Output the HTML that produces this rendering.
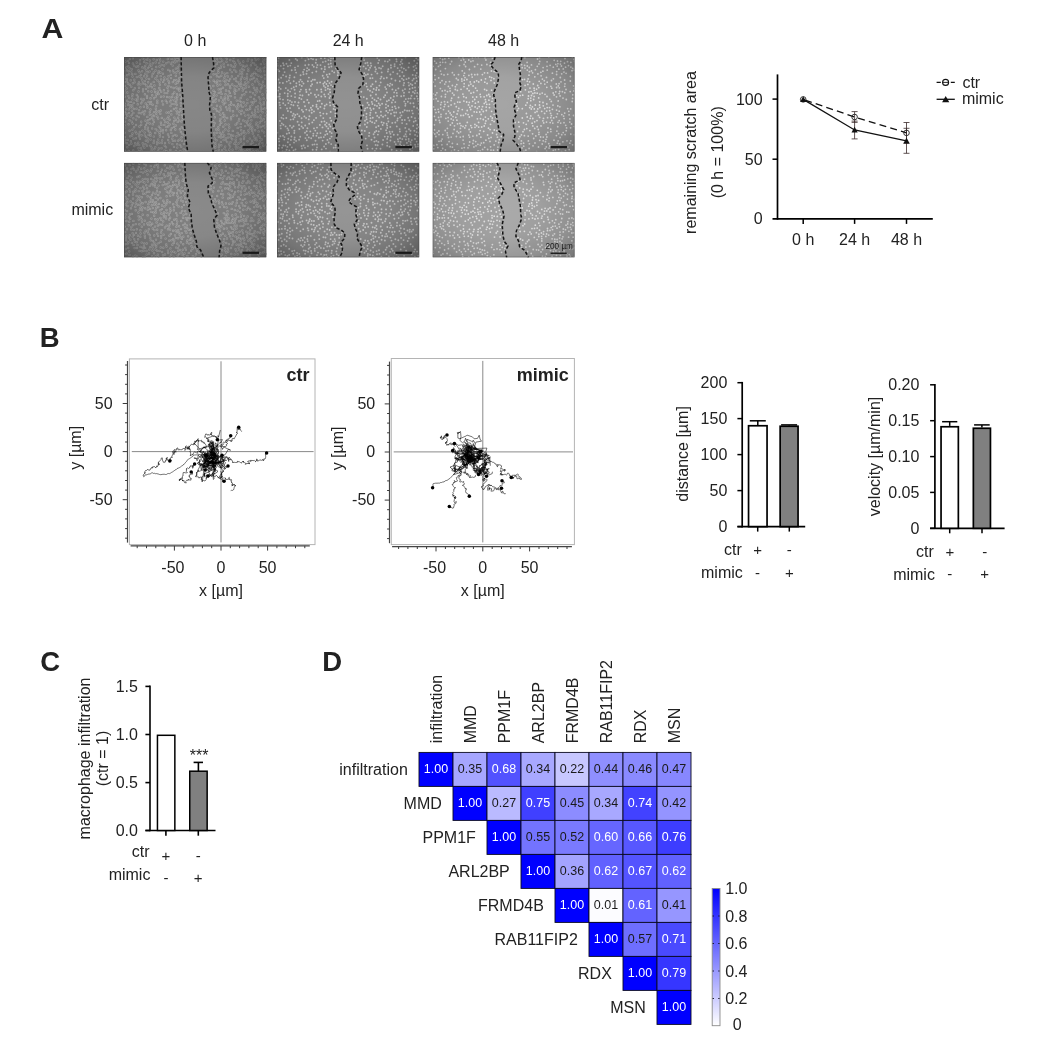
<!DOCTYPE html>
<html lang="en"><head><meta charset="utf-8"><title>Figure</title>
<style>html,body{margin:0;padding:0;background:#fff}svg{display:block;filter:blur(0.4px)}text{font-family:"Liberation Sans",Arial,sans-serif}</style>
</head><body>
<svg width="1046" height="1042" viewBox="0 0 1046 1042">
<defs>
<radialGradient id="g00" cx="48%" cy="50%" r="72%"><stop offset="0" stop-color="#000" stop-opacity="0"/><stop offset="0.4" stop-color="#000" stop-opacity="0.022"/><stop offset="0.72" stop-color="#000" stop-opacity="0.144"/><stop offset="1" stop-color="#000" stop-opacity="0.360"/></radialGradient>
<clipPath id="c00"><rect x="124.0" y="57.0" width="142.5" height="94.8"/></clipPath>
<radialGradient id="g01" cx="48%" cy="50%" r="72%"><stop offset="0" stop-color="#000" stop-opacity="0"/><stop offset="0.4" stop-color="#000" stop-opacity="0.022"/><stop offset="0.72" stop-color="#000" stop-opacity="0.144"/><stop offset="1" stop-color="#000" stop-opacity="0.360"/></radialGradient>
<clipPath id="c01"><rect x="277.0" y="57.0" width="142.4" height="94.8"/></clipPath>
<radialGradient id="g02" cx="48%" cy="50%" r="72%"><stop offset="0" stop-color="#000" stop-opacity="0"/><stop offset="0.4" stop-color="#000" stop-opacity="0.018"/><stop offset="0.72" stop-color="#000" stop-opacity="0.120"/><stop offset="1" stop-color="#000" stop-opacity="0.300"/></radialGradient>
<clipPath id="c02"><rect x="432.5" y="57.0" width="142.2" height="94.8"/></clipPath>
<radialGradient id="g10" cx="48%" cy="50%" r="72%"><stop offset="0" stop-color="#000" stop-opacity="0"/><stop offset="0.4" stop-color="#000" stop-opacity="0.022"/><stop offset="0.72" stop-color="#000" stop-opacity="0.144"/><stop offset="1" stop-color="#000" stop-opacity="0.360"/></radialGradient>
<clipPath id="c10"><rect x="124.0" y="162.8" width="142.5" height="94.7"/></clipPath>
<radialGradient id="g11" cx="48%" cy="50%" r="72%"><stop offset="0" stop-color="#000" stop-opacity="0"/><stop offset="0.4" stop-color="#000" stop-opacity="0.022"/><stop offset="0.72" stop-color="#000" stop-opacity="0.144"/><stop offset="1" stop-color="#000" stop-opacity="0.360"/></radialGradient>
<clipPath id="c11"><rect x="277.0" y="162.8" width="142.4" height="94.7"/></clipPath>
<radialGradient id="g12" cx="48%" cy="50%" r="72%"><stop offset="0" stop-color="#000" stop-opacity="0"/><stop offset="0.4" stop-color="#000" stop-opacity="0.017"/><stop offset="0.72" stop-color="#000" stop-opacity="0.112"/><stop offset="1" stop-color="#000" stop-opacity="0.280"/></radialGradient>
<clipPath id="c12"><rect x="432.5" y="162.8" width="142.2" height="94.7"/></clipPath>
<filter id="bl" x="-5%" y="-5%" width="110%" height="110%"><feGaussianBlur stdDeviation="0.45"/></filter>
<linearGradient id="cb" x1="0" y1="0" x2="0" y2="1"><stop offset="0" stop-color="#0000ff"/><stop offset="1" stop-color="#ffffff"/></linearGradient>
</defs>
<rect width="1046" height="1042" fill="#fff"/>
<g clip-path="url(#c00)">
<rect x="124.0" y="57.0" width="142.5" height="94.8" fill="#7d7d7d"/>
<g filter="url(#bl)"><path d="M170.1 71.3h0M216.8 63.9h0M132.3 105.1h0M129.3 98.1h0M134.0 65.6h0M184.5 135.4h0M141.6 78.2h0M213.4 146.8h0M263.1 61.4h0M246.3 84.5h0M144.6 68.2h0M168.0 134.4h0M149.8 112.1h0M215.0 92.3h0M132.5 76.5h0M221.0 97.5h0M168.8 112.5h0M237.2 123.3h0M158.8 111.5h0M227.9 84.3h0M263.7 68.2h0M183.6 128.8h0M145.7 103.4h0M129.6 120.3h0M233.0 111.3h0M248.8 86.7h0M223.1 113.3h0M243.7 146.6h0M132.6 123.5h0M216.2 151.1h0M241.1 84.0h0M179.0 120.4h0M127.2 100.8h0M147.9 68.1h0M132.4 129.8h0M142.4 80.5h0M179.7 139.6h0M135.5 99.6h0M240.7 138.9h0M163.7 96.4h0M175.1 140.8h0M260.5 71.3h0M149.1 79.0h0M157.3 103.0h0M124.6 96.7h0M176.6 110.7h0M259.8 122.5h0M220.4 62.1h0M252.2 130.9h0M248.6 132.6h0M179.9 94.8h0M138.8 117.1h0M132.9 63.4h0M153.7 72.4h0M172.5 62.0h0M124.0 71.3h0M138.5 91.5h0M127.6 139.9h0M211.5 71.1h0M159.9 89.9h0M175.9 68.6h0M245.0 151.1h0M136.2 66.7h0M172.8 82.1h0M242.1 72.3h0M127.3 147.2h0M247.0 123.0h0M161.2 91.8h0M147.8 130.2h0M171.0 78.1h0M239.6 150.4h0M245.5 133.4h0M240.6 127.1h0M156.3 106.1h0M174.7 59.7h0M128.0 83.5h0M160.9 122.7h0M260.3 99.4h0M257.5 150.7h0M260.1 91.6h0M155.4 78.5h0M152.0 76.4h0M212.9 142.3h0M243.8 102.5h0M217.0 132.8h0M136.1 119.6h0M230.9 102.3h0M149.4 131.8h0M171.4 132.9h0M262.5 94.5h0M181.2 146.8h0M227.3 73.1h0M142.1 71.3h0M252.9 133.5h0M144.8 135.4h0M263.7 119.3h0M173.9 109.0h0M142.7 58.4h0M241.7 77.0h0M159.9 84.8h0M161.0 96.7h0M142.7 143.3h0M174.4 100.4h0M183.9 144.0h0M124.6 132.8h0M148.6 101.9h0M227.3 109.8h0M170.5 106.1h0M139.1 110.1h0M234.0 105.1h0M254.0 99.0h0M211.3 104.9h0M223.6 140.1h0M258.3 81.6h0M243.7 70.0h0M141.3 98.9h0M134.3 79.8h0M235.7 142.0h0M146.0 124.9h0M218.1 70.6h0M249.8 148.7h0M155.3 147.3h0M180.8 103.2h0M265.1 135.9h0M147.0 97.9h0M151.9 87.2h0M226.9 58.8h0M126.6 88.4h0M133.2 150.4h0M236.3 149.1h0M138.9 82.2h0M129.6 130.8h0M162.5 69.3h0M240.7 81.5h0M145.3 144.1h0M136.7 62.5h0M134.3 146.0h0M214.4 133.0h0M135.9 138.2h0M133.5 138.8h0M139.6 72.3h0M168.5 85.9h0M232.2 84.5h0M159.7 58.5h0M151.0 102.0h0M257.2 67.1h0M240.7 98.0h0M222.0 150.1h0M172.8 135.9h0M224.7 117.3h0M181.7 89.9h0M131.8 69.3h0M134.1 127.2h0M160.4 72.5h0M248.1 120.6h0M164.2 80.0h0M165.8 100.6h0M161.5 148.2h0M262.6 108.9h0M158.8 148.5h0M168.1 90.8h0M124.2 93.2h0M152.6 104.8h0M124.7 82.0h0M136.8 94.9h0M129.9 59.1h0M167.4 79.1h0M231.0 119.3h0M226.0 140.3h0M179.5 87.9h0M264.3 71.2h0M227.2 118.0h0M130.2 136.2h0M251.1 116.5h0M228.6 134.0h0M143.9 106.7h0M238.7 135.3h0M221.3 122.7h0M156.8 60.0h0M143.0 91.2h0M139.0 136.2h0M213.2 121.5h0M237.7 127.9h0M229.0 80.9h0M134.6 82.2h0M227.9 76.5h0M229.4 149.5h0M233.3 115.5h0M145.0 81.1h0M229.9 85.9h0M220.3 84.6h0M251.3 75.9h0M263.4 145.8h0M154.0 112.1h0M240.9 105.2h0M250.4 123.7h0M157.0 142.1h0M124.5 103.6h0M169.0 136.7h0M124.2 128.2h0M256.0 124.6h0M252.5 84.5h0M177.0 94.2h0M266.3 112.9h0M175.4 97.6h0M163.2 61.6h0M164.7 145.7h0M159.5 82.2h0M177.2 147.6h0M258.0 109.1h0M226.5 61.7h0M228.4 99.7h0M256.1 69.1h0M166.4 127.1h0M263.1 81.7h0M217.5 85.5h0M147.8 72.3h0M153.6 142.9h0M253.1 151.5h0M151.4 65.6h0M172.7 65.6h0M230.8 96.1h0M177.7 89.1h0M132.8 83.3h0M247.0 77.5h0M181.0 99.3h0M259.9 137.5h0M248.4 59.1h0M128.6 124.3h0M251.6 101.9h0M179.8 144.9h0M258.2 125.4h0M216.2 129.5h0M157.1 144.2h0M214.7 123.2h0M140.0 63.7h0M179.3 78.2h0M260.6 118.1h0M157.5 80.4h0M167.8 59.1h0M219.1 144.7h0M172.2 96.9h0M221.3 75.8h0M262.2 86.6h0M240.9 78.9h0M155.6 129.1h0M166.0 147.2h0M155.8 96.5h0M218.8 146.9h0M144.9 94.3h0M154.3 149.3h0M144.2 61.9h0M132.6 94.3h0M252.0 140.8h0M228.4 151.6h0M256.8 88.2h0M150.4 145.7h0M230.3 60.0h0M218.7 92.9h0M148.1 57.3h0M163.9 90.3h0M260.2 68.7h0M261.4 76.7h0M174.8 134.9h0M131.0 101.9h0M177.1 144.2h0M151.5 91.5h0M251.8 59.9h0M182.5 134.0h0M233.3 60.9h0M129.0 62.9h0M255.1 81.4h0M230.5 142.2h0M260.5 115.5h0M161.4 124.9h0M169.1 83.1h0M254.6 117.1h0M258.4 59.3h0M260.3 147.4h0M179.1 80.8h0M256.3 74.3h0M241.2 130.3h0M210.5 88.1h0M235.5 64.5h0M152.1 128.4h0M159.2 63.1h0M128.8 109.4h0M170.4 149.9h0M161.7 65.0h0M137.7 104.3h0M225.1 99.4h0M230.6 137.3h0M218.7 68.5h0M243.8 84.9h0M145.8 140.8h0M180.4 151.1h0M239.2 118.9h0M265.2 66.7h0M243.8 143.7h0M129.8 84.8h0M141.0 75.0h0M262.6 112.3h0M256.5 92.3h0M247.4 99.6h0M161.0 130.7h0M155.0 92.0h0M144.1 76.3h0M160.3 113.8h0M216.9 76.3h0M168.5 76.3h0M237.3 109.0h0M180.3 109.2h0M215.1 65.6h0M147.3 122.9h0M247.2 151.5h0M175.8 75.7h0M124.8 142.5h0M181.9 140.7h0M126.1 109.3h0M215.3 143.2h0M136.7 116.0h0M176.8 104.8h0M144.8 83.9h0M152.1 69.0h0M236.0 78.1h0M181.6 137.2h0M242.2 74.3h0M227.3 142.1h0M213.4 86.0h0M127.3 115.7h0M232.8 130.9h0M228.5 130.7h0M151.6 150.1h0M254.5 72.7h0M236.3 145.2h0M133.3 90.3h0M231.8 72.1h0M240.2 70.6h0M153.7 81.9h0M129.2 74.3h0M147.0 145.8h0M220.9 141.9h0M140.4 107.3h0M248.4 109.6h0M138.9 151.1h0M213.7 94.4h0M237.7 82.1h0M175.3 129.5h0M168.6 57.2h0M128.8 71.2h0M211.8 98.0h0M217.1 59.1h0M124.4 90.7h0M212.9 102.0h0M143.2 145.8h0M158.7 71.2h0M125.6 118.1h0M216.0 99.1h0M159.4 142.7h0M130.3 107.4h0M258.1 70.5h0M152.4 114.6h0M239.9 73.6h0M130.9 141.3h0M235.6 124.8h0M124.9 137.1h0M156.2 67.0h0M171.8 128.1h0M223.1 137.1h0M225.4 82.2h0M236.4 106.6h0M161.8 117.9h0M161.1 79.4h0M230.0 146.6h0M230.3 88.0h0M218.8 149.8h0M154.2 116.0h0M135.1 143.3h0M144.6 59.6h0M139.2 145.1h0M173.1 70.4h0M128.1 60.9h0M222.7 117.1h0M223.3 126.8h0M133.4 113.0h0M240.8 141.5h0M254.3 146.5h0M139.3 76.5h0M140.0 60.3h0M214.4 135.2h0M138.2 66.3h0M231.9 76.4h0M169.5 97.2h0M127.0 81.3h0M164.3 124.9h0M176.4 87.4h0M261.4 104.8h0M245.3 115.6h0M128.4 96.1h0M173.4 123.8h0M246.9 65.6h0M124.2 76.2h0M232.6 149.7h0M150.3 103.9h0M164.4 77.4h0M223.7 104.2h0M135.5 131.7h0M223.3 131.6h0M213.5 90.7h0M250.9 65.2h0M252.4 104.5h0M178.1 140.8h0M157.3 100.7h0M173.7 88.0h0M146.1 136.9h0M218.3 127.3h0M250.1 79.6h0M159.3 88.0h0M170.8 74.9h0M263.0 126.1h0M138.5 148.2h0M264.2 132.4h0M152.0 117.5h0M179.3 60.2h0M180.9 132.0h0M144.2 114.2h0M181.7 127.2h0M245.5 121.4h0M168.6 116.6h0M137.9 96.8h0M213.7 80.7h0M150.1 119.0h0M234.9 93.8h0M258.0 106.2h0M153.9 121.9h0M179.9 129.3h0M141.4 150.3h0M174.7 62.4h0M155.2 133.0h0M142.4 130.6h0M174.3 117.6h0M240.7 134.4h0M242.8 90.6h0M245.2 82.4h0M124.4 125.4h0M167.0 102.5h0M256.3 138.0h0M132.1 135.5h0M214.2 58.4h0M217.5 80.7h0M138.5 70.5h0M157.3 130.6h0M147.9 141.5h0M236.3 136.5h0M218.8 136.7h0M177.4 96.7h0M260.9 64.1h0M214.8 117.3h0M221.3 145.3h0M172.3 138.7h0M176.2 102.0h0M154.0 98.3h0M242.0 95.3h0M171.2 87.1h0M166.6 112.6h0M250.2 108.7h0M255.3 114.7h0M219.0 100.4h0M232.7 66.6h0M149.8 60.5h0M234.4 143.7h0M167.0 97.0h0M215.5 145.5h0M131.8 110.8h0M129.6 68.3h0M239.5 111.5h0M263.8 102.1h0M124.7 121.8h0M226.5 80.0h0M225.7 138.1h0M228.0 65.0h0M240.5 64.6h0M168.3 126.2h0M147.7 138.6h0M144.6 132.6h0M213.7 96.6h0M258.7 131.4h0M224.2 135.4h0M171.3 114.4h0M209.7 86.3h0M185.1 141.2h0M177.7 121.9h0M239.1 83.9h0M256.8 79.2h0M160.3 128.2h0M236.8 100.6h0M136.5 133.5h0M234.0 79.1h0M250.1 106.5h0M149.7 123.5h0M181.4 106.0h0M266.1 92.5h0M236.2 71.8h0M128.8 150.9h0M247.4 103.1h0M235.0 97.4h0M240.7 148.3h0M160.2 60.6h0M152.6 74.1h0M253.7 63.1h0M141.1 147.9h0M160.7 110.5h0M215.3 147.7h0M261.6 151.0h0M252.6 142.8h0M243.3 61.5h0M139.0 87.7h0M220.6 58.2h0M129.1 144.9h0M247.5 141.2h0M143.9 99.4h0M241.3 102.3h0M213.5 70.5h0M155.6 62.4h0M243.6 88.7h0M169.3 142.6h0M219.2 77.0h0M160.7 76.1h0M175.9 150.9h0M266.2 144.7h0M137.9 84.4h0M251.7 62.4h0M263.5 58.5h0M239.0 89.3h0M242.6 106.9h0M150.5 98.3h0M254.0 77.7h0M225.4 75.6h0M152.8 63.2h0M228.4 95.7h0M244.0 139.0h0M253.7 102.2h0M248.3 82.2h0M150.5 135.8h0M176.3 72.5h0M176.9 113.4h0M124.7 106.3h0M141.2 124.7h0M169.7 124.4h0M159.7 134.5h0M128.3 66.1h0M126.5 113.8h0M224.1 66.8h0M247.9 125.0h0M145.0 111.3h0M241.7 145.9h0M234.7 89.1h0M186.1 150.0h0M238.6 143.5h0M127.0 70.2h0M262.2 130.6h0M257.5 117.0h0M215.4 82.2h0M259.5 84.3h0M167.5 118.4h0M141.2 113.3h0M162.2 101.2h0M136.5 108.8h0M152.7 124.3h0M246.8 79.6h0M164.6 150.6h0M166.1 130.2h0M146.6 63.3h0M260.7 127.0h0M146.0 88.9h0M174.2 121.0h0M229.3 127.5h0M235.7 139.7h0M210.5 93.0h0M150.3 85.8h0M244.2 136.5h0M125.5 61.5h0M255.1 130.3h0M221.6 93.9h0M174.0 146.9h0M220.4 106.8h0M265.9 89.5h0M148.3 87.2h0M250.6 96.9h0M213.8 114.2h0M214.7 61.0h0M167.7 122.5h0M124.6 85.9h0M244.0 112.6h0M132.9 58.2h0M226.0 90.5h0M148.1 82.3h0M138.2 142.7h0M240.3 85.8h0M158.6 94.0h0M168.1 140.0h0M262.4 84.6h0M141.6 135.3h0M174.1 80.2h0M151.2 83.9h0M218.7 89.4h0M252.2 112.7h0M176.4 80.3h0M210.7 77.1h0M248.3 68.6h0M179.6 65.2h0M169.7 119.8h0M166.3 63.2h0M249.8 138.6h0M142.8 83.2h0M182.8 119.5h0M223.6 80.6h0M213.6 74.2h0M228.6 124.6h0M147.1 75.8h0M167.2 93.1h0M173.7 57.1h0M130.7 80.2h0M139.8 132.0h0M230.8 65.2h0M164.1 65.5h0M258.9 97.2h0M256.6 122.6h0M213.5 99.9h0M168.3 69.9h0M224.7 120.5h0M257.4 90.3h0M148.1 120.2h0M233.2 135.8h0M140.3 84.4h0M170.2 101.4h0M265.4 128.1h0M136.0 125.0h0M241.6 87.4h0M176.6 135.8h0M240.8 123.9h0M146.4 85.4h0M222.0 72.5h0M164.4 119.7h0M262.4 143.1h0M247.3 149.4h0M239.6 62.7h0M220.4 114.7h0M259.8 102.6h0M172.9 140.9h0M140.0 138.7h0M156.3 111.3h0M265.2 125.4h0M179.9 73.2h0M260.8 110.4h0M234.4 70.0h0M234.6 62.5h0M154.4 85.4h0M224.8 97.4h0M254.7 139.5h0M147.9 127.7h0M221.0 135.3h0M220.2 81.1h0M150.4 109.5h0M165.3 122.1h0M178.3 70.7h0M222.3 133.6h0M238.1 60.4h0M244.4 94.3h0M248.4 114.9h0M134.8 88.2h0M148.2 91.2h0M179.3 90.5h0M124.9 111.9h0M171.6 58.9h0M163.0 104.4h0M265.4 60.2h0M248.3 130.4h0M175.7 83.7h0M229.4 105.2h0M125.0 139.6h0M255.3 112.3h0M135.4 73.9h0M133.7 102.9h0M224.4 77.7h0M180.9 76.0h0M248.8 117.7h0M216.5 95.4h0M220.8 89.0h0M132.2 96.3h0M130.5 116.4h0M171.7 103.9h0M209.2 81.4h0M146.3 70.5h0M225.4 129.4h0M234.6 86.3h0M234.3 91.4h0M265.0 78.6h0M145.3 73.8h0M229.1 144.4h0M147.1 59.8h0M264.0 104.3h0M139.4 126.5h0M133.3 118.2h0M157.0 76.3h0M166.5 151.3h0M231.1 135.0h0M153.9 140.8h0M247.0 74.3h0M221.3 65.6h0M172.4 144.1h0M222.2 60.6h0M141.2 103.2h0M145.1 127.0h0M174.4 104.0h0M254.9 90.1h0M249.8 126.3h0M162.9 73.8h0M130.2 105.2h0M175.7 58.0h0M183.7 149.2h0M266.3 57.5h0M244.1 131.3h0M222.9 87.8h0M216.1 109.0h0M245.6 105.4h0M157.4 116.7h0M229.9 92.9h0M225.5 94.3h0M213.6 108.5h0M161.8 143.1h0M155.5 70.5h0M256.1 107.1h0M148.6 134.9h0M247.7 61.1h0M238.5 106.4h0M223.0 99.6h0M220.9 91.8h0M132.2 73.9h0M242.9 65.7h0M214.7 138.4h0M236.9 115.6h0M177.0 61.2h0M225.5 85.0h0M178.9 111.9h0M170.9 63.7h0M252.4 128.8h0M220.9 109.5h0M131.8 121.6h0M225.3 102.8h0M248.3 70.8h0M124.9 150.7h0M163.1 81.9h0M168.6 81.2h0M246.4 109.7h0M238.2 76.0h0M255.0 109.7h0M131.3 86.8h0M163.0 132.5h0M238.1 104.2h0M220.0 121.0h0M235.8 147.1h0M253.9 87.8h0M178.1 117.7h0M155.8 108.7h0M137.3 101.0h0M227.8 97.8h0M220.7 67.8h0M242.1 68.6h0M255.6 151.4h0M244.5 78.5h0M255.8 60.1h0M217.6 61.7h0M171.5 99.6h0M142.8 111.8h0M174.3 92.5h0M218.5 72.5h0M145.2 65.9h0M147.4 107.8h0M152.2 95.3h0M158.2 139.6h0M239.5 100.8h0M255.2 58.0h0M158.9 126.6h0M231.1 117.3h0M173.8 72.4h0M261.6 120.8h0M230.2 69.8h0M242.6 133.0h0M260.9 107.4h0M159.9 136.5h0M258.2 135.3h0M126.3 67.5h0M141.2 121.7h0M264.9 75.0h0M251.4 120.2h0M259.8 141.5h0M238.7 121.1h0M168.5 62.1h0M258.5 75.7h0M241.8 110.7h0M134.0 109.0h0M172.7 94.2h0M150.5 139.6h0M143.0 89.1h0M219.2 111.8h0M181.5 111.4h0M163.0 137.1h0M145.5 120.7h0M231.5 104.5h0M216.5 140.3h0M224.3 115.1h0M223.7 63.8h0M132.4 99.3h0M171.2 110.9h0M153.8 136.6h0M128.0 104.8h0M213.8 125.7h0M261.0 88.2h0M264.5 63.8h0M259.1 144.2h0M147.3 116.9h0M265.3 86.0h0M142.3 67.3h0M127.0 143.2h0M225.2 146.6h0M263.7 98.4h0M178.0 57.9h0M253.1 93.3h0M138.8 113.0h0M219.9 124.7h0M158.2 118.6h0M222.6 101.7h0M158.0 150.6h0M156.6 94.2h0M150.6 133.5h0M147.2 105.5h0M250.8 143.9h0M180.6 57.7h0M228.0 137.6h0M244.9 66.6h0M233.6 57.7h0M182.1 114.9h0M254.1 136.4h0M221.0 137.6h0M137.5 99.0h0M127.0 78.9h0M170.8 130.0h0M176.3 107.9h0M136.8 77.1h0M165.0 142.9h0M226.0 150.8h0M163.0 129.9h0M149.3 66.5h0M216.9 111.0h0M175.8 125.5h0M159.4 132.5h0M164.7 93.1h0M215.4 101.7h0M230.1 110.4h0M158.2 73.2h0M255.7 100.7h0M153.3 119.8h0M217.0 105.8h0M229.5 107.9h0M246.2 91.9h0M252.6 74.2h0M156.3 113.7h0M181.3 121.4h0M266.4 100.3h0M127.3 92.5h0M124.0 114.6h0M131.4 143.7h0M165.3 84.4h0M261.8 139.5h0M157.7 91.7h0M219.8 132.8h0M216.3 74.1h0M252.3 79.0h0M228.8 91.1h0M218.5 129.7h0M181.9 96.9h0M258.3 111.7h0M224.4 148.6h0M241.1 114.0h0M124.6 78.8h0M131.3 71.6h0M237.6 133.0h0M146.4 78.5h0M237.2 86.4h0M131.9 114.8h0M256.8 140.2h0M226.1 107.2h0M177.0 99.4h0M256.2 145.5h0M142.4 101.2h0M151.6 147.8h0M139.2 134.1h0M245.8 87.5h0M177.9 67.5h0M182.5 117.3h0M250.4 128.6h0M257.7 127.6h0M220.5 118.9h0M154.5 89.3h0M159.5 66.5h0M238.3 147.4h0M252.2 126.6h0M129.0 113.0h0M236.4 90.8h0M249.8 151.1h0M144.4 147.7h0M266.5 110.2h0M232.2 139.3h0M153.6 59.2h0M252.3 147.5h0M225.5 124.4h0M147.0 95.9h0M245.1 126.1h0M255.1 95.1h0M179.2 114.7h0M127.1 75.3h0M132.5 133.4h0M136.8 144.7h0M149.8 114.8h0M224.6 73.6h0M149.6 71.4h0M174.0 126.9h0M132.4 107.3h0M177.7 82.5h0M265.2 122.2h0M255.5 64.9h0M145.2 129.1h0M234.7 66.8h0M217.2 83.3h0M264.8 108.3h0M128.7 102.3h0M236.0 80.7h0M253.2 115.1h0M230.1 79.0h0M250.3 91.9h0M243.2 120.4h0M225.6 57.2h0M162.1 140.5h0M242.3 150.0h0M175.9 119.7h0M265.6 116.1h0M182.8 108.5h0M149.8 63.6h0M167.5 87.7h0" stroke="#aaaaaa" stroke-width="2.4" stroke-linecap="round" fill="none" opacity="0.8"/>
<path d="M170.1 71.3h0M216.8 63.9h0M132.3 105.1h0M129.3 98.1h0M134.0 65.6h0M184.5 135.4h0M141.6 78.2h0M213.4 146.8h0M263.1 61.4h0M246.3 84.5h0M144.6 68.2h0M168.0 134.4h0M149.8 112.1h0M215.0 92.3h0M132.5 76.5h0M221.0 97.5h0M168.8 112.5h0M237.2 123.3h0M158.8 111.5h0M227.9 84.3h0M263.7 68.2h0M183.6 128.8h0M145.7 103.4h0M129.6 120.3h0M233.0 111.3h0M248.8 86.7h0M223.1 113.3h0M243.7 146.6h0M132.6 123.5h0M216.2 151.1h0M241.1 84.0h0M179.0 120.4h0M127.2 100.8h0M147.9 68.1h0M132.4 129.8h0M142.4 80.5h0M179.7 139.6h0M135.5 99.6h0M240.7 138.9h0M163.7 96.4h0M175.1 140.8h0M260.5 71.3h0M149.1 79.0h0M157.3 103.0h0M124.6 96.7h0M176.6 110.7h0M259.8 122.5h0M220.4 62.1h0M252.2 130.9h0M248.6 132.6h0M179.9 94.8h0M138.8 117.1h0M132.9 63.4h0M153.7 72.4h0M172.5 62.0h0M124.0 71.3h0M138.5 91.5h0M127.6 139.9h0M211.5 71.1h0M159.9 89.9h0M175.9 68.6h0M245.0 151.1h0M136.2 66.7h0M172.8 82.1h0M242.1 72.3h0M127.3 147.2h0M247.0 123.0h0M161.2 91.8h0M147.8 130.2h0M171.0 78.1h0M239.6 150.4h0M245.5 133.4h0M240.6 127.1h0M156.3 106.1h0M174.7 59.7h0M128.0 83.5h0M160.9 122.7h0M260.3 99.4h0M257.5 150.7h0M260.1 91.6h0M155.4 78.5h0M152.0 76.4h0M212.9 142.3h0M243.8 102.5h0M217.0 132.8h0M136.1 119.6h0M230.9 102.3h0M149.4 131.8h0M171.4 132.9h0M262.5 94.5h0M181.2 146.8h0M227.3 73.1h0M142.1 71.3h0M252.9 133.5h0M144.8 135.4h0M263.7 119.3h0M173.9 109.0h0M142.7 58.4h0M241.7 77.0h0M159.9 84.8h0M161.0 96.7h0M142.7 143.3h0M174.4 100.4h0M183.9 144.0h0M124.6 132.8h0M148.6 101.9h0M227.3 109.8h0M170.5 106.1h0M139.1 110.1h0M234.0 105.1h0M254.0 99.0h0M211.3 104.9h0M223.6 140.1h0M258.3 81.6h0M243.7 70.0h0M141.3 98.9h0M134.3 79.8h0M235.7 142.0h0M146.0 124.9h0M218.1 70.6h0M249.8 148.7h0M155.3 147.3h0M180.8 103.2h0M265.1 135.9h0M147.0 97.9h0M151.9 87.2h0M226.9 58.8h0M126.6 88.4h0M133.2 150.4h0M236.3 149.1h0M138.9 82.2h0M129.6 130.8h0M162.5 69.3h0M240.7 81.5h0M145.3 144.1h0M136.7 62.5h0M134.3 146.0h0M214.4 133.0h0M135.9 138.2h0M133.5 138.8h0M139.6 72.3h0M168.5 85.9h0M232.2 84.5h0M159.7 58.5h0M151.0 102.0h0M257.2 67.1h0M240.7 98.0h0M222.0 150.1h0M172.8 135.9h0M224.7 117.3h0M181.7 89.9h0M131.8 69.3h0M134.1 127.2h0M160.4 72.5h0M248.1 120.6h0M164.2 80.0h0M165.8 100.6h0M161.5 148.2h0M262.6 108.9h0M158.8 148.5h0M168.1 90.8h0M124.2 93.2h0M152.6 104.8h0M124.7 82.0h0M136.8 94.9h0M129.9 59.1h0M167.4 79.1h0M231.0 119.3h0M226.0 140.3h0M179.5 87.9h0M264.3 71.2h0M227.2 118.0h0M130.2 136.2h0M251.1 116.5h0M228.6 134.0h0M143.9 106.7h0M238.7 135.3h0M221.3 122.7h0M156.8 60.0h0M143.0 91.2h0M139.0 136.2h0M213.2 121.5h0M237.7 127.9h0M229.0 80.9h0M134.6 82.2h0M227.9 76.5h0M229.4 149.5h0M233.3 115.5h0M145.0 81.1h0M229.9 85.9h0M220.3 84.6h0M251.3 75.9h0M263.4 145.8h0M154.0 112.1h0M240.9 105.2h0M250.4 123.7h0M157.0 142.1h0M124.5 103.6h0M169.0 136.7h0M124.2 128.2h0M256.0 124.6h0M252.5 84.5h0M177.0 94.2h0M266.3 112.9h0M175.4 97.6h0M163.2 61.6h0M164.7 145.7h0M159.5 82.2h0M177.2 147.6h0M258.0 109.1h0M226.5 61.7h0M228.4 99.7h0M256.1 69.1h0M166.4 127.1h0M263.1 81.7h0M217.5 85.5h0M147.8 72.3h0M153.6 142.9h0M253.1 151.5h0M151.4 65.6h0M172.7 65.6h0M230.8 96.1h0M177.7 89.1h0M132.8 83.3h0M247.0 77.5h0M181.0 99.3h0M259.9 137.5h0M248.4 59.1h0M128.6 124.3h0M251.6 101.9h0M179.8 144.9h0M258.2 125.4h0M216.2 129.5h0M157.1 144.2h0M214.7 123.2h0M140.0 63.7h0M179.3 78.2h0M260.6 118.1h0M157.5 80.4h0M167.8 59.1h0M219.1 144.7h0M172.2 96.9h0M221.3 75.8h0M262.2 86.6h0M240.9 78.9h0M155.6 129.1h0M166.0 147.2h0M155.8 96.5h0M218.8 146.9h0M144.9 94.3h0M154.3 149.3h0M144.2 61.9h0M132.6 94.3h0M252.0 140.8h0M228.4 151.6h0M256.8 88.2h0M150.4 145.7h0M230.3 60.0h0M218.7 92.9h0M148.1 57.3h0M163.9 90.3h0M260.2 68.7h0M261.4 76.7h0M174.8 134.9h0M131.0 101.9h0M177.1 144.2h0M151.5 91.5h0M251.8 59.9h0M182.5 134.0h0M233.3 60.9h0M129.0 62.9h0M255.1 81.4h0M230.5 142.2h0M260.5 115.5h0M161.4 124.9h0M169.1 83.1h0M254.6 117.1h0M258.4 59.3h0M260.3 147.4h0M179.1 80.8h0M256.3 74.3h0M241.2 130.3h0M210.5 88.1h0M235.5 64.5h0M152.1 128.4h0M159.2 63.1h0M128.8 109.4h0M170.4 149.9h0M161.7 65.0h0M137.7 104.3h0M225.1 99.4h0M230.6 137.3h0M218.7 68.5h0M243.8 84.9h0M145.8 140.8h0M180.4 151.1h0M239.2 118.9h0M265.2 66.7h0M243.8 143.7h0M129.8 84.8h0M141.0 75.0h0M262.6 112.3h0M256.5 92.3h0M247.4 99.6h0M161.0 130.7h0M155.0 92.0h0M144.1 76.3h0M160.3 113.8h0M216.9 76.3h0M168.5 76.3h0M237.3 109.0h0M180.3 109.2h0M215.1 65.6h0M147.3 122.9h0M247.2 151.5h0M175.8 75.7h0M124.8 142.5h0M181.9 140.7h0M126.1 109.3h0M215.3 143.2h0M136.7 116.0h0M176.8 104.8h0M144.8 83.9h0M152.1 69.0h0M236.0 78.1h0M181.6 137.2h0M242.2 74.3h0M227.3 142.1h0M213.4 86.0h0M127.3 115.7h0M232.8 130.9h0M228.5 130.7h0M151.6 150.1h0M254.5 72.7h0M236.3 145.2h0M133.3 90.3h0M231.8 72.1h0M240.2 70.6h0M153.7 81.9h0M129.2 74.3h0M147.0 145.8h0M220.9 141.9h0M140.4 107.3h0M248.4 109.6h0M138.9 151.1h0M213.7 94.4h0M237.7 82.1h0M175.3 129.5h0M168.6 57.2h0M128.8 71.2h0M211.8 98.0h0M217.1 59.1h0M124.4 90.7h0M212.9 102.0h0M143.2 145.8h0M158.7 71.2h0M125.6 118.1h0M216.0 99.1h0M159.4 142.7h0M130.3 107.4h0M258.1 70.5h0M152.4 114.6h0M239.9 73.6h0M130.9 141.3h0M235.6 124.8h0M124.9 137.1h0M156.2 67.0h0M171.8 128.1h0M223.1 137.1h0M225.4 82.2h0M236.4 106.6h0M161.8 117.9h0M161.1 79.4h0M230.0 146.6h0M230.3 88.0h0M218.8 149.8h0M154.2 116.0h0M135.1 143.3h0M144.6 59.6h0M139.2 145.1h0M173.1 70.4h0M128.1 60.9h0M222.7 117.1h0M223.3 126.8h0M133.4 113.0h0M240.8 141.5h0M254.3 146.5h0M139.3 76.5h0M140.0 60.3h0M214.4 135.2h0M138.2 66.3h0M231.9 76.4h0M169.5 97.2h0M127.0 81.3h0M164.3 124.9h0M176.4 87.4h0M261.4 104.8h0M245.3 115.6h0M128.4 96.1h0M173.4 123.8h0M246.9 65.6h0M124.2 76.2h0M232.6 149.7h0M150.3 103.9h0M164.4 77.4h0M223.7 104.2h0M135.5 131.7h0M223.3 131.6h0M213.5 90.7h0M250.9 65.2h0M252.4 104.5h0M178.1 140.8h0M157.3 100.7h0M173.7 88.0h0M146.1 136.9h0M218.3 127.3h0M250.1 79.6h0M159.3 88.0h0M170.8 74.9h0M263.0 126.1h0M138.5 148.2h0M264.2 132.4h0M152.0 117.5h0M179.3 60.2h0M180.9 132.0h0M144.2 114.2h0M181.7 127.2h0M245.5 121.4h0M168.6 116.6h0M137.9 96.8h0M213.7 80.7h0M150.1 119.0h0M234.9 93.8h0M258.0 106.2h0M153.9 121.9h0M179.9 129.3h0M141.4 150.3h0M174.7 62.4h0M155.2 133.0h0M142.4 130.6h0M174.3 117.6h0M240.7 134.4h0M242.8 90.6h0M245.2 82.4h0M124.4 125.4h0M167.0 102.5h0M256.3 138.0h0M132.1 135.5h0M214.2 58.4h0M217.5 80.7h0M138.5 70.5h0M157.3 130.6h0M147.9 141.5h0M236.3 136.5h0M218.8 136.7h0M177.4 96.7h0M260.9 64.1h0M214.8 117.3h0M221.3 145.3h0M172.3 138.7h0M176.2 102.0h0M154.0 98.3h0M242.0 95.3h0M171.2 87.1h0M166.6 112.6h0M250.2 108.7h0M255.3 114.7h0M219.0 100.4h0M232.7 66.6h0M149.8 60.5h0M234.4 143.7h0M167.0 97.0h0M215.5 145.5h0M131.8 110.8h0M129.6 68.3h0M239.5 111.5h0M263.8 102.1h0M124.7 121.8h0M226.5 80.0h0M225.7 138.1h0M228.0 65.0h0M240.5 64.6h0M168.3 126.2h0M147.7 138.6h0M144.6 132.6h0M213.7 96.6h0M258.7 131.4h0M224.2 135.4h0M171.3 114.4h0M209.7 86.3h0M185.1 141.2h0M177.7 121.9h0M239.1 83.9h0M256.8 79.2h0M160.3 128.2h0M236.8 100.6h0M136.5 133.5h0M234.0 79.1h0M250.1 106.5h0M149.7 123.5h0M181.4 106.0h0M266.1 92.5h0M236.2 71.8h0M128.8 150.9h0M247.4 103.1h0M235.0 97.4h0M240.7 148.3h0M160.2 60.6h0M152.6 74.1h0M253.7 63.1h0M141.1 147.9h0M160.7 110.5h0M215.3 147.7h0M261.6 151.0h0M252.6 142.8h0M243.3 61.5h0M139.0 87.7h0M220.6 58.2h0M129.1 144.9h0M247.5 141.2h0M143.9 99.4h0M241.3 102.3h0M213.5 70.5h0M155.6 62.4h0M243.6 88.7h0M169.3 142.6h0M219.2 77.0h0M160.7 76.1h0M175.9 150.9h0M266.2 144.7h0M137.9 84.4h0M251.7 62.4h0M263.5 58.5h0M239.0 89.3h0M242.6 106.9h0M150.5 98.3h0M254.0 77.7h0M225.4 75.6h0M152.8 63.2h0M228.4 95.7h0M244.0 139.0h0M253.7 102.2h0M248.3 82.2h0M150.5 135.8h0M176.3 72.5h0M176.9 113.4h0M124.7 106.3h0M141.2 124.7h0M169.7 124.4h0M159.7 134.5h0M128.3 66.1h0M126.5 113.8h0M224.1 66.8h0M247.9 125.0h0M145.0 111.3h0M241.7 145.9h0M234.7 89.1h0M186.1 150.0h0M238.6 143.5h0M127.0 70.2h0M262.2 130.6h0M257.5 117.0h0M215.4 82.2h0M259.5 84.3h0M167.5 118.4h0M141.2 113.3h0M162.2 101.2h0M136.5 108.8h0M152.7 124.3h0M246.8 79.6h0M164.6 150.6h0M166.1 130.2h0M146.6 63.3h0M260.7 127.0h0M146.0 88.9h0M174.2 121.0h0M229.3 127.5h0M235.7 139.7h0M210.5 93.0h0M150.3 85.8h0M244.2 136.5h0M125.5 61.5h0M255.1 130.3h0M221.6 93.9h0M174.0 146.9h0M220.4 106.8h0M265.9 89.5h0M148.3 87.2h0M250.6 96.9h0M213.8 114.2h0M214.7 61.0h0M167.7 122.5h0M124.6 85.9h0M244.0 112.6h0M132.9 58.2h0M226.0 90.5h0M148.1 82.3h0M138.2 142.7h0M240.3 85.8h0M158.6 94.0h0M168.1 140.0h0M262.4 84.6h0M141.6 135.3h0M174.1 80.2h0M151.2 83.9h0M218.7 89.4h0M252.2 112.7h0M176.4 80.3h0M210.7 77.1h0M248.3 68.6h0M179.6 65.2h0M169.7 119.8h0M166.3 63.2h0M249.8 138.6h0M142.8 83.2h0M182.8 119.5h0M223.6 80.6h0M213.6 74.2h0M228.6 124.6h0M147.1 75.8h0M167.2 93.1h0M173.7 57.1h0M130.7 80.2h0M139.8 132.0h0M230.8 65.2h0M164.1 65.5h0M258.9 97.2h0M256.6 122.6h0M213.5 99.9h0M168.3 69.9h0M224.7 120.5h0M257.4 90.3h0M148.1 120.2h0M233.2 135.8h0M140.3 84.4h0M170.2 101.4h0M265.4 128.1h0M136.0 125.0h0M241.6 87.4h0M176.6 135.8h0M240.8 123.9h0M146.4 85.4h0M222.0 72.5h0M164.4 119.7h0M262.4 143.1h0M247.3 149.4h0M239.6 62.7h0M220.4 114.7h0M259.8 102.6h0M172.9 140.9h0M140.0 138.7h0M156.3 111.3h0M265.2 125.4h0M179.9 73.2h0M260.8 110.4h0M234.4 70.0h0M234.6 62.5h0M154.4 85.4h0M224.8 97.4h0M254.7 139.5h0M147.9 127.7h0M221.0 135.3h0M220.2 81.1h0M150.4 109.5h0M165.3 122.1h0M178.3 70.7h0M222.3 133.6h0M238.1 60.4h0M244.4 94.3h0M248.4 114.9h0M134.8 88.2h0M148.2 91.2h0M179.3 90.5h0M124.9 111.9h0M171.6 58.9h0M163.0 104.4h0M265.4 60.2h0M248.3 130.4h0M175.7 83.7h0M229.4 105.2h0M125.0 139.6h0M255.3 112.3h0M135.4 73.9h0M133.7 102.9h0M224.4 77.7h0M180.9 76.0h0M248.8 117.7h0M216.5 95.4h0M220.8 89.0h0M132.2 96.3h0M130.5 116.4h0M171.7 103.9h0M209.2 81.4h0M146.3 70.5h0M225.4 129.4h0M234.6 86.3h0M234.3 91.4h0M265.0 78.6h0M145.3 73.8h0M229.1 144.4h0M147.1 59.8h0M264.0 104.3h0M139.4 126.5h0M133.3 118.2h0M157.0 76.3h0M166.5 151.3h0M231.1 135.0h0M153.9 140.8h0M247.0 74.3h0M221.3 65.6h0M172.4 144.1h0M222.2 60.6h0M141.2 103.2h0M145.1 127.0h0M174.4 104.0h0M254.9 90.1h0M249.8 126.3h0M162.9 73.8h0M130.2 105.2h0M175.7 58.0h0M183.7 149.2h0M266.3 57.5h0M244.1 131.3h0M222.9 87.8h0M216.1 109.0h0M245.6 105.4h0M157.4 116.7h0M229.9 92.9h0M225.5 94.3h0M213.6 108.5h0M161.8 143.1h0M155.5 70.5h0M256.1 107.1h0M148.6 134.9h0M247.7 61.1h0M238.5 106.4h0M223.0 99.6h0M220.9 91.8h0M132.2 73.9h0M242.9 65.7h0M214.7 138.4h0M236.9 115.6h0M177.0 61.2h0M225.5 85.0h0M178.9 111.9h0M170.9 63.7h0M252.4 128.8h0M220.9 109.5h0M131.8 121.6h0M225.3 102.8h0M248.3 70.8h0M124.9 150.7h0M163.1 81.9h0M168.6 81.2h0M246.4 109.7h0M238.2 76.0h0M255.0 109.7h0M131.3 86.8h0M163.0 132.5h0M238.1 104.2h0M220.0 121.0h0M235.8 147.1h0M253.9 87.8h0M178.1 117.7h0M155.8 108.7h0M137.3 101.0h0M227.8 97.8h0M220.7 67.8h0M242.1 68.6h0M255.6 151.4h0M244.5 78.5h0M255.8 60.1h0M217.6 61.7h0M171.5 99.6h0M142.8 111.8h0M174.3 92.5h0M218.5 72.5h0M145.2 65.9h0M147.4 107.8h0M152.2 95.3h0M158.2 139.6h0M239.5 100.8h0M255.2 58.0h0M158.9 126.6h0M231.1 117.3h0M173.8 72.4h0M261.6 120.8h0M230.2 69.8h0M242.6 133.0h0M260.9 107.4h0M159.9 136.5h0M258.2 135.3h0M126.3 67.5h0M141.2 121.7h0M264.9 75.0h0M251.4 120.2h0M259.8 141.5h0M238.7 121.1h0M168.5 62.1h0M258.5 75.7h0M241.8 110.7h0M134.0 109.0h0M172.7 94.2h0M150.5 139.6h0M143.0 89.1h0M219.2 111.8h0M181.5 111.4h0M163.0 137.1h0M145.5 120.7h0M231.5 104.5h0M216.5 140.3h0M224.3 115.1h0M223.7 63.8h0M132.4 99.3h0M171.2 110.9h0M153.8 136.6h0M128.0 104.8h0M213.8 125.7h0M261.0 88.2h0M264.5 63.8h0M259.1 144.2h0M147.3 116.9h0M265.3 86.0h0M142.3 67.3h0M127.0 143.2h0M225.2 146.6h0M263.7 98.4h0M178.0 57.9h0M253.1 93.3h0M138.8 113.0h0M219.9 124.7h0M158.2 118.6h0M222.6 101.7h0M158.0 150.6h0M156.6 94.2h0M150.6 133.5h0M147.2 105.5h0M250.8 143.9h0M180.6 57.7h0M228.0 137.6h0M244.9 66.6h0M233.6 57.7h0M182.1 114.9h0M254.1 136.4h0M221.0 137.6h0M137.5 99.0h0M127.0 78.9h0M170.8 130.0h0M176.3 107.9h0M136.8 77.1h0M165.0 142.9h0M226.0 150.8h0M163.0 129.9h0M149.3 66.5h0M216.9 111.0h0M175.8 125.5h0M159.4 132.5h0M164.7 93.1h0M215.4 101.7h0M230.1 110.4h0M158.2 73.2h0M255.7 100.7h0M153.3 119.8h0M217.0 105.8h0M229.5 107.9h0M246.2 91.9h0M252.6 74.2h0M156.3 113.7h0M181.3 121.4h0M266.4 100.3h0M127.3 92.5h0M124.0 114.6h0M131.4 143.7h0M165.3 84.4h0M261.8 139.5h0M157.7 91.7h0M219.8 132.8h0M216.3 74.1h0M252.3 79.0h0M228.8 91.1h0M218.5 129.7h0M181.9 96.9h0M258.3 111.7h0M224.4 148.6h0M241.1 114.0h0M124.6 78.8h0M131.3 71.6h0M237.6 133.0h0M146.4 78.5h0M237.2 86.4h0M131.9 114.8h0M256.8 140.2h0M226.1 107.2h0M177.0 99.4h0M256.2 145.5h0M142.4 101.2h0M151.6 147.8h0M139.2 134.1h0M245.8 87.5h0M177.9 67.5h0M182.5 117.3h0M250.4 128.6h0M257.7 127.6h0M220.5 118.9h0M154.5 89.3h0M159.5 66.5h0M238.3 147.4h0M252.2 126.6h0M129.0 113.0h0M236.4 90.8h0M249.8 151.1h0M144.4 147.7h0M266.5 110.2h0M232.2 139.3h0M153.6 59.2h0M252.3 147.5h0M225.5 124.4h0M147.0 95.9h0M245.1 126.1h0M255.1 95.1h0M179.2 114.7h0M127.1 75.3h0M132.5 133.4h0M136.8 144.7h0M149.8 114.8h0M224.6 73.6h0M149.6 71.4h0M174.0 126.9h0M132.4 107.3h0M177.7 82.5h0M265.2 122.2h0M255.5 64.9h0M145.2 129.1h0M234.7 66.8h0M217.2 83.3h0M264.8 108.3h0M128.7 102.3h0M236.0 80.7h0M253.2 115.1h0M230.1 79.0h0M250.3 91.9h0M243.2 120.4h0M225.6 57.2h0M162.1 140.5h0M242.3 150.0h0M175.9 119.7h0M265.6 116.1h0M182.8 108.5h0M149.8 63.6h0M167.5 87.7h0" stroke="#6f6f6f" stroke-width="0.9" stroke-linecap="round" fill="none" opacity="0.8"/>
</g>
<polygon points="181.1,57.0 181.6,81.7 182.7,95.4 183.7,113.3 184.5,126.0 185.9,139.7 187.7,151.8 213.3,151.8 211.9,145.0 211.2,130.2 211.5,114.4 209.8,110.2 209.6,104.9 210.4,97.0 209.1,92.2 208.0,77.4 209.1,72.7 213.8,67.9 213.6,63.7 212.5,57.0" fill="#8a8a8a" opacity="0.8"/>
<rect x="124.0" y="57.0" width="142.5" height="94.8" fill="url(#g00)"/>
<rect x="124.4" y="57.4" width="141.7" height="94.0" fill="none" stroke="#444" stroke-width="0.8" opacity="0.7"/>
<path d="M181.1 57.0L181.6 81.7L182.7 95.4L183.7 113.3L184.5 126.0L185.9 139.7L187.7 151.8" fill="none" stroke="#161616" stroke-width="1.55" stroke-dasharray="3.2 2.1" stroke-linejoin="round"/>
<path d="M212.5 57.0L213.6 63.7L213.8 67.9L209.1 72.7L208.0 77.4L209.1 92.2L210.4 97.0L209.6 104.9L209.8 110.2L211.5 114.4L211.2 130.2L211.9 145.0L213.3 151.8" fill="none" stroke="#161616" stroke-width="1.55" stroke-dasharray="3.2 2.1" stroke-linejoin="round"/>
<rect x="242.5" y="146.0" width="16.5" height="2.2" fill="#1a1a1a"/>
</g>
<g clip-path="url(#c01)">
<rect x="277.0" y="57.0" width="142.4" height="94.8" fill="#848484"/>
<g filter="url(#bl)"><path d="M406.6 123.9h0M338.1 72.7h0M283.5 68.6h0M397.7 118.4h0M299.3 116.3h0M285.3 105.1h0M324.8 66.7h0M382.7 125.0h0M372.4 98.1h0M371.2 65.7h0M405.5 57.3h0M308.7 94.8h0M305.2 65.3h0M374.9 151.2h0M324.7 82.2h0M372.5 78.1h0M334.1 122.3h0M287.0 108.5h0M418.1 144.2h0M291.2 104.6h0M372.4 104.0h0M392.2 84.7h0M410.0 134.2h0M374.6 123.1h0M283.4 124.8h0M391.0 67.7h0M322.9 62.1h0M360.0 125.5h0M326.6 122.9h0M329.2 124.5h0M316.4 149.7h0M290.0 125.8h0M400.1 117.4h0M299.1 139.7h0M379.1 67.9h0M331.2 120.7h0M277.5 61.0h0M327.4 139.9h0M418.9 87.2h0M406.4 131.5h0M400.2 112.8h0M415.0 118.1h0M412.0 110.6h0M305.0 106.2h0M330.2 105.4h0M316.5 104.7h0M371.6 74.6h0M386.7 123.7h0M388.2 106.0h0M312.5 144.7h0M318.4 95.1h0M377.9 134.6h0M307.3 99.9h0M328.0 86.0h0M328.2 128.5h0M381.4 76.7h0M310.3 131.4h0M370.2 121.1h0M367.5 122.7h0M315.8 62.8h0M328.4 60.1h0M414.0 106.7h0M372.4 148.6h0M391.5 78.7h0M390.3 126.9h0M378.4 141.9h0M397.9 139.3h0M321.7 149.4h0M303.1 72.0h0M317.0 144.4h0M398.4 88.4h0M398.3 141.4h0M337.8 75.2h0M387.0 92.5h0M294.0 142.6h0M279.9 94.0h0M331.0 58.1h0M324.4 121.4h0M365.9 74.9h0M279.9 120.9h0M364.0 84.9h0M305.5 138.1h0M406.5 79.1h0M323.3 118.1h0M362.7 105.4h0M294.4 77.2h0M321.3 96.5h0M328.7 142.5h0M293.5 150.5h0M311.2 138.2h0M311.7 112.7h0M330.7 60.6h0M390.4 133.8h0M315.3 130.6h0M284.7 93.1h0M309.4 116.2h0M387.8 136.8h0M314.0 128.4h0M290.0 100.8h0M307.3 57.2h0M290.3 65.6h0M329.5 98.0h0M377.0 105.9h0M416.8 73.0h0M329.9 138.6h0M306.8 140.2h0M327.9 88.8h0M364.6 110.4h0M317.4 65.0h0M413.0 92.0h0M293.3 119.2h0M323.8 137.1h0M325.2 96.6h0M334.2 72.4h0M330.4 126.5h0M281.1 77.8h0M413.8 121.7h0M301.6 118.2h0M375.8 81.5h0M368.8 69.9h0M364.3 73.3h0M296.2 86.3h0M373.6 108.8h0M364.8 130.9h0M415.1 134.9h0M364.1 60.1h0M410.0 149.2h0M380.7 82.4h0M397.4 73.8h0M394.9 106.4h0M279.2 141.4h0M399.8 76.2h0M405.0 89.1h0M280.7 88.9h0M286.4 63.8h0M365.9 68.5h0M299.7 84.7h0M405.9 139.5h0M417.9 98.7h0M390.3 83.6h0M290.0 144.7h0M399.7 70.6h0M376.6 101.0h0M388.9 100.2h0M305.0 147.7h0M317.0 127.6h0M395.4 80.5h0M376.0 94.5h0M308.9 77.6h0M280.8 128.4h0M383.1 140.0h0M327.8 76.9h0M326.5 126.4h0M370.7 95.5h0M407.8 101.7h0M305.2 125.5h0M327.3 134.0h0M290.4 83.2h0M367.5 102.7h0M330.7 111.9h0M277.3 132.7h0M313.2 135.8h0M387.7 84.7h0M399.9 131.5h0M373.6 134.3h0M412.7 74.9h0M291.3 96.1h0M332.2 71.1h0M303.1 111.7h0M304.0 102.0h0M279.4 145.2h0M305.4 60.6h0M386.3 111.0h0M380.5 78.6h0M329.9 102.5h0M286.3 118.0h0M375.4 71.5h0M291.4 136.5h0M400.9 61.8h0M312.4 65.0h0M319.7 100.8h0M329.9 131.7h0M376.3 131.0h0M418.8 76.8h0M335.6 145.3h0M332.9 86.6h0M287.4 146.9h0M395.3 102.1h0M302.4 95.5h0M403.9 95.7h0M371.1 110.1h0M311.9 109.8h0M400.1 64.6h0M416.3 58.3h0M366.3 116.9h0M378.5 126.0h0M306.1 117.9h0M280.1 98.9h0M323.3 113.6h0M324.9 69.2h0M372.5 84.2h0M389.6 86.0h0M293.5 126.3h0M280.6 125.6h0M329.5 74.0h0M333.2 104.5h0M336.1 68.6h0M414.7 93.3h0M415.0 87.5h0M369.0 135.9h0M333.0 128.6h0M316.7 67.4h0M283.0 99.6h0M316.3 71.5h0M410.6 142.1h0M320.1 112.6h0M378.2 63.0h0M408.6 67.4h0M319.9 124.9h0M295.0 101.9h0M279.3 71.3h0M308.7 64.7h0M289.9 75.4h0M393.9 96.5h0M312.9 79.8h0M396.6 61.4h0M382.7 66.3h0M411.5 95.7h0M291.3 63.1h0M375.8 112.7h0M316.1 117.9h0M289.2 133.0h0M293.4 105.2h0M330.2 96.1h0M404.1 83.0h0M416.7 141.6h0M418.0 146.4h0M364.1 76.3h0M419.0 118.4h0M392.3 109.9h0M288.3 138.8h0M302.0 81.6h0M290.7 119.6h0M291.9 102.1h0M283.1 75.1h0M376.1 127.2h0M414.4 130.7h0M418.3 101.1h0M321.5 91.9h0M390.8 136.9h0M397.3 120.5h0M299.0 125.0h0M308.8 137.4h0M320.1 82.4h0M333.2 58.1h0M278.8 138.7h0M413.8 78.7h0M313.0 59.3h0M312.1 84.2h0M294.7 137.4h0M392.3 122.9h0M299.0 108.2h0M314.9 94.8h0M366.5 113.8h0M409.1 92.2h0M291.5 88.6h0M377.6 145.3h0M410.5 130.7h0M385.2 87.1h0M292.6 115.7h0M374.4 141.6h0M295.2 69.9h0M412.2 151.5h0M287.8 99.9h0M279.5 102.6h0M335.7 147.5h0M388.0 112.6h0M310.9 85.9h0M368.9 104.9h0M324.8 58.1h0M376.4 148.6h0M396.2 112.5h0M331.6 81.8h0M365.4 63.2h0M391.0 113.7h0M293.5 113.8h0M401.0 150.5h0M385.0 61.3h0M402.1 120.0h0M394.6 141.9h0M331.0 85.1h0M385.4 115.4h0M324.3 108.5h0M409.2 110.7h0M407.1 110.7h0M418.3 59.8h0M380.5 148.8h0M367.3 107.6h0M279.0 87.4h0M389.5 59.9h0M369.3 132.9h0M310.9 93.1h0M309.2 123.8h0M412.5 80.4h0M301.9 109.9h0M387.2 145.7h0M279.7 82.7h0M300.2 136.7h0M333.6 108.9h0M409.1 63.1h0M323.9 71.8h0M294.3 133.0h0M393.8 134.8h0M307.9 146.1h0M394.6 66.3h0M386.1 130.3h0M395.8 144.3h0M321.6 121.8h0M374.5 137.5h0M403.6 80.0h0M376.3 120.8h0M294.4 130.8h0M386.9 101.2h0M393.1 72.1h0M402.3 72.3h0M287.5 128.4h0M288.9 80.4h0M371.5 139.8h0M378.7 131.4h0M295.1 93.5h0M323.3 83.8h0M408.2 146.1h0M399.8 81.3h0M313.8 66.8h0M299.3 98.0h0M331.5 136.6h0M404.0 92.7h0M294.6 117.3h0M382.4 144.5h0M371.0 86.2h0M406.9 142.9h0M414.3 70.2h0M408.2 117.7h0M401.2 96.2h0M397.7 134.7h0M307.4 128.3h0M305.0 132.8h0M416.3 78.0h0M411.6 117.0h0M329.1 67.2h0M416.9 96.2h0M301.5 146.0h0M321.9 103.8h0M284.6 72.1h0M326.2 131.2h0M283.1 63.3h0M372.1 122.3h0M331.2 144.1h0M370.2 78.3h0M283.2 103.2h0M366.1 83.5h0M303.5 74.2h0M393.1 100.0h0M378.9 89.9h0M415.7 120.7h0M379.4 85.6h0M417.4 92.9h0M401.9 59.8h0M306.7 131.3h0M386.8 77.7h0M313.9 120.1h0M321.2 89.5h0M380.9 111.8h0M301.6 126.4h0M298.0 66.1h0M312.8 105.8h0M315.5 140.8h0M410.6 83.9h0M383.8 122.9h0M412.2 147.7h0M322.7 75.8h0M280.4 136.2h0M321.0 58.3h0M307.2 68.1h0M320.4 106.9h0M387.2 125.6h0M325.9 144.0h0M389.7 110.3h0M296.1 140.9h0M363.6 66.4h0M408.8 141.1h0M281.8 123.4h0M310.9 107.8h0M395.8 90.2h0M304.4 116.4h0M337.6 150.1h0M282.9 83.0h0M365.7 138.6h0M409.7 89.0h0M333.7 147.8h0M326.0 148.6h0M403.9 76.0h0M387.2 128.0h0M413.5 66.7h0M283.2 145.5h0M331.7 133.1h0M415.7 146.8h0M408.6 98.6h0M361.7 134.2h0M316.2 59.8h0M408.5 82.6h0M418.7 127.1h0M306.9 70.9h0M404.8 120.0h0M360.0 69.4h0M277.5 96.7h0M285.1 151.6h0M291.9 147.4h0M396.8 126.4h0M297.7 105.6h0M314.9 79.7h0M321.6 68.8h0M402.1 123.1h0M380.9 128.9h0M306.3 109.6h0M361.8 130.5h0M300.9 89.6h0M416.3 68.2h0M370.4 112.8h0M328.5 94.1h0M415.4 65.6h0M361.3 91.8h0M311.1 58.5h0M401.4 146.0h0M317.7 101.1h0M404.1 136.3h0M311.3 81.2h0M400.0 138.3h0M417.3 124.8h0M285.6 126.4h0M286.8 133.7h0M371.8 101.9h0M404.0 145.4h0M360.8 96.9h0M381.0 68.5h0M309.6 89.5h0M324.1 146.5h0M412.5 88.0h0M335.4 116.1h0M367.9 89.5h0M320.6 115.6h0M405.3 105.8h0M299.2 81.8h0M300.6 75.2h0M324.3 94.5h0M385.2 95.3h0M387.2 142.6h0M312.7 149.7h0M306.5 73.8h0M378.2 98.1h0M286.8 81.6h0M307.1 135.0h0M316.9 89.8h0M389.6 131.8h0M376.4 140.9h0M370.1 67.8h0M394.1 112.5h0M416.8 128.4h0M325.6 61.4h0M416.8 81.3h0M397.7 68.1h0M370.0 90.8h0M403.6 85.2h0M391.7 149.8h0M317.2 82.8h0M289.4 150.4h0M283.2 115.1h0M326.8 74.7h0M312.3 72.6h0M366.6 119.3h0M401.5 67.5h0M404.3 101.4h0M283.0 135.8h0M297.4 114.1h0M388.3 69.2h0M318.9 137.7h0M375.1 67.3h0M374.7 132.3h0M296.1 72.6h0M390.9 65.3h0M400.1 144.3h0M386.0 107.8h0M293.7 81.2h0M290.9 140.0h0M390.4 140.5h0M329.9 89.5h0M325.4 87.4h0M402.7 90.5h0M399.7 129.1h0M414.3 60.7h0M392.3 107.1h0M335.4 109.8h0M291.7 70.2h0M372.8 117.7h0M278.5 79.5h0M387.9 71.5h0M405.3 127.9h0M388.4 121.5h0M374.5 99.7h0M378.7 103.4h0M325.1 124.7h0M394.2 92.4h0M287.9 111.0h0M406.4 136.5h0M413.2 125.9h0M394.6 64.1h0M294.6 89.8h0M295.0 97.1h0M417.4 136.1h0M308.6 59.2h0M381.6 122.3h0M277.9 90.5h0M326.7 113.7h0M323.9 85.9h0M302.0 148.5h0M330.1 151.7h0M411.8 140.1h0M279.6 96.5h0M376.2 90.0h0M419.1 132.8h0M415.1 144.8h0M397.0 95.8h0M280.5 107.9h0M277.4 65.8h0M313.4 133.6h0M301.8 57.5h0M300.1 95.1h0M376.7 87.7h0M390.4 74.5h0M292.0 127.7h0M372.4 92.1h0M295.3 115.0h0M363.8 97.1h0M418.7 109.8h0M323.8 78.1h0M366.8 127.0h0M312.3 122.4h0M419.3 94.1h0M410.7 98.4h0M306.0 89.8h0M417.1 63.2h0M383.1 116.8h0M409.4 120.5h0M277.2 63.8h0M365.3 108.4h0M322.7 140.6h0M297.2 60.3h0M366.8 86.6h0M325.5 90.1h0M286.6 149.7h0M405.6 134.2h0M392.3 131.8h0M386.8 133.0h0M383.9 78.4h0M419.0 104.0h0M386.2 88.9h0M321.0 137.4h0M287.9 66.2h0M381.1 115.4h0M394.6 115.7h0M309.4 110.5h0M367.0 145.4h0M329.2 57.1h0M416.6 132.1h0M295.0 67.6h0M308.7 119.4h0M295.7 58.9h0M382.1 103.7h0M403.9 68.6h0M293.7 87.3h0M365.0 120.8h0M330.8 63.5h0M314.0 111.4h0M331.4 66.5h0M296.4 83.3h0M288.0 90.2h0M289.5 77.8h0M280.8 65.9h0M288.4 130.3h0M396.6 150.6h0M379.1 117.5h0M417.9 151.7h0M301.4 99.1h0M326.6 104.4h0M322.5 127.4h0M277.7 69.6h0M306.4 92.0h0M414.5 98.6h0M282.1 147.8h0M330.2 118.0h0M329.5 83.1h0M287.7 96.3h0M298.5 102.5h0M314.5 144.4h0M380.0 105.2h0M412.8 113.4h0M284.2 139.6h0M300.5 79.8h0M379.3 108.0h0M410.7 144.4h0M405.9 70.1h0M303.5 83.5h0M383.9 97.2h0M408.8 78.2h0M402.0 78.6h0M283.8 65.2h0M287.8 93.8h0M415.4 90.6h0M379.1 60.2h0M291.0 112.0h0M395.3 122.5h0M367.6 148.8h0M415.0 139.0h0M418.8 113.8h0M278.5 57.9h0M404.7 110.3h0M363.6 57.6h0M363.4 115.2h0M367.9 74.2h0M279.9 105.1h0M385.9 104.4h0M327.6 81.0h0M373.7 88.9h0M299.8 91.6h0M360.4 66.8h0M307.9 81.3h0M281.5 117.7h0M410.4 103.2h0M409.0 129.3h0M289.4 59.9h0M408.7 139.0h0M392.4 89.4h0M377.3 57.7h0M370.5 118.3h0M377.3 73.4h0M417.1 108.1h0M405.5 103.7h0M316.2 96.9h0M370.7 63.3h0M320.5 65.1h0M387.7 61.6h0M377.2 115.9h0M376.0 69.2h0M282.6 151.4h0M317.3 133.3h0M395.8 108.4h0M384.8 136.6h0M328.5 64.3h0M402.3 63.6h0M415.2 83.2h0M284.5 137.1h0M400.6 141.9h0M387.9 118.4h0M287.8 142.2h0M415.6 75.5h0M367.4 62.8h0M299.4 129.0h0M389.6 146.8h0M285.8 88.1h0M398.7 107.5h0M366.8 98.7h0M316.5 106.8h0M390.7 98.0h0M285.4 145.6h0M283.4 118.6h0M334.3 106.4h0M317.0 147.4h0M304.1 69.6h0M409.0 85.5h0M297.6 121.7h0M290.1 91.6h0M368.0 65.4h0M387.2 138.9h0M330.1 92.3h0M374.8 105.3h0M396.4 59.3h0M295.5 149.5h0M401.4 115.4h0M337.5 70.8h0M294.4 139.5h0M316.4 135.8h0M288.4 103.1h0M320.5 133.1h0M402.7 111.9h0M326.4 84.0h0M303.6 145.5h0M396.8 92.9h0M381.7 72.4h0M370.1 115.1h0M413.4 103.3h0M301.7 122.4h0M364.9 124.5h0M412.3 85.0h0M325.2 134.9h0M370.2 108.2h0M309.0 69.7h0M335.4 113.5h0M375.6 145.0h0M290.1 108.1h0M402.3 139.1h0M303.1 128.0h0M391.9 102.5h0M324.8 105.7h0M380.5 99.5h0M308.8 102.8h0M278.7 148.2h0M318.0 108.7h0M286.1 76.5h0M301.8 86.0h0M405.8 99.1h0" stroke="#d6d6d6" stroke-width="1.9" stroke-linecap="round" fill="none" opacity="0.8"/>
</g>
<polygon points="334.8,57.0 335.1,64.8 337.7,69.0 341.1,72.7 339.0,78.5 334.8,83.8 334.3,92.2 332.4,98.5 333.7,102.8 337.7,107.0 336.4,113.3 337.2,118.6 333.7,123.9 334.5,129.2 337.2,133.4 335.9,139.7 338.3,145.0 338.3,151.8 362.6,151.8 360.7,146.0 362.2,141.8 361.7,136.5 358.0,130.2 357.3,126.0 360.4,121.8 361.5,115.4 361.5,108.0 359.8,102.8 359.6,97.5 358.0,93.3 358.5,88.5 362.8,84.8 363.6,79.0 362.2,74.3 359.1,69.5 360.7,63.7 361.7,57.0" fill="#969696" opacity="0.8"/>
<rect x="277.0" y="57.0" width="142.4" height="94.8" fill="url(#g01)"/>
<rect x="277.4" y="57.4" width="141.6" height="94.0" fill="none" stroke="#444" stroke-width="0.8" opacity="0.7"/>
<path d="M334.8 57.0L335.1 64.8L337.7 69.0L341.1 72.7L339.0 78.5L334.8 83.8L334.3 92.2L332.4 98.5L333.7 102.8L337.7 107.0L336.4 113.3L337.2 118.6L333.7 123.9L334.5 129.2L337.2 133.4L335.9 139.7L338.3 145.0L338.3 151.8" fill="none" stroke="#161616" stroke-width="1.55" stroke-dasharray="3.2 2.1" stroke-linejoin="round"/>
<path d="M361.7 57.0L360.7 63.7L359.1 69.5L362.2 74.3L363.6 79.0L362.8 84.8L358.5 88.5L358.0 93.3L359.6 97.5L359.8 102.8L361.5 108.0L361.5 115.4L360.4 121.8L357.3 126.0L358.0 130.2L361.7 136.5L362.2 141.8L360.7 146.0L362.6 151.8" fill="none" stroke="#161616" stroke-width="1.55" stroke-dasharray="3.2 2.1" stroke-linejoin="round"/>
<rect x="395.4" y="146.0" width="16.5" height="2.2" fill="#1a1a1a"/>
</g>
<g clip-path="url(#c02)">
<rect x="432.5" y="57.0" width="142.2" height="94.8" fill="#9c9c9c"/>
<g filter="url(#bl)"><path d="M465.7 113.7h0M448.5 106.3h0M524.6 65.4h0M538.4 115.4h0M561.8 114.6h0M458.5 74.6h0M532.6 133.8h0M441.4 96.5h0M472.7 101.3h0M556.6 110.1h0M538.3 129.5h0M472.0 115.7h0M485.8 102.0h0M456.4 136.5h0M455.4 86.7h0M553.3 150.4h0M484.7 147.3h0M437.8 147.6h0M461.1 60.3h0M540.9 72.3h0M539.5 57.7h0M450.1 90.9h0M444.5 101.7h0M481.7 127.0h0M552.4 73.2h0M562.9 141.8h0M463.8 75.6h0M541.7 111.3h0M550.1 65.3h0M553.0 105.1h0M522.4 79.6h0M531.5 95.5h0M535.1 112.4h0M452.4 85.5h0M522.3 108.7h0M534.1 88.2h0M539.0 63.9h0M461.8 79.0h0M559.7 91.5h0M557.7 126.7h0M470.7 109.5h0M433.7 145.4h0M522.2 67.7h0M527.9 84.4h0M442.8 134.6h0M558.3 85.9h0M533.7 138.5h0M557.9 63.7h0M551.5 80.5h0M546.5 122.1h0M498.7 142.5h0M546.7 151.3h0M568.8 111.3h0M537.0 120.6h0M489.4 104.3h0M469.6 137.1h0M552.8 123.1h0M530.4 105.4h0M514.0 120.2h0M433.5 99.1h0M570.4 76.5h0M468.8 135.1h0M437.2 132.7h0M546.0 139.3h0M469.1 145.3h0M485.4 99.7h0M567.7 108.6h0M529.3 67.5h0M433.2 82.1h0M447.5 135.1h0M468.0 147.8h0M529.0 75.2h0M550.9 131.6h0M515.1 122.5h0M480.8 69.1h0M478.7 127.1h0M466.7 102.0h0M434.6 61.2h0M558.9 69.2h0M539.0 132.3h0M477.4 108.4h0M573.6 115.5h0M487.6 149.5h0M476.6 97.0h0M477.4 118.8h0M558.0 122.3h0M458.4 150.9h0M535.3 105.0h0M553.3 67.2h0M517.5 131.5h0M542.9 120.8h0M441.4 102.4h0M488.9 100.2h0M559.1 83.7h0M471.6 74.5h0M448.5 137.5h0M563.3 68.9h0M483.7 142.7h0M555.4 149.8h0M573.6 85.8h0M442.0 80.7h0M529.4 71.7h0M450.0 88.3h0M445.4 68.6h0M447.2 132.8h0M557.5 61.0h0M546.9 137.0h0M525.1 85.4h0M464.0 143.8h0M539.7 61.4h0M445.9 118.3h0M453.3 120.1h0M528.1 78.9h0M556.4 116.8h0M530.8 115.9h0M441.2 141.0h0M543.3 105.8h0M516.5 103.7h0M539.9 107.5h0M472.0 105.9h0M462.9 57.5h0M534.8 76.8h0M557.8 105.9h0M449.5 81.6h0M477.1 90.6h0M574.4 126.6h0M485.3 123.4h0M564.0 72.1h0M522.0 147.9h0M485.9 140.2h0M546.8 87.3h0M453.0 133.4h0M491.6 90.2h0M559.7 143.9h0M485.0 57.7h0M461.0 89.3h0M457.7 102.1h0M451.2 118.9h0M491.0 80.4h0M530.0 88.1h0M435.9 136.5h0M539.7 140.3h0M474.3 82.0h0M531.5 70.9h0M569.9 118.9h0M472.8 97.1h0M572.0 70.7h0M570.6 127.8h0M548.0 128.0h0M458.1 79.9h0M438.1 109.3h0M444.0 74.9h0M457.3 144.2h0M544.8 84.1h0M452.5 93.1h0M547.0 66.3h0M544.7 108.6h0M438.5 66.4h0M541.1 75.8h0M472.2 77.1h0M454.5 125.8h0M438.0 101.2h0M469.1 129.5h0M534.7 121.8h0M523.5 122.8h0M564.1 118.6h0M480.2 94.4h0M464.0 86.6h0M497.4 137.2h0M487.6 72.9h0M569.1 114.8h0M525.4 89.8h0M448.6 111.1h0M490.0 141.4h0M526.8 128.6h0M451.5 151.4h0M459.5 65.6h0M532.8 125.9h0M527.3 81.2h0M523.6 143.2h0M445.2 130.5h0M434.4 116.3h0M492.1 120.3h0M555.8 64.3h0M449.1 141.6h0M566.0 89.5h0M462.2 70.8h0M463.7 96.7h0M533.0 145.8h0M432.5 96.7h0M435.7 69.5h0M475.1 106.9h0M448.2 121.1h0M490.1 65.7h0M574.6 61.5h0M543.1 67.6h0M571.5 124.0h0M494.6 106.9h0M486.3 110.5h0M445.3 96.9h0M572.8 94.8h0M460.9 115.5h0M434.8 75.3h0M457.4 90.4h0M537.5 59.0h0M567.6 147.0h0M519.9 136.7h0M566.3 99.5h0M554.2 60.3h0M543.5 118.4h0M542.9 71.2h0M444.3 106.6h0M518.7 122.2h0M458.0 110.8h0M570.3 81.0h0M549.1 148.1h0M528.2 98.7h0M492.0 101.3h0M450.2 64.1h0M533.6 99.5h0M467.2 110.5h0M476.8 135.5h0M438.6 117.4h0M480.7 96.8h0M573.8 90.9h0M460.6 131.8h0M563.6 116.1h0M531.3 109.0h0M451.1 100.5h0M441.4 74.1h0M451.7 98.2h0M441.0 114.5h0M465.0 77.6h0M434.4 124.8h0M492.4 58.1h0M482.5 106.6h0M480.2 151.2h0M480.9 137.2h0M547.8 132.3h0M447.4 128.4h0M459.9 102.2h0M574.3 70.1h0M470.4 132.0h0M480.3 145.1h0M435.2 79.6h0M558.6 149.4h0M547.1 61.8h0M537.0 111.5h0M441.9 144.8h0M539.7 101.8h0M569.2 149.7h0M461.9 81.1h0M517.1 106.1h0M567.5 61.7h0M538.7 97.9h0M551.8 120.5h0M447.2 144.4h0M464.1 64.5h0M470.2 81.9h0M538.9 134.4h0M494.6 99.8h0M543.2 140.8h0M474.9 124.4h0M529.9 130.6h0M540.6 137.0h0M452.4 143.4h0M494.3 83.0h0M486.2 107.1h0M441.0 116.8h0M488.9 138.3h0M435.1 109.6h0M525.8 105.2h0M523.7 146.2h0M529.4 143.8h0M477.9 144.3h0M545.1 148.6h0M539.9 94.1h0M440.7 108.1h0M481.1 114.5h0M537.2 93.2h0M501.3 136.5h0M470.9 84.1h0M488.3 118.8h0M454.5 149.8h0M445.4 149.9h0M480.5 118.6h0M553.4 78.8h0M524.9 57.5h0M549.8 99.3h0M485.5 78.8h0M440.2 82.6h0M565.0 83.8h0M474.2 111.8h0M464.5 73.2h0M528.4 140.9h0M442.7 59.5h0M448.4 86.4h0M484.2 126.0h0M492.3 118.0h0M451.3 114.9h0M558.1 140.9h0M452.4 72.7h0M560.7 123.1h0M478.3 57.3h0M536.7 151.6h0M520.7 91.7h0M479.3 134.0h0M570.2 91.6h0M463.9 151.5h0M476.7 125.7h0M572.2 101.5h0M554.1 95.0h0M492.5 133.0h0M563.2 147.4h0M433.5 106.9h0M565.0 58.5h0M483.7 131.3h0M528.2 120.8h0M550.7 129.2h0M546.8 103.9h0M537.2 126.7h0M480.1 130.6h0M485.9 120.9h0M566.2 130.7h0M486.7 90.3h0M494.1 114.3h0M564.5 63.1h0M559.2 111.2h0M534.7 128.4h0M492.4 68.2h0M554.0 140.2h0M484.3 103.4h0M497.6 150.0h0M561.7 73.8h0M542.2 93.1h0M517.4 110.4h0M537.7 85.5h0M528.9 92.0h0M524.0 151.5h0M472.4 57.5h0M559.9 106.8h0M524.4 135.7h0M559.1 93.6h0M535.8 135.9h0M484.1 96.8h0M484.6 89.4h0M491.1 137.4h0M441.1 150.8h0M486.8 104.3h0M553.7 117.9h0M496.1 117.7h0M458.8 57.4h0M483.3 111.5h0M458.8 108.4h0M478.7 81.9h0M485.9 60.0h0M552.4 109.3h0M433.7 148.8h0M520.1 95.6h0M451.2 137.1h0M476.7 80.8h0M566.1 73.3h0M473.6 92.4h0M438.7 112.0h0M535.4 69.7h0M439.3 120.4h0M490.7 62.3h0M445.0 90.4h0M557.3 143.2h0M539.6 117.4h0M529.1 148.4h0M489.7 76.9h0M475.6 88.1h0M545.0 94.3h0M497.5 76.1h0M497.9 147.1h0M445.5 94.4h0M460.3 137.1h0M475.4 103.2h0M439.9 122.5h0M565.7 125.3h0M443.5 109.6h0M499.3 132.0h0M491.0 150.1h0M556.6 87.5h0M496.6 134.5h0M468.5 104.9h0M434.8 134.0h0M496.2 72.1h0M521.1 143.7h0M440.4 88.6h0M455.8 117.3h0M463.7 59.7h0M445.5 62.4h0M454.0 95.0h0M442.7 148.5h0M535.0 143.0h0M560.1 137.5h0M553.2 93.0h0M468.8 60.0h0M564.7 86.3h0M482.6 149.4h0M530.8 98.1h0M447.5 91.6h0M473.9 146.9h0M470.9 61.5h0M560.4 64.1h0M544.6 113.4h0M472.9 136.1h0M493.5 150.2h0M564.8 92.7h0M458.5 97.4h0M518.8 138.7h0M559.3 87.8h0M435.8 120.0h0M530.2 118.4h0M521.4 134.9h0M450.3 146.7h0M527.3 66.0h0M476.0 145.8h0M475.7 141.6h0M567.0 140.8h0M438.7 77.9h0M525.0 68.1h0M487.6 135.0h0M572.6 144.8h0M560.7 61.3h0M460.4 128.4h0M561.7 151.6h0M525.9 150.1h0M549.7 146.0h0M531.5 64.9h0M484.5 72.8h0M565.6 67.2h0M522.3 118.0h0M551.4 115.6h0M467.2 88.7h0M477.6 64.3h0M539.5 105.0h0M440.2 62.3h0M543.7 122.9h0M574.0 59.4h0M530.8 100.7h0M446.1 113.7h0M534.1 96.4h0M454.1 129.5h0M538.5 147.0h0M467.3 122.4h0M547.2 82.2h0M570.8 140.8h0M547.0 96.5h0M560.3 77.5h0M456.8 84.6h0M556.4 135.6h0M540.9 83.4h0M479.2 106.6h0M559.2 120.6h0M516.8 95.6h0M486.8 95.5h0M444.9 58.8h0M440.2 58.1h0M473.4 140.5h0M539.2 81.3h0M489.9 96.5h0M533.3 84.0h0M466.2 97.7h0M561.4 66.0h0M490.7 116.3h0M557.4 113.8h0M478.6 122.4h0M455.3 89.5h0M448.1 117.6h0M474.8 74.7h0M470.8 125.6h0M464.8 127.9h0M547.2 107.6h0M572.3 57.2h0M489.5 107.6h0M453.8 112.0h0M471.0 93.2h0M456.9 120.2h0M521.6 64.7h0M570.9 67.1h0M464.2 83.7h0M469.1 90.7h0M495.8 141.1h0M543.0 102.5h0M442.3 90.9h0M469.8 107.3h0M481.7 109.4h0M564.0 122.7h0M574.5 88.7h0M555.8 91.8h0M562.4 91.7h0M549.7 110.7h0M520.4 70.3h0M550.8 117.7h0M478.1 151.0h0M494.3 104.5h0M439.0 141.3h0M550.6 113.4h0M435.5 94.9h0M468.1 114.6h0M560.1 95.9h0M448.8 58.2h0M551.3 101.4h0M478.3 101.9h0M474.6 66.7h0M471.7 127.6h0M436.0 112.6h0M518.4 97.3h0M549.5 107.6h0M528.2 136.1h0M490.1 129.6h0M451.1 104.9h0M529.7 107.6h0M532.6 72.8h0M556.6 74.5h0M534.9 92.9h0M532.1 123.2h0M490.6 146.8h0M450.1 113.0h0M461.0 125.7h0M451.6 61.5h0M534.3 108.9h0M565.1 134.6h0M527.2 117.0h0M452.4 147.2h0M572.6 98.4h0M454.6 103.7h0M544.3 80.7h0M465.8 125.7h0M436.2 98.7h0M537.8 108.9h0M529.6 81.8h0M488.5 128.2h0M477.5 74.5h0M493.9 78.7h0M474.7 99.5h0M434.5 129.9h0M450.4 125.0h0M565.5 150.6h0M564.6 80.0h0M537.9 73.9h0M522.7 95.2h0M541.0 125.9h0M524.5 79.4h0M527.3 70.1h0M570.7 108.9h0M463.0 126.4h0M569.8 143.2h0M494.2 144.9h0M490.5 124.3h0M469.3 102.4h0M548.8 143.7h0M465.3 62.0h0M458.7 132.9h0M452.3 123.0h0M484.8 82.2h0M494.1 71.5h0M556.7 71.6h0M436.9 144.7h0M492.5 98.4h0M445.9 81.9h0M556.3 84.0h0M469.3 117.0h0M457.1 131.5h0M556.5 96.8h0M463.9 101.1h0M518.5 108.4h0M491.4 71.0h0M521.4 140.9h0M564.7 113.1h0M545.5 141.7h0M542.4 79.1h0M464.3 147.6h0M440.5 71.1h0M518.1 144.5h0M488.8 94.5h0M472.9 143.5h0M468.8 85.5h0M459.9 123.4h0M531.1 91.6h0M439.0 134.6h0M550.9 86.3h0M568.5 65.6h0M542.2 144.0h0M462.9 94.1h0M563.0 98.1h0M469.7 142.0h0M546.7 111.1h0M475.4 57.1h0M561.7 134.7h0M447.7 74.3h0M463.1 140.1h0M463.2 136.5h0M570.8 134.1h0M456.4 78.5h0M433.1 93.8h0M557.2 66.1h0M534.3 90.3h0M465.6 66.5h0M482.4 74.6h0M473.0 60.8h0M491.6 111.3h0M572.7 68.3h0M494.1 121.5h0M442.7 62.3h0M463.4 115.4h0M440.7 104.7h0M548.8 57.2h0M519.2 126.7h0M527.2 102.7h0M526.2 124.3h0M528.5 96.0h0M469.4 69.5h0M524.4 129.5h0M444.8 84.1h0M527.1 62.4h0M476.7 112.2h0M491.7 77.6h0M442.1 139.1h0M499.3 139.7h0M453.0 116.6h0M546.3 146.9h0M563.2 132.6h0M468.9 75.4h0M574.4 134.8h0M483.3 119.5h0M466.9 79.5h0M556.9 131.1h0M481.7 65.1h0M494.3 130.0h0M550.2 122.6h0M496.8 130.7h0M537.3 66.3h0M536.6 89.1h0M547.6 117.7h0M475.0 127.3h0M473.1 86.0h0M546.1 134.5h0M569.8 122.1h0M532.8 118.5h0M566.6 127.9h0M487.1 83.4h0M438.9 131.0h0M493.3 94.4h0M526.4 113.5h0M454.2 74.9h0M558.2 100.9h0M546.5 77.4h0M447.6 102.2h0M457.1 114.0h0M486.9 64.5h0M547.2 70.1h0M456.3 106.7h0M532.4 106.9h0M481.3 80.0h0M561.0 81.8h0M457.5 123.8h0M532.9 93.5h0M551.8 88.2h0M436.9 92.8h0M481.3 143.1h0M432.8 132.7h0M445.0 104.4h0M523.0 131.7h0M464.3 80.2h0M435.1 86.1h0M558.6 133.7h0M436.4 63.2h0M485.4 117.1h0M440.3 65.1h0M479.8 112.0h0M462.3 109.6h0M543.3 137.1h0M570.9 62.3h0M538.8 87.6h0M433.2 66.3h0M461.9 148.2h0" stroke="#ececec" stroke-width="1.8" stroke-linecap="round" fill="none" opacity="0.8"/>
</g>
<polygon points="495.1,57.0 493.7,61.6 490.6,64.8 493.7,69.0 498.3,72.7 498.5,78.5 497.2,84.8 494.3,91.2 493.7,95.4 495.3,99.6 495.5,109.1 496.9,118.6 498.3,126.0 499.0,131.3 503.6,134.4 503.2,139.7 501.1,145.0 500.1,151.8 520.7,151.8 519.6,148.2 516.4,143.9 513.1,140.2 514.9,136.5 514.9,132.3 513.5,126.0 513.5,119.7 516.4,114.4 514.9,111.2 514.1,107.0 516.4,101.7 514.9,96.4 514.9,92.7 519.8,90.6 521.2,86.4 519.4,81.7 520.7,76.4 519.6,70.1 518.8,64.2 521.2,60.6 521.7,57.0" fill="#a8a8a8" opacity="0.8"/>
<rect x="432.5" y="57.0" width="142.2" height="94.8" fill="url(#g02)"/>
<rect x="432.9" y="57.4" width="141.4" height="94.0" fill="none" stroke="#444" stroke-width="0.8" opacity="0.7"/>
<path d="M495.1 57.0L493.7 61.6L490.6 64.8L493.7 69.0L498.3 72.7L498.5 78.5L497.2 84.8L494.3 91.2L493.7 95.4L495.3 99.6L495.5 109.1L496.9 118.6L498.3 126.0L499.0 131.3L503.6 134.4L503.2 139.7L501.1 145.0L500.1 151.8" fill="none" stroke="#161616" stroke-width="1.55" stroke-dasharray="3.2 2.1" stroke-linejoin="round"/>
<path d="M521.7 57.0L521.2 60.6L518.8 64.2L519.6 70.1L520.7 76.4L519.4 81.7L521.2 86.4L519.8 90.6L514.9 92.7L514.9 96.4L516.4 101.7L514.1 107.0L514.9 111.2L516.4 114.4L513.5 119.7L513.5 126.0L514.9 132.3L514.9 136.5L513.1 140.2L516.4 143.9L519.6 148.2L520.7 151.8" fill="none" stroke="#161616" stroke-width="1.55" stroke-dasharray="3.2 2.1" stroke-linejoin="round"/>
<rect x="550.7" y="146.0" width="16.5" height="2.2" fill="#1a1a1a"/>
</g>
<g clip-path="url(#c10)">
<rect x="124.0" y="162.8" width="142.5" height="94.7" fill="#808080"/>
<g filter="url(#bl)"><path d="M185.8 218.3h0M236.5 232.4h0M221.0 174.9h0M182.3 211.0h0M129.8 235.3h0M138.6 216.2h0M162.1 178.2h0M259.7 221.5h0M228.4 220.2h0M133.0 198.6h0M155.2 219.3h0M180.2 250.0h0M157.2 188.3h0M254.7 231.1h0M185.2 198.2h0M228.6 176.9h0M226.9 184.3h0M238.9 169.8h0M254.3 244.4h0M127.5 177.9h0M254.3 240.4h0M165.6 238.6h0M222.0 202.1h0M144.2 243.4h0M184.9 227.5h0M176.9 187.2h0M199.0 252.8h0M137.5 186.6h0M192.8 256.1h0M265.4 163.6h0M215.5 175.9h0M153.5 175.6h0M195.2 256.9h0M261.6 197.6h0M252.0 228.1h0M134.6 248.1h0M163.0 255.5h0M142.8 248.0h0M150.1 209.0h0M232.2 215.5h0M263.7 213.4h0M252.8 175.5h0M249.8 194.6h0M190.0 239.8h0M160.4 198.0h0M244.6 224.2h0M232.8 202.1h0M157.9 199.4h0M237.6 254.3h0M220.1 178.1h0M184.2 257.1h0M124.1 195.2h0M145.3 179.0h0M163.2 221.4h0M133.6 244.9h0M138.4 212.5h0M173.8 210.2h0M139.4 196.4h0M195.5 242.4h0M214.0 170.6h0M144.2 163.7h0M163.7 174.2h0M220.1 239.2h0M188.0 218.0h0M171.5 240.3h0M221.7 170.2h0M224.3 176.1h0M228.5 193.6h0M131.8 205.4h0M254.3 215.1h0M260.0 232.7h0M239.0 176.2h0M161.7 230.1h0M234.3 194.2h0M148.4 225.1h0M139.8 209.7h0M163.3 200.8h0M217.2 222.8h0M212.0 168.5h0M253.3 220.8h0M230.3 222.9h0M129.7 165.1h0M226.2 243.0h0M179.1 182.7h0M186.9 242.5h0M231.7 175.2h0M152.7 182.5h0M230.2 186.6h0M250.6 201.8h0M151.5 202.1h0M143.9 246.1h0M127.3 202.3h0M178.0 166.4h0M155.6 256.5h0M246.4 202.6h0M248.4 248.8h0M246.2 231.6h0M226.1 219.8h0M262.7 179.9h0M252.0 234.3h0M158.6 243.1h0M166.7 225.6h0M250.6 246.5h0M223.5 242.3h0M151.4 211.9h0M263.2 252.4h0M130.0 191.6h0M149.9 235.3h0M152.0 195.0h0M262.6 174.7h0M231.7 169.2h0M220.5 187.2h0M260.4 194.0h0M219.4 165.5h0M257.9 222.8h0M254.3 233.2h0M132.6 233.2h0M250.9 225.7h0M173.8 169.6h0M216.5 168.4h0M158.1 167.4h0M148.5 233.6h0M242.1 250.2h0M262.5 192.8h0M164.0 212.5h0M128.9 237.6h0M235.1 191.9h0M128.2 248.0h0M239.4 235.1h0M154.0 253.2h0M215.3 165.8h0M263.9 228.9h0M150.2 247.1h0M128.0 183.0h0M236.9 164.1h0M151.6 169.4h0M235.8 205.6h0M235.5 249.3h0M175.9 238.0h0M171.4 251.6h0M171.9 222.2h0M164.4 202.8h0M154.2 235.5h0M220.0 230.7h0M239.1 184.9h0M174.2 219.7h0M161.1 238.1h0M154.3 204.7h0M221.5 183.8h0M218.6 200.7h0M130.9 172.8h0M218.9 236.5h0M243.4 219.2h0M157.7 170.9h0M139.8 199.9h0M165.7 216.1h0M242.0 188.3h0M251.4 241.8h0M151.4 218.6h0M155.4 182.1h0M125.1 165.2h0M239.0 244.7h0M247.1 169.8h0M127.4 244.0h0M177.4 195.5h0M223.8 213.1h0M170.9 177.0h0M140.4 230.2h0M253.0 166.4h0M155.8 212.5h0M162.0 209.1h0M140.7 202.5h0M256.3 236.8h0M266.1 191.2h0M243.8 221.5h0M142.7 179.5h0M263.2 215.4h0M181.8 233.1h0M247.8 257.3h0M241.7 203.0h0M152.9 208.1h0M167.6 187.2h0M213.1 191.5h0M140.3 236.8h0M234.4 229.6h0M235.8 218.8h0M213.9 179.0h0M131.9 242.9h0M126.6 186.8h0M181.0 229.1h0M223.3 244.9h0M256.5 188.5h0M159.5 174.4h0M171.0 172.5h0M261.0 217.2h0M254.0 186.0h0M233.7 182.2h0M156.2 175.3h0M147.5 174.4h0M227.6 222.9h0M222.0 223.3h0M177.7 255.7h0M181.9 238.9h0M141.7 219.5h0M162.7 185.0h0M167.3 200.3h0M215.7 201.4h0M246.7 177.5h0M236.9 200.2h0M160.7 247.5h0M166.5 246.5h0M242.8 247.0h0M186.1 202.0h0M259.0 182.0h0M147.7 179.1h0M167.1 202.4h0M178.6 206.4h0M129.0 195.2h0M192.6 248.5h0M246.6 209.6h0M127.0 168.4h0M225.3 248.2h0M134.8 241.5h0M169.8 202.2h0M124.1 175.8h0M260.0 228.3h0M145.0 237.8h0M218.4 191.0h0M147.3 223.4h0M256.5 186.3h0M266.1 213.4h0M153.7 180.1h0M225.4 250.7h0M153.0 185.3h0M144.4 182.5h0M156.1 202.3h0M157.9 225.6h0M183.7 178.8h0M124.7 226.6h0M131.0 208.2h0M250.7 221.0h0M184.9 193.2h0M131.7 177.6h0M154.3 166.8h0M222.7 197.6h0M165.4 170.7h0M191.3 243.0h0M244.3 186.3h0M156.2 246.8h0M157.7 219.5h0M257.5 206.9h0M184.5 253.5h0M247.0 250.6h0M224.7 184.0h0M249.9 253.5h0M157.8 254.7h0M257.9 196.2h0M192.7 240.8h0M238.6 247.8h0M175.6 184.8h0M197.1 251.3h0M237.1 239.3h0M187.1 228.1h0M222.6 204.4h0M249.6 256.2h0M176.4 226.8h0M158.3 207.0h0M225.2 163.4h0M139.5 176.2h0M185.3 188.4h0M173.4 184.8h0M239.8 198.9h0M225.7 214.8h0M254.7 177.4h0M160.9 172.2h0M151.0 199.4h0M177.6 176.4h0M163.8 217.2h0M163.3 247.7h0M169.9 191.1h0M232.5 164.2h0M216.8 226.7h0M165.0 227.4h0M254.2 207.1h0M248.4 227.9h0M260.3 186.5h0M258.8 190.7h0M168.0 250.6h0M263.9 234.5h0M174.2 240.8h0M133.3 163.8h0M133.0 194.5h0M172.4 167.3h0M188.8 252.9h0M137.9 204.7h0M242.8 177.4h0M133.3 182.3h0M136.0 232.9h0M225.5 256.4h0M131.2 229.4h0M237.1 179.7h0M135.3 255.6h0M236.6 169.3h0M150.7 225.2h0M148.4 204.1h0M145.4 171.5h0M244.7 163.2h0M171.2 254.6h0M221.6 254.7h0M136.7 242.2h0M173.0 181.9h0M147.8 181.5h0M149.3 249.6h0M183.2 225.1h0M257.6 203.5h0M227.0 238.5h0M182.6 180.7h0M158.6 257.3h0M185.3 247.9h0M251.0 190.1h0M259.8 175.7h0M167.2 167.9h0M170.2 195.7h0M138.8 219.6h0M156.0 239.8h0M231.7 208.9h0M255.9 167.4h0M253.4 196.6h0M147.8 209.8h0M260.2 183.6h0M184.8 174.2h0M256.8 210.8h0M245.9 188.6h0M168.2 253.0h0M252.1 192.7h0M265.7 225.8h0M179.2 253.9h0M140.5 233.5h0M266.5 172.2h0M141.8 251.3h0M170.4 166.1h0M179.6 234.8h0M168.8 182.4h0M141.8 197.2h0M178.0 238.3h0M158.2 195.0h0M230.2 182.4h0M129.5 254.9h0M254.3 192.7h0M164.4 206.4h0M250.1 230.2h0M180.9 242.3h0M257.4 180.2h0M264.5 238.2h0M189.1 243.6h0M154.2 215.7h0M196.6 248.4h0M148.4 206.9h0M187.8 198.5h0M169.7 212.7h0M140.5 207.7h0M211.8 196.1h0M132.9 167.5h0M173.1 230.8h0M180.6 212.9h0M156.6 222.4h0M231.5 238.9h0M224.1 207.0h0M225.3 235.7h0M250.3 250.6h0M213.9 187.6h0M173.2 224.3h0M234.6 226.2h0M168.3 173.0h0M169.9 256.9h0M212.0 172.4h0M169.0 226.5h0M187.4 240.4h0M242.3 165.6h0M259.6 213.5h0M243.9 256.6h0M137.0 248.0h0M127.0 229.2h0M135.3 191.4h0M249.7 182.8h0M256.7 249.8h0M261.5 189.5h0M129.3 175.9h0M125.5 214.4h0M179.5 170.0h0M255.0 225.1h0M265.9 223.4h0M212.5 174.9h0M125.7 183.5h0M150.5 171.4h0M242.4 182.7h0M245.1 198.9h0M166.6 212.7h0M174.0 207.2h0M261.0 208.1h0M170.2 208.5h0M125.6 204.4h0M140.5 188.1h0M133.4 220.9h0M188.7 229.7h0M177.1 215.4h0M228.6 218.2h0M187.5 204.6h0M178.0 190.3h0M125.5 197.2h0M217.1 196.0h0M237.2 175.1h0M250.1 209.2h0M201.4 257.1h0M141.2 168.8h0M263.1 232.4h0M175.2 173.1h0M263.0 247.1h0M137.5 245.1h0M125.2 217.4h0M138.7 191.1h0M169.2 240.7h0M125.0 210.3h0M229.9 178.8h0M249.2 192.4h0M137.4 177.0h0M177.4 200.1h0M170.6 179.3h0M263.3 200.6h0M153.0 192.6h0M172.3 186.5h0M237.1 171.4h0M179.1 232.4h0M126.1 240.2h0M243.8 242.7h0M164.8 176.5h0M147.5 170.5h0M253.8 248.4h0M227.5 211.3h0M184.0 204.9h0M228.9 244.1h0M155.7 210.1h0M233.0 232.3h0M237.6 216.9h0M264.6 176.9h0M169.8 174.8h0M264.6 181.2h0M162.1 252.0h0M243.7 252.9h0M132.8 203.2h0M133.2 225.0h0M152.8 228.5h0M214.4 182.3h0M144.5 232.8h0M222.5 172.6h0M257.8 245.7h0M145.7 230.6h0M245.3 173.1h0M222.1 190.6h0M217.9 213.4h0M226.7 207.4h0M250.0 233.7h0M226.9 178.7h0M242.3 230.5h0M137.9 169.4h0M138.5 183.5h0M232.9 235.5h0M257.7 177.2h0M156.4 204.6h0M161.1 232.5h0M242.9 233.2h0M170.1 217.7h0M168.9 214.8h0M244.4 239.7h0M234.8 171.5h0M157.3 233.8h0M239.1 221.3h0M156.3 207.7h0M127.1 211.1h0M247.6 224.1h0M265.7 166.5h0M184.6 181.5h0M231.8 190.7h0M218.7 224.9h0M126.4 221.0h0M154.5 230.1h0M258.9 257.0h0M258.4 254.3h0M239.3 250.1h0M219.9 207.1h0M146.5 251.0h0M131.4 226.9h0M181.1 200.4h0M144.0 224.4h0M147.1 188.2h0M175.0 235.4h0M141.9 222.1h0M240.4 240.7h0M166.2 244.4h0M139.9 181.7h0M237.4 237.2h0M248.3 232.6h0M137.9 235.7h0M225.9 166.8h0M185.5 230.9h0M165.0 254.5h0M210.9 186.3h0M144.3 168.3h0M228.1 248.7h0M130.7 201.4h0M240.2 172.7h0M152.1 256.5h0M162.0 205.5h0M219.3 227.5h0M240.8 168.8h0M132.9 256.8h0M233.4 218.8h0M239.0 182.4h0M139.3 163.7h0M190.2 215.2h0M190.6 233.3h0M166.8 191.6h0M235.7 214.5h0M243.0 205.4h0M149.7 222.2h0M182.7 255.0h0M241.1 243.4h0M166.6 196.3h0M238.4 197.1h0M247.6 175.0h0M181.6 166.0h0M246.3 247.0h0M167.6 175.8h0M243.1 226.1h0M139.4 224.2h0M248.2 207.8h0M184.9 223.8h0M151.2 184.1h0M220.9 256.9h0M147.0 191.7h0M177.2 221.6h0M231.5 257.1h0M243.4 180.9h0M178.6 185.3h0M217.0 162.9h0M152.9 200.1h0M264.0 205.8h0M245.1 206.0h0M181.2 221.0h0M147.6 196.3h0M216.1 173.8h0M126.4 181.1h0M252.3 179.2h0M130.7 180.2h0M258.8 247.9h0M235.4 236.4h0M234.9 241.6h0M187.4 256.0h0M224.7 218.2h0M211.9 163.6h0M160.4 217.9h0M223.0 194.4h0M183.0 217.7h0M139.6 250.9h0M125.2 232.1h0M173.4 251.6h0M164.8 165.2h0M240.6 225.9h0M186.9 225.4h0M221.1 193.9h0M180.3 190.8h0M231.0 232.7h0M265.4 220.2h0M264.3 184.8h0M155.5 193.8h0M157.4 177.9h0M160.3 210.2h0M125.0 244.2h0M143.2 186.8h0M227.6 214.2h0M128.9 217.2h0M247.7 216.4h0M226.7 216.6h0M185.2 211.2h0M131.8 186.7h0M228.2 198.4h0M183.6 214.7h0M222.8 182.0h0M241.2 220.5h0M221.4 226.3h0M208.9 189.2h0M252.6 211.7h0M263.5 224.6h0M265.3 208.2h0M176.5 201.9h0M152.2 223.8h0M191.5 246.3h0M180.6 163.3h0M135.6 184.4h0M248.3 181.0h0M125.8 238.0h0M145.4 193.6h0M166.2 204.6h0M178.1 248.1h0M214.4 205.0h0M158.6 185.6h0M152.9 241.0h0M238.3 191.3h0M262.4 218.7h0M264.9 248.3h0M134.2 239.1h0M259.8 198.9h0M240.9 194.7h0M232.3 228.8h0M128.7 225.3h0M163.6 214.7h0M226.3 252.5h0M246.2 218.7h0M266.5 253.9h0M178.9 245.6h0M168.0 229.3h0M194.7 247.1h0M142.5 191.0h0M261.9 238.2h0M155.7 197.7h0M234.3 176.1h0M186.3 214.0h0M159.8 224.4h0M126.8 253.6h0M142.6 207.5h0M168.6 193.0h0M177.2 243.6h0M174.0 192.9h0M241.2 245.7h0M136.1 171.5h0M219.2 203.2h0M136.8 229.2h0M218.7 173.5h0M188.1 236.2h0M234.0 184.5h0M130.4 239.8h0M222.9 233.8h0M258.6 215.5h0M147.6 215.2h0M157.2 229.7h0M181.7 187.6h0M176.8 232.2h0M183.0 201.5h0M175.8 180.7h0M155.0 226.6h0M244.7 190.7h0M236.7 203.0h0M140.6 217.2h0M163.9 181.9h0M265.1 251.5h0M234.7 254.4h0M254.7 212.3h0M260.9 178.2h0M178.6 164.2h0M185.9 250.0h0M157.6 163.2h0M223.9 228.8h0M143.8 250.7h0M241.4 214.6h0M171.8 192.4h0M252.8 163.6h0M167.2 184.2h0M230.4 198.0h0M246.8 193.8h0M255.5 201.9h0M225.8 170.9h0M129.9 184.1h0M248.3 240.7h0M260.8 246.4h0M136.7 200.6h0M144.7 220.8h0M135.3 206.8h0M213.0 201.3h0M248.0 166.7h0M141.7 242.6h0M138.1 239.2h0M124.0 199.7h0M159.8 192.2h0M179.1 226.3h0M260.0 165.8h0M124.9 192.5h0M144.8 235.7h0M165.1 184.2h0M259.4 170.5h0M259.7 206.1h0M234.6 223.4h0M265.5 188.4h0M135.5 189.4h0M136.6 196.0h0M149.7 185.9h0M258.5 168.3h0M266.3 193.2h0M222.1 250.3h0M240.9 217.0h0M146.2 185.2h0M154.4 245.1h0M181.8 207.3h0M239.5 237.9h0M186.5 232.8h0M180.8 193.0h0M175.6 230.4h0M183.6 171.2h0M170.6 210.8h0M253.4 200.8h0M258.3 193.1h0M150.8 166.1h0M124.2 173.7h0M173.2 204.2h0M146.0 165.3h0M151.8 205.2h0M256.4 205.2h0M265.1 231.3h0M145.6 202.0h0M217.3 219.8h0M166.1 218.4h0M137.0 181.8h0M261.4 173.0h0M178.2 230.1h0M134.1 234.9h0M181.3 197.4h0M255.0 170.0h0M169.7 168.4h0M166.5 209.9h0M140.3 205.1h0M131.9 213.9h0M239.9 208.0h0M155.2 177.9h0M221.2 220.9h0M144.2 188.8h0M125.7 249.0h0M244.1 216.0h0M171.2 189.2h0M127.4 199.2h0M257.6 232.2h0M258.0 239.0h0M229.9 168.1h0M143.2 193.7h0M169.1 219.5h0M225.9 203.5h0M239.6 231.8h0M255.6 195.3h0M150.4 197.2h0M212.5 203.2h0M146.7 243.5h0M160.0 178.5h0M173.1 173.5h0M238.4 165.7h0M152.6 247.4h0M181.7 252.4h0M237.6 210.8h0M173.8 242.9h0M255.7 164.3h0M247.2 237.2h0M180.5 237.2h0M158.1 235.9h0M235.1 187.3h0M233.1 243.3h0M147.7 231.7h0M165.4 188.7h0M214.9 199.1h0M152.0 244.7h0M246.6 183.0h0M190.7 230.0h0M187.2 220.0h0M135.8 203.5h0M178.6 180.4h0M266.1 199.1h0M261.6 226.5h0M191.3 238.2h0M248.7 162.9h0M257.1 165.9h0M231.8 203.8h0M232.2 220.5h0M134.0 169.5h0M130.2 218.8h0M169.8 186.2h0M258.8 219.5h0M247.2 234.8h0M126.3 235.7h0M191.1 250.7h0M135.8 224.1h0M156.4 244.6h0M142.1 210.2h0M161.2 236.0h0M232.9 240.9h0M129.2 221.7h0M129.3 189.3h0M176.3 219.3h0M149.4 201.8h0M152.5 250.5h0M230.3 195.2h0M154.3 242.8h0M160.3 181.7h0M241.5 186.1h0M175.1 163.8h0M140.5 246.9h0M236.4 251.2h0M149.2 191.8h0M176.8 204.5h0M133.3 191.8h0M161.9 169.7h0M124.6 254.0h0M228.2 251.5h0M169.4 235.7h0M155.6 164.9h0M181.3 173.9h0M129.9 214.5h0M242.8 199.9h0M156.7 180.5h0M235.1 221.3h0M142.9 257.5h0M243.0 173.3h0M128.1 171.8h0M224.2 224.0h0M173.1 239.0h0M145.2 208.2h0M243.6 237.7h0M240.1 212.0h0M234.8 210.0h0M232.3 179.0h0M142.3 181.6h0M176.1 247.6h0M211.2 189.3h0M224.1 239.2h0M261.6 164.4h0M232.2 245.1h0M138.4 198.4h0M176.2 213.1h0M161.2 219.7h0M241.5 239.0h0M188.7 201.1h0M232.0 183.4h0M170.1 229.5h0M141.8 226.8h0M150.7 240.2h0M264.7 194.7h0M236.5 228.4h0M245.7 243.9h0M228.5 231.6h0M240.9 252.0h0M249.9 239.3h0M129.2 251.5h0M150.3 238.1h0M184.3 195.6h0M148.8 229.2h0M229.0 233.9h0M264.7 218.0h0M232.9 196.7h0M162.2 224.8h0M262.7 195.8h0M251.9 243.8h0M222.6 178.5h0M236.6 244.7h0M190.1 218.2h0M178.1 250.7h0M140.6 171.9h0M212.6 183.8h0M159.5 250.9h0M183.2 244.2h0M253.8 202.9h0M133.7 229.9h0M251.3 237.9h0M225.7 222.0h0M220.7 235.3h0M183.4 167.1h0M149.0 253.5h0M128.4 242.3h0M173.2 195.1h0M190.7 224.6h0M145.1 247.9h0M225.2 188.4h0M263.6 242.6h0M160.7 241.7h0M231.0 248.0h0M215.7 210.0h0M229.4 189.4h0M155.1 186.5h0M221.0 162.9h0M253.6 236.1h0M229.4 203.7h0M176.3 178.3h0M230.0 236.2h0M178.5 197.7h0M151.2 179.0h0M258.6 163.6h0M252.9 246.6h0M144.9 257.0h0M249.1 187.5h0M251.5 218.2h0M231.3 254.0h0M256.4 252.1h0M265.2 174.1h0M135.7 210.2h0M159.0 203.9h0M127.5 206.0h0M157.0 191.3h0M172.4 244.7h0M142.7 203.3h0M227.6 188.2h0M142.7 214.7h0M260.4 253.3h0M232.1 172.7h0M153.6 212.4h0M239.1 205.9h0M226.8 228.4h0M244.6 194.6h0M175.4 252.6h0M182.9 249.7h0M237.0 225.6h0M163.6 234.8h0M137.1 256.7h0M243.3 209.7h0M153.7 202.3h0M229.2 184.5h0M255.3 199.4h0M155.5 249.5h0M185.0 184.7h0M143.0 172.6h0M228.4 172.9h0M183.4 176.0h0M169.8 224.3h0M183.3 236.7h0M157.1 250.7h0M261.3 230.1h0M138.8 167.0h0M176.8 224.2h0M155.0 184.3h0M183.0 191.1h0M146.6 254.6h0M173.7 256.9h0M238.3 187.2h0M170.4 248.4h0M131.3 169.1h0M157.6 165.3h0M232.5 222.6h0M177.0 192.9h0M161.3 213.5h0M170.9 234.0h0M132.7 236.6h0M196.0 254.3h0M126.6 191.4h0M241.1 191.6h0M257.0 182.9h0M230.9 227.1h0M246.2 221.0h0" stroke="#aeaeae" stroke-width="2.4" stroke-linecap="round" fill="none" opacity="0.8"/>
<path d="M185.8 218.3h0M236.5 232.4h0M221.0 174.9h0M182.3 211.0h0M129.8 235.3h0M138.6 216.2h0M162.1 178.2h0M259.7 221.5h0M228.4 220.2h0M133.0 198.6h0M155.2 219.3h0M180.2 250.0h0M157.2 188.3h0M254.7 231.1h0M185.2 198.2h0M228.6 176.9h0M226.9 184.3h0M238.9 169.8h0M254.3 244.4h0M127.5 177.9h0M254.3 240.4h0M165.6 238.6h0M222.0 202.1h0M144.2 243.4h0M184.9 227.5h0M176.9 187.2h0M199.0 252.8h0M137.5 186.6h0M192.8 256.1h0M265.4 163.6h0M215.5 175.9h0M153.5 175.6h0M195.2 256.9h0M261.6 197.6h0M252.0 228.1h0M134.6 248.1h0M163.0 255.5h0M142.8 248.0h0M150.1 209.0h0M232.2 215.5h0M263.7 213.4h0M252.8 175.5h0M249.8 194.6h0M190.0 239.8h0M160.4 198.0h0M244.6 224.2h0M232.8 202.1h0M157.9 199.4h0M237.6 254.3h0M220.1 178.1h0M184.2 257.1h0M124.1 195.2h0M145.3 179.0h0M163.2 221.4h0M133.6 244.9h0M138.4 212.5h0M173.8 210.2h0M139.4 196.4h0M195.5 242.4h0M214.0 170.6h0M144.2 163.7h0M163.7 174.2h0M220.1 239.2h0M188.0 218.0h0M171.5 240.3h0M221.7 170.2h0M224.3 176.1h0M228.5 193.6h0M131.8 205.4h0M254.3 215.1h0M260.0 232.7h0M239.0 176.2h0M161.7 230.1h0M234.3 194.2h0M148.4 225.1h0M139.8 209.7h0M163.3 200.8h0M217.2 222.8h0M212.0 168.5h0M253.3 220.8h0M230.3 222.9h0M129.7 165.1h0M226.2 243.0h0M179.1 182.7h0M186.9 242.5h0M231.7 175.2h0M152.7 182.5h0M230.2 186.6h0M250.6 201.8h0M151.5 202.1h0M143.9 246.1h0M127.3 202.3h0M178.0 166.4h0M155.6 256.5h0M246.4 202.6h0M248.4 248.8h0M246.2 231.6h0M226.1 219.8h0M262.7 179.9h0M252.0 234.3h0M158.6 243.1h0M166.7 225.6h0M250.6 246.5h0M223.5 242.3h0M151.4 211.9h0M263.2 252.4h0M130.0 191.6h0M149.9 235.3h0M152.0 195.0h0M262.6 174.7h0M231.7 169.2h0M220.5 187.2h0M260.4 194.0h0M219.4 165.5h0M257.9 222.8h0M254.3 233.2h0M132.6 233.2h0M250.9 225.7h0M173.8 169.6h0M216.5 168.4h0M158.1 167.4h0M148.5 233.6h0M242.1 250.2h0M262.5 192.8h0M164.0 212.5h0M128.9 237.6h0M235.1 191.9h0M128.2 248.0h0M239.4 235.1h0M154.0 253.2h0M215.3 165.8h0M263.9 228.9h0M150.2 247.1h0M128.0 183.0h0M236.9 164.1h0M151.6 169.4h0M235.8 205.6h0M235.5 249.3h0M175.9 238.0h0M171.4 251.6h0M171.9 222.2h0M164.4 202.8h0M154.2 235.5h0M220.0 230.7h0M239.1 184.9h0M174.2 219.7h0M161.1 238.1h0M154.3 204.7h0M221.5 183.8h0M218.6 200.7h0M130.9 172.8h0M218.9 236.5h0M243.4 219.2h0M157.7 170.9h0M139.8 199.9h0M165.7 216.1h0M242.0 188.3h0M251.4 241.8h0M151.4 218.6h0M155.4 182.1h0M125.1 165.2h0M239.0 244.7h0M247.1 169.8h0M127.4 244.0h0M177.4 195.5h0M223.8 213.1h0M170.9 177.0h0M140.4 230.2h0M253.0 166.4h0M155.8 212.5h0M162.0 209.1h0M140.7 202.5h0M256.3 236.8h0M266.1 191.2h0M243.8 221.5h0M142.7 179.5h0M263.2 215.4h0M181.8 233.1h0M247.8 257.3h0M241.7 203.0h0M152.9 208.1h0M167.6 187.2h0M213.1 191.5h0M140.3 236.8h0M234.4 229.6h0M235.8 218.8h0M213.9 179.0h0M131.9 242.9h0M126.6 186.8h0M181.0 229.1h0M223.3 244.9h0M256.5 188.5h0M159.5 174.4h0M171.0 172.5h0M261.0 217.2h0M254.0 186.0h0M233.7 182.2h0M156.2 175.3h0M147.5 174.4h0M227.6 222.9h0M222.0 223.3h0M177.7 255.7h0M181.9 238.9h0M141.7 219.5h0M162.7 185.0h0M167.3 200.3h0M215.7 201.4h0M246.7 177.5h0M236.9 200.2h0M160.7 247.5h0M166.5 246.5h0M242.8 247.0h0M186.1 202.0h0M259.0 182.0h0M147.7 179.1h0M167.1 202.4h0M178.6 206.4h0M129.0 195.2h0M192.6 248.5h0M246.6 209.6h0M127.0 168.4h0M225.3 248.2h0M134.8 241.5h0M169.8 202.2h0M124.1 175.8h0M260.0 228.3h0M145.0 237.8h0M218.4 191.0h0M147.3 223.4h0M256.5 186.3h0M266.1 213.4h0M153.7 180.1h0M225.4 250.7h0M153.0 185.3h0M144.4 182.5h0M156.1 202.3h0M157.9 225.6h0M183.7 178.8h0M124.7 226.6h0M131.0 208.2h0M250.7 221.0h0M184.9 193.2h0M131.7 177.6h0M154.3 166.8h0M222.7 197.6h0M165.4 170.7h0M191.3 243.0h0M244.3 186.3h0M156.2 246.8h0M157.7 219.5h0M257.5 206.9h0M184.5 253.5h0M247.0 250.6h0M224.7 184.0h0M249.9 253.5h0M157.8 254.7h0M257.9 196.2h0M192.7 240.8h0M238.6 247.8h0M175.6 184.8h0M197.1 251.3h0M237.1 239.3h0M187.1 228.1h0M222.6 204.4h0M249.6 256.2h0M176.4 226.8h0M158.3 207.0h0M225.2 163.4h0M139.5 176.2h0M185.3 188.4h0M173.4 184.8h0M239.8 198.9h0M225.7 214.8h0M254.7 177.4h0M160.9 172.2h0M151.0 199.4h0M177.6 176.4h0M163.8 217.2h0M163.3 247.7h0M169.9 191.1h0M232.5 164.2h0M216.8 226.7h0M165.0 227.4h0M254.2 207.1h0M248.4 227.9h0M260.3 186.5h0M258.8 190.7h0M168.0 250.6h0M263.9 234.5h0M174.2 240.8h0M133.3 163.8h0M133.0 194.5h0M172.4 167.3h0M188.8 252.9h0M137.9 204.7h0M242.8 177.4h0M133.3 182.3h0M136.0 232.9h0M225.5 256.4h0M131.2 229.4h0M237.1 179.7h0M135.3 255.6h0M236.6 169.3h0M150.7 225.2h0M148.4 204.1h0M145.4 171.5h0M244.7 163.2h0M171.2 254.6h0M221.6 254.7h0M136.7 242.2h0M173.0 181.9h0M147.8 181.5h0M149.3 249.6h0M183.2 225.1h0M257.6 203.5h0M227.0 238.5h0M182.6 180.7h0M158.6 257.3h0M185.3 247.9h0M251.0 190.1h0M259.8 175.7h0M167.2 167.9h0M170.2 195.7h0M138.8 219.6h0M156.0 239.8h0M231.7 208.9h0M255.9 167.4h0M253.4 196.6h0M147.8 209.8h0M260.2 183.6h0M184.8 174.2h0M256.8 210.8h0M245.9 188.6h0M168.2 253.0h0M252.1 192.7h0M265.7 225.8h0M179.2 253.9h0M140.5 233.5h0M266.5 172.2h0M141.8 251.3h0M170.4 166.1h0M179.6 234.8h0M168.8 182.4h0M141.8 197.2h0M178.0 238.3h0M158.2 195.0h0M230.2 182.4h0M129.5 254.9h0M254.3 192.7h0M164.4 206.4h0M250.1 230.2h0M180.9 242.3h0M257.4 180.2h0M264.5 238.2h0M189.1 243.6h0M154.2 215.7h0M196.6 248.4h0M148.4 206.9h0M187.8 198.5h0M169.7 212.7h0M140.5 207.7h0M211.8 196.1h0M132.9 167.5h0M173.1 230.8h0M180.6 212.9h0M156.6 222.4h0M231.5 238.9h0M224.1 207.0h0M225.3 235.7h0M250.3 250.6h0M213.9 187.6h0M173.2 224.3h0M234.6 226.2h0M168.3 173.0h0M169.9 256.9h0M212.0 172.4h0M169.0 226.5h0M187.4 240.4h0M242.3 165.6h0M259.6 213.5h0M243.9 256.6h0M137.0 248.0h0M127.0 229.2h0M135.3 191.4h0M249.7 182.8h0M256.7 249.8h0M261.5 189.5h0M129.3 175.9h0M125.5 214.4h0M179.5 170.0h0M255.0 225.1h0M265.9 223.4h0M212.5 174.9h0M125.7 183.5h0M150.5 171.4h0M242.4 182.7h0M245.1 198.9h0M166.6 212.7h0M174.0 207.2h0M261.0 208.1h0M170.2 208.5h0M125.6 204.4h0M140.5 188.1h0M133.4 220.9h0M188.7 229.7h0M177.1 215.4h0M228.6 218.2h0M187.5 204.6h0M178.0 190.3h0M125.5 197.2h0M217.1 196.0h0M237.2 175.1h0M250.1 209.2h0M201.4 257.1h0M141.2 168.8h0M263.1 232.4h0M175.2 173.1h0M263.0 247.1h0M137.5 245.1h0M125.2 217.4h0M138.7 191.1h0M169.2 240.7h0M125.0 210.3h0M229.9 178.8h0M249.2 192.4h0M137.4 177.0h0M177.4 200.1h0M170.6 179.3h0M263.3 200.6h0M153.0 192.6h0M172.3 186.5h0M237.1 171.4h0M179.1 232.4h0M126.1 240.2h0M243.8 242.7h0M164.8 176.5h0M147.5 170.5h0M253.8 248.4h0M227.5 211.3h0M184.0 204.9h0M228.9 244.1h0M155.7 210.1h0M233.0 232.3h0M237.6 216.9h0M264.6 176.9h0M169.8 174.8h0M264.6 181.2h0M162.1 252.0h0M243.7 252.9h0M132.8 203.2h0M133.2 225.0h0M152.8 228.5h0M214.4 182.3h0M144.5 232.8h0M222.5 172.6h0M257.8 245.7h0M145.7 230.6h0M245.3 173.1h0M222.1 190.6h0M217.9 213.4h0M226.7 207.4h0M250.0 233.7h0M226.9 178.7h0M242.3 230.5h0M137.9 169.4h0M138.5 183.5h0M232.9 235.5h0M257.7 177.2h0M156.4 204.6h0M161.1 232.5h0M242.9 233.2h0M170.1 217.7h0M168.9 214.8h0M244.4 239.7h0M234.8 171.5h0M157.3 233.8h0M239.1 221.3h0M156.3 207.7h0M127.1 211.1h0M247.6 224.1h0M265.7 166.5h0M184.6 181.5h0M231.8 190.7h0M218.7 224.9h0M126.4 221.0h0M154.5 230.1h0M258.9 257.0h0M258.4 254.3h0M239.3 250.1h0M219.9 207.1h0M146.5 251.0h0M131.4 226.9h0M181.1 200.4h0M144.0 224.4h0M147.1 188.2h0M175.0 235.4h0M141.9 222.1h0M240.4 240.7h0M166.2 244.4h0M139.9 181.7h0M237.4 237.2h0M248.3 232.6h0M137.9 235.7h0M225.9 166.8h0M185.5 230.9h0M165.0 254.5h0M210.9 186.3h0M144.3 168.3h0M228.1 248.7h0M130.7 201.4h0M240.2 172.7h0M152.1 256.5h0M162.0 205.5h0M219.3 227.5h0M240.8 168.8h0M132.9 256.8h0M233.4 218.8h0M239.0 182.4h0M139.3 163.7h0M190.2 215.2h0M190.6 233.3h0M166.8 191.6h0M235.7 214.5h0M243.0 205.4h0M149.7 222.2h0M182.7 255.0h0M241.1 243.4h0M166.6 196.3h0M238.4 197.1h0M247.6 175.0h0M181.6 166.0h0M246.3 247.0h0M167.6 175.8h0M243.1 226.1h0M139.4 224.2h0M248.2 207.8h0M184.9 223.8h0M151.2 184.1h0M220.9 256.9h0M147.0 191.7h0M177.2 221.6h0M231.5 257.1h0M243.4 180.9h0M178.6 185.3h0M217.0 162.9h0M152.9 200.1h0M264.0 205.8h0M245.1 206.0h0M181.2 221.0h0M147.6 196.3h0M216.1 173.8h0M126.4 181.1h0M252.3 179.2h0M130.7 180.2h0M258.8 247.9h0M235.4 236.4h0M234.9 241.6h0M187.4 256.0h0M224.7 218.2h0M211.9 163.6h0M160.4 217.9h0M223.0 194.4h0M183.0 217.7h0M139.6 250.9h0M125.2 232.1h0M173.4 251.6h0M164.8 165.2h0M240.6 225.9h0M186.9 225.4h0M221.1 193.9h0M180.3 190.8h0M231.0 232.7h0M265.4 220.2h0M264.3 184.8h0M155.5 193.8h0M157.4 177.9h0M160.3 210.2h0M125.0 244.2h0M143.2 186.8h0M227.6 214.2h0M128.9 217.2h0M247.7 216.4h0M226.7 216.6h0M185.2 211.2h0M131.8 186.7h0M228.2 198.4h0M183.6 214.7h0M222.8 182.0h0M241.2 220.5h0M221.4 226.3h0M208.9 189.2h0M252.6 211.7h0M263.5 224.6h0M265.3 208.2h0M176.5 201.9h0M152.2 223.8h0M191.5 246.3h0M180.6 163.3h0M135.6 184.4h0M248.3 181.0h0M125.8 238.0h0M145.4 193.6h0M166.2 204.6h0M178.1 248.1h0M214.4 205.0h0M158.6 185.6h0M152.9 241.0h0M238.3 191.3h0M262.4 218.7h0M264.9 248.3h0M134.2 239.1h0M259.8 198.9h0M240.9 194.7h0M232.3 228.8h0M128.7 225.3h0M163.6 214.7h0M226.3 252.5h0M246.2 218.7h0M266.5 253.9h0M178.9 245.6h0M168.0 229.3h0M194.7 247.1h0M142.5 191.0h0M261.9 238.2h0M155.7 197.7h0M234.3 176.1h0M186.3 214.0h0M159.8 224.4h0M126.8 253.6h0M142.6 207.5h0M168.6 193.0h0M177.2 243.6h0M174.0 192.9h0M241.2 245.7h0M136.1 171.5h0M219.2 203.2h0M136.8 229.2h0M218.7 173.5h0M188.1 236.2h0M234.0 184.5h0M130.4 239.8h0M222.9 233.8h0M258.6 215.5h0M147.6 215.2h0M157.2 229.7h0M181.7 187.6h0M176.8 232.2h0M183.0 201.5h0M175.8 180.7h0M155.0 226.6h0M244.7 190.7h0M236.7 203.0h0M140.6 217.2h0M163.9 181.9h0M265.1 251.5h0M234.7 254.4h0M254.7 212.3h0M260.9 178.2h0M178.6 164.2h0M185.9 250.0h0M157.6 163.2h0M223.9 228.8h0M143.8 250.7h0M241.4 214.6h0M171.8 192.4h0M252.8 163.6h0M167.2 184.2h0M230.4 198.0h0M246.8 193.8h0M255.5 201.9h0M225.8 170.9h0M129.9 184.1h0M248.3 240.7h0M260.8 246.4h0M136.7 200.6h0M144.7 220.8h0M135.3 206.8h0M213.0 201.3h0M248.0 166.7h0M141.7 242.6h0M138.1 239.2h0M124.0 199.7h0M159.8 192.2h0M179.1 226.3h0M260.0 165.8h0M124.9 192.5h0M144.8 235.7h0M165.1 184.2h0M259.4 170.5h0M259.7 206.1h0M234.6 223.4h0M265.5 188.4h0M135.5 189.4h0M136.6 196.0h0M149.7 185.9h0M258.5 168.3h0M266.3 193.2h0M222.1 250.3h0M240.9 217.0h0M146.2 185.2h0M154.4 245.1h0M181.8 207.3h0M239.5 237.9h0M186.5 232.8h0M180.8 193.0h0M175.6 230.4h0M183.6 171.2h0M170.6 210.8h0M253.4 200.8h0M258.3 193.1h0M150.8 166.1h0M124.2 173.7h0M173.2 204.2h0M146.0 165.3h0M151.8 205.2h0M256.4 205.2h0M265.1 231.3h0M145.6 202.0h0M217.3 219.8h0M166.1 218.4h0M137.0 181.8h0M261.4 173.0h0M178.2 230.1h0M134.1 234.9h0M181.3 197.4h0M255.0 170.0h0M169.7 168.4h0M166.5 209.9h0M140.3 205.1h0M131.9 213.9h0M239.9 208.0h0M155.2 177.9h0M221.2 220.9h0M144.2 188.8h0M125.7 249.0h0M244.1 216.0h0M171.2 189.2h0M127.4 199.2h0M257.6 232.2h0M258.0 239.0h0M229.9 168.1h0M143.2 193.7h0M169.1 219.5h0M225.9 203.5h0M239.6 231.8h0M255.6 195.3h0M150.4 197.2h0M212.5 203.2h0M146.7 243.5h0M160.0 178.5h0M173.1 173.5h0M238.4 165.7h0M152.6 247.4h0M181.7 252.4h0M237.6 210.8h0M173.8 242.9h0M255.7 164.3h0M247.2 237.2h0M180.5 237.2h0M158.1 235.9h0M235.1 187.3h0M233.1 243.3h0M147.7 231.7h0M165.4 188.7h0M214.9 199.1h0M152.0 244.7h0M246.6 183.0h0M190.7 230.0h0M187.2 220.0h0M135.8 203.5h0M178.6 180.4h0M266.1 199.1h0M261.6 226.5h0M191.3 238.2h0M248.7 162.9h0M257.1 165.9h0M231.8 203.8h0M232.2 220.5h0M134.0 169.5h0M130.2 218.8h0M169.8 186.2h0M258.8 219.5h0M247.2 234.8h0M126.3 235.7h0M191.1 250.7h0M135.8 224.1h0M156.4 244.6h0M142.1 210.2h0M161.2 236.0h0M232.9 240.9h0M129.2 221.7h0M129.3 189.3h0M176.3 219.3h0M149.4 201.8h0M152.5 250.5h0M230.3 195.2h0M154.3 242.8h0M160.3 181.7h0M241.5 186.1h0M175.1 163.8h0M140.5 246.9h0M236.4 251.2h0M149.2 191.8h0M176.8 204.5h0M133.3 191.8h0M161.9 169.7h0M124.6 254.0h0M228.2 251.5h0M169.4 235.7h0M155.6 164.9h0M181.3 173.9h0M129.9 214.5h0M242.8 199.9h0M156.7 180.5h0M235.1 221.3h0M142.9 257.5h0M243.0 173.3h0M128.1 171.8h0M224.2 224.0h0M173.1 239.0h0M145.2 208.2h0M243.6 237.7h0M240.1 212.0h0M234.8 210.0h0M232.3 179.0h0M142.3 181.6h0M176.1 247.6h0M211.2 189.3h0M224.1 239.2h0M261.6 164.4h0M232.2 245.1h0M138.4 198.4h0M176.2 213.1h0M161.2 219.7h0M241.5 239.0h0M188.7 201.1h0M232.0 183.4h0M170.1 229.5h0M141.8 226.8h0M150.7 240.2h0M264.7 194.7h0M236.5 228.4h0M245.7 243.9h0M228.5 231.6h0M240.9 252.0h0M249.9 239.3h0M129.2 251.5h0M150.3 238.1h0M184.3 195.6h0M148.8 229.2h0M229.0 233.9h0M264.7 218.0h0M232.9 196.7h0M162.2 224.8h0M262.7 195.8h0M251.9 243.8h0M222.6 178.5h0M236.6 244.7h0M190.1 218.2h0M178.1 250.7h0M140.6 171.9h0M212.6 183.8h0M159.5 250.9h0M183.2 244.2h0M253.8 202.9h0M133.7 229.9h0M251.3 237.9h0M225.7 222.0h0M220.7 235.3h0M183.4 167.1h0M149.0 253.5h0M128.4 242.3h0M173.2 195.1h0M190.7 224.6h0M145.1 247.9h0M225.2 188.4h0M263.6 242.6h0M160.7 241.7h0M231.0 248.0h0M215.7 210.0h0M229.4 189.4h0M155.1 186.5h0M221.0 162.9h0M253.6 236.1h0M229.4 203.7h0M176.3 178.3h0M230.0 236.2h0M178.5 197.7h0M151.2 179.0h0M258.6 163.6h0M252.9 246.6h0M144.9 257.0h0M249.1 187.5h0M251.5 218.2h0M231.3 254.0h0M256.4 252.1h0M265.2 174.1h0M135.7 210.2h0M159.0 203.9h0M127.5 206.0h0M157.0 191.3h0M172.4 244.7h0M142.7 203.3h0M227.6 188.2h0M142.7 214.7h0M260.4 253.3h0M232.1 172.7h0M153.6 212.4h0M239.1 205.9h0M226.8 228.4h0M244.6 194.6h0M175.4 252.6h0M182.9 249.7h0M237.0 225.6h0M163.6 234.8h0M137.1 256.7h0M243.3 209.7h0M153.7 202.3h0M229.2 184.5h0M255.3 199.4h0M155.5 249.5h0M185.0 184.7h0M143.0 172.6h0M228.4 172.9h0M183.4 176.0h0M169.8 224.3h0M183.3 236.7h0M157.1 250.7h0M261.3 230.1h0M138.8 167.0h0M176.8 224.2h0M155.0 184.3h0M183.0 191.1h0M146.6 254.6h0M173.7 256.9h0M238.3 187.2h0M170.4 248.4h0M131.3 169.1h0M157.6 165.3h0M232.5 222.6h0M177.0 192.9h0M161.3 213.5h0M170.9 234.0h0M132.7 236.6h0M196.0 254.3h0M126.6 191.4h0M241.1 191.6h0M257.0 182.9h0M230.9 227.1h0M246.2 221.0h0" stroke="#727272" stroke-width="0.9" stroke-linecap="round" fill="none" opacity="0.8"/>
</g>
<polygon points="184.8,162.8 185.3,174.0 186.2,183.5 188.3,189.8 187.4,196.2 190.1,202.5 188.3,207.8 191.1,214.1 191.5,222.5 192.5,228.9 194.3,235.2 196.4,241.5 196.9,246.8 200.6,250.0 203.8,257.5 219.1,257.5 219.6,251.0 221.0,245.8 219.6,240.5 216.5,233.1 214.4,226.8 213.8,219.4 217.0,215.2 214.9,209.9 211.9,203.5 210.7,198.3 208.3,193.0 208.0,186.1 212.2,183.0 212.2,179.3 209.4,172.9 211.2,167.7 207.3,162.8" fill="#8c8c8c" opacity="0.8"/>
<rect x="124.0" y="162.8" width="142.5" height="94.7" fill="url(#g10)"/>
<rect x="124.4" y="163.2" width="141.7" height="93.9" fill="none" stroke="#444" stroke-width="0.8" opacity="0.7"/>
<path d="M184.8 162.8L185.3 174.0L186.2 183.5L188.3 189.8L187.4 196.2L190.1 202.5L188.3 207.8L191.1 214.1L191.5 222.5L192.5 228.9L194.3 235.2L196.4 241.5L196.9 246.8L200.6 250.0L203.8 257.5" fill="none" stroke="#161616" stroke-width="1.55" stroke-dasharray="3.2 2.1" stroke-linejoin="round"/>
<path d="M207.3 162.8L211.2 167.7L209.4 172.9L212.2 179.3L212.2 183.0L208.0 186.1L208.3 193.0L210.7 198.3L211.9 203.5L214.9 209.9L217.0 215.2L213.8 219.4L214.4 226.8L216.5 233.1L219.6 240.5L221.0 245.8L219.6 251.0L219.1 257.5" fill="none" stroke="#161616" stroke-width="1.55" stroke-dasharray="3.2 2.1" stroke-linejoin="round"/>
<rect x="242.5" y="251.7" width="16.5" height="2.2" fill="#1a1a1a"/>
</g>
<g clip-path="url(#c11)">
<rect x="277.0" y="162.8" width="142.4" height="94.7" fill="#888888"/>
<g filter="url(#bl)"><path d="M281.1 198.0h0M299.3 253.9h0M360.2 187.6h0M400.7 249.4h0M307.7 228.3h0M418.5 184.6h0M377.1 241.3h0M400.1 188.1h0M331.7 173.6h0M319.3 246.2h0M314.8 207.3h0M371.3 239.7h0M411.1 196.5h0M332.7 234.7h0M390.4 237.6h0M315.1 244.6h0M385.8 218.9h0M324.6 231.4h0M286.8 232.9h0M336.6 234.9h0M360.7 196.7h0M322.1 210.4h0M296.3 187.3h0M367.8 181.3h0M407.9 212.8h0M322.7 179.5h0M316.4 200.3h0M296.4 192.0h0M414.2 251.6h0M406.9 252.6h0M377.0 254.2h0M368.1 201.6h0M301.0 224.6h0M415.6 204.7h0M374.5 257.5h0M379.8 243.8h0M400.8 215.4h0M401.4 196.3h0M394.6 203.9h0M307.7 241.1h0M389.9 223.0h0M396.9 225.8h0M280.8 238.1h0M398.6 176.0h0M283.7 244.7h0M314.3 213.4h0M409.4 181.1h0M401.3 244.3h0M339.2 237.9h0M298.5 239.2h0M392.1 231.9h0M281.8 191.0h0M317.5 181.8h0M322.8 190.8h0M325.0 211.9h0M299.4 205.5h0M326.9 199.4h0M329.1 167.1h0M403.0 191.5h0M383.5 252.3h0M331.2 195.8h0M373.3 252.1h0M292.4 192.4h0M331.3 232.7h0M396.3 186.3h0M352.0 172.4h0M322.6 217.5h0M395.0 181.1h0M391.0 225.4h0M394.2 169.0h0M350.6 176.5h0M387.3 227.0h0M309.8 256.5h0M404.6 199.8h0M307.8 236.1h0M325.3 244.4h0M327.3 218.6h0M321.8 221.5h0M285.4 197.2h0M391.2 209.5h0M412.6 177.5h0M381.4 200.4h0M307.2 194.5h0M330.3 209.0h0M389.9 200.7h0M281.9 241.2h0M402.9 223.4h0M416.6 217.9h0M284.8 211.7h0M305.9 207.0h0M362.7 183.7h0M286.3 209.7h0M373.9 212.5h0M393.2 257.4h0M415.6 194.6h0M308.1 251.8h0M386.4 254.1h0M332.0 210.3h0M313.7 225.0h0M408.9 168.8h0M301.5 192.2h0M285.2 189.4h0M286.0 246.1h0M368.9 209.8h0M322.9 227.1h0M325.7 242.2h0M282.5 184.0h0M411.1 221.5h0M381.5 209.2h0M377.4 203.4h0M390.1 251.9h0M367.9 240.9h0M300.0 182.1h0M354.6 191.5h0M405.9 172.5h0M394.6 253.3h0M334.7 239.1h0M364.9 184.1h0M321.0 169.8h0M302.7 246.6h0M415.8 166.2h0M305.2 183.6h0M294.2 220.6h0M402.6 214.5h0M312.1 166.9h0M320.3 199.0h0M387.5 201.6h0M401.5 174.0h0M389.2 178.5h0M357.2 210.6h0M381.5 212.6h0M318.0 252.6h0M290.6 166.6h0M328.3 223.7h0M313.9 231.6h0M390.2 213.4h0M407.9 201.5h0M330.7 235.2h0M386.9 203.5h0M363.9 198.6h0M336.3 251.4h0M418.4 255.7h0M314.7 248.7h0M364.8 215.5h0M289.4 238.1h0M416.0 184.5h0M318.4 163.9h0M301.1 245.3h0M373.1 204.8h0M311.5 253.3h0M368.2 199.5h0M415.6 202.2h0M313.8 184.3h0M282.0 205.5h0M409.5 231.9h0M326.4 191.5h0M391.5 240.6h0M321.5 186.5h0M314.4 239.7h0M373.4 238.5h0M354.1 165.2h0M371.3 185.7h0M398.7 218.1h0M374.9 227.8h0M398.3 240.2h0M407.7 241.0h0M327.1 234.1h0M290.3 180.1h0M295.2 172.1h0M326.8 205.9h0M358.7 228.7h0M289.2 254.9h0M281.3 173.6h0M379.9 194.0h0M368.0 215.7h0M393.0 201.2h0M281.1 214.2h0M287.4 256.0h0M360.3 231.4h0M285.6 184.0h0M333.0 241.4h0M393.6 215.0h0M315.7 171.4h0M286.9 236.5h0M407.2 184.7h0M412.8 246.5h0M305.7 250.8h0M281.8 228.9h0M337.0 248.2h0M404.4 180.1h0M306.9 163.8h0M327.2 169.9h0M320.1 174.3h0M408.9 238.3h0M327.6 213.6h0M289.1 168.6h0M393.7 171.1h0M329.4 185.2h0M311.2 224.4h0M311.1 251.0h0M404.3 211.1h0M411.6 231.5h0M396.6 253.8h0M406.1 192.6h0M385.1 236.5h0M284.4 194.3h0M321.7 175.8h0M316.8 225.9h0M317.0 247.4h0M401.1 206.3h0M319.2 224.7h0M403.6 240.1h0M283.9 252.1h0M386.1 190.4h0M379.8 164.4h0M393.8 189.9h0M392.9 234.4h0M390.1 227.6h0M336.8 175.3h0M301.0 195.8h0M400.7 228.3h0M364.2 167.7h0M283.2 214.3h0M338.3 244.8h0M310.1 195.7h0M391.3 172.3h0M331.9 227.2h0M382.2 235.7h0M300.4 231.1h0M341.2 246.8h0M304.9 242.2h0M407.4 220.4h0M329.5 246.3h0M301.5 202.0h0M329.6 213.1h0M310.2 170.6h0M388.9 231.5h0M300.1 256.8h0M279.3 181.2h0M366.8 223.9h0M321.7 203.4h0M292.4 230.4h0M301.0 217.7h0M391.7 164.0h0M309.2 188.8h0M307.3 210.0h0M317.9 231.4h0M278.5 248.6h0M319.7 179.7h0M394.6 231.8h0M389.2 246.0h0M311.7 220.9h0M339.3 235.0h0M401.1 237.9h0M286.8 215.1h0M377.6 183.0h0M315.3 227.8h0M371.5 222.8h0M288.0 183.3h0M319.9 209.7h0M410.6 244.2h0M359.0 180.5h0M389.0 215.9h0M326.3 254.8h0M288.2 179.5h0M394.2 184.7h0M391.0 170.0h0M361.6 251.8h0M363.0 185.9h0M307.3 239.1h0M314.8 250.9h0M380.8 232.7h0M372.4 163.8h0M366.1 205.6h0M316.5 196.6h0M374.4 184.9h0M412.7 170.2h0M370.1 191.7h0M330.6 239.1h0M406.3 177.1h0M367.4 245.8h0M354.1 196.9h0M351.6 186.8h0M306.6 220.4h0M293.0 184.6h0M289.9 228.1h0M299.5 188.7h0M399.0 212.2h0M328.3 175.9h0M303.2 229.2h0M308.4 230.4h0M332.5 189.5h0M308.5 205.3h0M417.3 200.6h0M298.0 180.2h0M369.0 243.3h0M383.5 168.3h0M401.0 233.5h0M300.1 222.2h0M396.2 189.8h0M315.8 210.3h0M304.4 244.9h0M360.8 200.1h0M404.1 255.9h0M341.5 249.9h0M388.3 191.7h0M387.2 173.8h0M333.0 217.1h0M320.7 163.8h0M358.8 221.0h0M371.3 178.6h0M287.0 167.1h0M296.1 211.7h0M414.3 186.6h0M405.3 195.8h0M319.3 239.1h0M378.2 212.2h0M382.1 163.8h0M287.9 189.5h0M415.8 180.9h0M317.7 186.1h0M363.2 230.0h0M329.0 206.0h0M281.7 166.5h0M414.8 190.1h0M400.9 200.6h0M295.0 183.5h0M386.2 213.9h0M371.4 231.9h0M304.5 180.2h0M339.3 242.5h0M292.4 175.0h0M392.1 183.6h0M280.3 218.1h0M378.7 219.3h0M328.3 250.6h0M292.9 217.3h0M367.4 166.8h0M385.1 221.3h0M399.8 225.4h0M410.9 218.3h0M355.1 199.2h0M397.1 222.7h0M388.9 256.5h0M305.1 253.8h0M317.4 204.0h0M381.6 239.8h0M278.7 251.1h0M366.2 173.2h0M302.4 198.2h0M305.0 172.7h0M386.0 209.4h0M298.7 211.6h0M373.9 242.0h0M282.4 218.7h0M328.2 186.9h0M386.4 192.7h0M326.0 250.9h0M416.5 176.5h0M309.1 221.2h0M308.1 223.0h0M370.2 167.4h0M320.9 248.0h0M413.1 229.7h0M409.7 229.8h0M407.7 194.5h0M288.7 208.2h0M419.3 219.1h0M311.4 199.8h0M323.1 223.8h0M405.4 170.0h0M283.5 165.0h0M334.6 232.8h0M386.1 176.0h0M388.2 182.9h0M378.4 167.5h0M390.9 195.9h0M375.0 169.4h0M297.8 202.8h0M323.1 257.1h0M297.0 253.0h0M382.9 179.4h0M403.5 166.6h0M379.5 253.9h0M385.7 249.8h0M376.2 231.9h0M406.1 250.7h0M329.4 179.3h0M405.8 203.5h0M416.1 173.1h0M329.7 230.0h0M314.6 165.6h0M323.4 237.2h0M360.4 206.5h0M366.2 251.1h0M353.7 175.5h0M277.2 254.9h0M414.9 256.6h0M411.9 224.1h0M370.6 250.5h0M309.9 209.6h0M357.9 193.5h0M361.0 218.0h0M408.5 206.6h0M277.4 165.6h0M281.1 246.0h0M314.0 221.0h0M298.4 213.8h0M294.3 250.6h0M360.9 257.4h0M290.2 231.6h0M310.6 193.7h0M404.1 229.0h0M334.1 177.8h0M411.8 254.2h0M353.3 183.3h0M353.2 170.4h0M381.4 256.8h0M302.4 208.7h0M308.6 191.4h0M281.7 200.0h0M356.3 225.1h0M394.4 174.3h0M386.2 197.3h0M290.2 190.0h0M410.9 200.2h0M367.7 256.0h0M396.1 196.9h0M313.4 210.9h0M363.9 242.6h0M302.4 221.2h0M388.1 169.8h0M403.8 188.6h0M376.2 225.7h0M373.0 235.8h0M374.4 193.8h0M285.0 228.8h0M359.6 173.1h0M277.8 221.9h0M277.3 211.0h0M332.5 244.8h0M309.8 219.2h0M329.2 221.5h0M328.3 194.6h0M328.1 243.2h0M416.0 234.9h0M380.8 226.5h0M377.7 192.9h0M381.0 176.4h0M285.2 255.1h0M347.9 180.0h0M277.2 235.2h0M407.5 230.5h0M356.5 212.8h0M360.7 239.0h0M327.2 229.3h0M301.7 205.0h0M362.8 246.4h0M304.4 237.8h0M320.1 228.5h0M379.0 250.3h0M378.0 221.3h0M317.7 211.7h0M415.9 221.7h0M373.3 216.1h0M404.6 232.9h0M393.4 193.6h0M284.6 239.5h0M373.7 172.3h0M410.9 206.6h0M377.7 216.8h0M289.5 187.9h0M388.4 175.7h0M300.5 210.1h0M386.2 171.5h0M328.7 171.7h0M374.9 203.6h0M418.9 207.3h0M364.4 194.9h0M317.5 167.9h0M384.0 200.7h0M414.1 200.7h0M394.7 163.2h0M405.3 209.1h0M395.4 191.7h0M310.2 206.4h0M302.2 165.6h0M279.8 176.6h0M287.4 192.6h0M368.5 213.3h0M360.6 167.9h0M357.2 196.7h0M366.0 232.9h0M381.1 219.5h0M364.0 188.3h0M324.5 183.8h0M286.7 241.2h0M375.3 219.2h0M333.4 205.9h0M394.6 165.6h0M292.5 238.5h0M327.2 246.5h0M310.8 235.9h0M399.2 193.7h0M404.3 247.1h0M364.0 172.5h0M354.0 179.9h0M317.6 217.0h0M398.2 180.3h0M352.4 189.2h0M296.6 175.6h0M365.1 227.2h0M410.5 187.4h0M301.1 238.0h0M289.0 223.5h0M321.0 254.2h0M296.1 209.3h0M379.0 237.4h0M298.4 190.8h0M312.4 186.9h0M362.0 163.9h0M386.3 233.9h0M364.0 210.2h0M312.6 192.6h0M373.0 170.0h0M303.3 211.9h0M364.1 248.0h0M400.7 179.6h0M381.0 189.5h0M278.6 239.9h0M299.6 171.3h0M316.4 242.9h0M362.1 180.5h0M338.6 255.6h0M331.3 207.0h0M313.5 201.3h0M410.2 176.5h0M386.8 247.5h0M411.6 179.6h0M280.9 223.1h0M398.4 257.1h0M295.9 203.5h0M293.4 173.3h0M306.2 178.1h0M376.8 229.1h0M304.4 170.6h0M355.7 169.5h0M334.4 243.4h0M382.2 230.0h0M304.3 167.6h0M320.1 217.0h0M367.9 254.0h0M318.4 219.0h0M331.5 253.1h0M325.1 175.2h0M374.8 207.6h0M363.9 174.9h0M358.5 207.7h0M293.3 167.8h0M326.8 174.1h0M281.8 233.7h0M331.1 256.7h0M288.2 199.6h0M376.5 194.5h0M296.4 164.4h0M319.0 235.3h0M399.5 231.1h0M382.6 222.7h0M355.3 174.3h0M327.4 257.3h0M319.4 213.2h0M386.9 167.6h0M410.1 210.2h0M355.9 184.8h0M349.9 200.3h0M402.1 212.3h0M386.2 187.2h0M301.7 215.4h0M392.7 250.7h0M279.3 229.2h0M375.4 236.7h0M296.7 228.1h0M366.7 219.0h0M370.5 234.0h0M327.2 177.6h0M416.8 224.3h0M294.4 222.8h0M307.8 198.2h0M373.1 247.4h0M365.2 240.5h0M287.6 230.3h0M398.4 195.7h0M395.8 194.1h0M326.7 203.7h0M377.9 173.8h0M286.4 172.3h0M302.2 169.9h0M286.1 203.2h0M333.5 255.6h0M296.9 241.5h0M390.1 206.3h0M375.5 215.0h0M418.1 167.8h0M384.9 240.5h0M370.1 254.8h0M284.6 220.8h0M372.6 198.9h0M309.6 186.4h0M331.2 171.2h0M278.8 200.0h0M308.9 244.7h0M383.2 196.8h0M292.1 251.1h0M405.8 235.1h0M315.5 215.6h0M277.3 193.3h0M380.2 204.7h0M368.2 226.7h0M281.5 195.2h0M376.6 251.1h0M314.5 229.7h0M380.7 171.5h0M417.4 210.5h0M295.3 189.5h0M401.1 176.3h0M392.9 227.6h0M395.4 239.3h0M363.2 225.6h0M289.2 248.9h0M313.4 172.0h0M364.0 223.8h0M294.9 256.5h0M400.8 209.5h0M323.1 163.3h0M369.4 170.9h0M280.9 210.3h0M397.1 213.5h0M359.4 214.1h0M372.8 255.5h0M289.8 234.8h0M281.3 163.8h0M416.7 188.1h0M295.9 181.4h0M391.6 186.3h0M279.5 234.8h0M414.6 218.8h0M405.3 220.9h0M318.3 192.3h0M319.6 193.9h0M279.5 255.0h0M335.2 241.1h0M418.3 175.1h0M379.7 215.3h0M374.8 245.3h0M359.4 198.6h0M393.4 244.0h0M376.4 166.6h0M373.9 166.4h0M306.4 204.7h0M386.0 181.0h0M370.1 165.1h0M281.0 251.2h0M398.0 201.4h0M391.6 249.0h0M366.7 186.7h0M387.2 236.2h0M396.1 172.2h0M342.1 232.5h0M357.1 189.7h0M352.8 163.1h0M299.7 173.8h0M328.9 198.9h0M281.4 253.9h0M366.7 208.1h0M305.2 196.8h0M384.1 195.0h0M311.9 229.2h0M336.8 254.2h0M398.5 183.9h0M404.0 204.9h0M411.7 189.5h0M373.7 231.8h0M396.6 174.5h0M394.4 218.8h0M313.8 181.6h0M403.0 220.6h0M325.4 196.5h0M292.7 215.2h0M293.2 253.7h0M417.1 178.8h0M290.5 173.3h0M325.5 237.5h0M359.9 178.3h0M414.0 175.7h0M285.1 226.2h0M372.7 227.2h0M288.9 194.9h0M316.2 177.6h0M323.8 248.2h0M363.8 212.9h0M330.4 192.8h0M307.9 214.3h0M311.7 173.4h0M308.7 248.8h0M389.0 187.1h0M360.4 203.5h0M323.5 198.3h0M277.1 184.9h0M364.8 177.1h0M331.8 250.8h0M415.1 249.4h0M302.7 240.3h0M279.1 208.3h0M297.2 255.6h0M317.0 255.1h0M358.2 223.7h0M286.4 175.5h0M364.5 252.8h0M310.1 247.4h0M399.2 173.3h0M279.3 202.4h0M312.4 163.5h0M300.2 240.6h0M417.1 251.6h0M340.6 254.3h0M372.9 202.5h0M282.4 202.4h0M357.4 215.4h0M358.3 165.0h0M321.8 207.0h0M287.4 212.1h0M319.0 200.7h0M324.2 255.0h0M287.0 220.8h0M310.9 212.9h0M303.7 250.4h0M297.7 223.6h0M413.0 237.4h0M373.1 174.6h0M411.1 203.6h0M384.2 182.3h0M300.6 163.0h0M334.6 174.4h0M366.0 169.1h0M289.5 218.9h0M322.7 167.6h0M384.1 175.6h0M395.6 246.5h0M356.5 166.4h0M389.2 180.7h0M350.8 202.7h0M408.8 214.7h0M348.1 186.0h0M341.4 234.6h0M376.3 177.2h0M282.9 216.5h0M335.2 227.1h0M367.7 248.9h0M401.3 165.2h0M416.3 197.9h0" stroke="#d6d6d6" stroke-width="1.9" stroke-linecap="round" fill="none" opacity="0.8"/>
</g>
<polygon points="330.9,162.8 331.1,169.8 334.8,173.5 339.3,176.6 336.9,182.4 332.7,187.7 333.7,193.0 331.6,199.3 330.6,202.5 334.8,206.7 335.3,212.0 334.1,218.3 334.1,223.6 336.2,227.8 341.1,229.9 344.8,233.1 344.6,238.4 340.6,242.6 342.7,246.8 341.7,253.2 339.6,257.5 359.1,257.5 360.1,251.6 362.2,246.8 359.6,242.6 357.0,238.4 357.7,233.1 355.2,228.4 354.3,224.1 357.5,219.4 355.6,214.1 356.4,206.7 352.2,204.6 348.5,201.4 350.6,198.3 354.3,195.6 354.3,192.5 349.6,190.4 346.4,185.6 346.4,179.8 348.5,175.6 351.0,170.8 351.2,162.8" fill="#989898" opacity="0.8"/>
<rect x="277.0" y="162.8" width="142.4" height="94.7" fill="url(#g11)"/>
<rect x="277.4" y="163.2" width="141.6" height="93.9" fill="none" stroke="#444" stroke-width="0.8" opacity="0.7"/>
<path d="M330.9 162.8L331.1 169.8L334.8 173.5L339.3 176.6L336.9 182.4L332.7 187.7L333.7 193.0L331.6 199.3L330.6 202.5L334.8 206.7L335.3 212.0L334.1 218.3L334.1 223.6L336.2 227.8L341.1 229.9L344.8 233.1L344.6 238.4L340.6 242.6L342.7 246.8L341.7 253.2L339.6 257.5" fill="none" stroke="#161616" stroke-width="1.55" stroke-dasharray="3.2 2.1" stroke-linejoin="round"/>
<path d="M351.2 162.8L351.0 170.8L348.5 175.6L346.4 179.8L346.4 185.6L349.6 190.4L354.3 192.5L354.3 195.6L350.6 198.3L348.5 201.4L352.2 204.6L356.4 206.7L355.6 214.1L357.5 219.4L354.3 224.1L355.2 228.4L357.7 233.1L357.0 238.4L359.6 242.6L362.2 246.8L360.1 251.6L359.1 257.5" fill="none" stroke="#161616" stroke-width="1.55" stroke-dasharray="3.2 2.1" stroke-linejoin="round"/>
<rect x="395.4" y="251.7" width="16.5" height="2.2" fill="#1a1a1a"/>
</g>
<g clip-path="url(#c12)">
<rect x="432.5" y="162.8" width="142.2" height="94.7" fill="#a2a2a2"/>
<g filter="url(#bl)"><path d="M451.2 213.0h0M441.1 255.1h0M522.2 208.0h0M443.0 198.1h0M432.5 175.6h0M501.2 191.0h0M500.2 227.2h0M438.8 251.9h0M521.6 214.9h0M486.4 185.8h0M532.1 208.3h0M461.7 172.4h0M557.1 239.5h0M570.3 227.3h0M494.0 249.6h0M442.5 205.8h0M555.6 213.8h0M545.9 236.4h0M474.3 253.5h0M437.0 235.3h0M434.1 173.8h0M437.7 180.6h0M479.9 169.0h0M560.5 255.6h0M569.8 248.8h0M564.2 253.1h0M483.5 179.6h0M440.0 201.0h0M465.4 195.6h0M481.5 238.7h0M490.9 178.7h0M474.0 187.0h0M502.2 247.3h0M492.4 244.6h0M477.4 248.1h0M555.9 250.9h0M563.9 186.1h0M436.7 227.6h0M467.4 231.7h0M542.7 176.7h0M479.1 193.5h0M472.4 235.0h0M435.1 194.6h0M545.3 169.5h0M493.9 254.8h0M571.2 229.4h0M543.8 221.7h0M490.8 165.7h0M445.5 211.6h0M560.0 200.4h0M572.4 168.0h0M466.5 207.0h0M500.0 249.6h0M535.0 219.0h0M457.4 226.6h0M432.5 199.1h0M478.8 201.3h0M501.3 216.9h0M439.4 218.0h0M528.2 234.6h0M444.7 192.8h0M471.1 222.7h0M558.9 197.4h0M543.8 164.3h0M468.3 214.0h0M560.0 232.1h0M470.7 251.6h0M455.4 217.4h0M478.2 229.3h0M530.9 177.9h0M482.3 254.3h0M574.7 173.8h0M439.7 240.9h0M548.3 192.5h0M547.5 228.5h0M480.1 228.1h0M544.5 211.1h0M443.1 168.8h0M545.4 256.6h0M547.8 244.8h0M562.6 214.1h0M465.5 251.3h0M481.5 216.8h0M567.8 178.8h0M463.4 229.0h0M539.7 213.1h0M461.8 192.0h0M477.0 197.5h0M454.3 248.5h0M481.2 181.1h0M449.4 207.9h0M452.6 207.9h0M451.2 185.8h0M568.7 167.2h0M476.1 216.3h0M536.5 249.8h0M437.4 216.9h0M556.9 186.9h0M531.2 233.9h0M432.9 181.1h0M447.6 224.5h0M453.6 221.2h0M574.0 166.0h0M467.7 172.3h0M500.1 236.9h0M540.4 192.7h0M478.6 214.2h0M562.1 238.8h0M537.5 170.9h0M564.6 180.0h0M536.1 215.8h0M462.2 212.6h0M442.3 237.6h0M461.2 216.4h0M532.3 170.5h0M518.9 181.3h0M480.8 252.1h0M524.5 179.2h0M519.7 188.0h0M437.2 163.7h0M546.4 254.0h0M439.3 185.5h0M536.0 199.7h0M451.1 165.7h0M559.4 251.9h0M496.2 233.0h0M474.6 208.2h0M562.9 236.8h0M571.9 233.0h0M569.8 189.6h0M498.7 206.1h0M502.0 232.4h0M504.8 248.5h0M550.8 191.5h0M574.5 243.9h0M494.9 176.0h0M446.7 196.7h0M521.7 245.5h0M486.4 229.3h0M563.1 163.8h0M537.3 190.3h0M566.5 169.1h0M485.6 166.3h0M520.0 167.3h0M444.4 217.8h0M454.3 163.6h0M557.4 242.1h0M503.5 243.3h0M447.4 166.4h0M529.3 191.0h0M567.4 199.1h0M496.3 211.9h0M437.6 214.2h0M532.2 205.4h0M444.6 250.0h0M526.6 195.8h0M557.2 175.7h0M474.3 171.7h0M472.3 225.1h0M570.6 182.2h0M458.4 190.5h0M562.8 209.7h0M567.9 164.5h0M459.4 250.1h0M448.3 218.0h0M457.5 175.5h0M500.2 245.3h0M462.7 256.7h0M552.9 197.4h0M553.7 253.4h0M438.0 243.7h0M521.4 205.8h0M495.5 191.8h0M484.8 206.9h0M554.8 239.2h0M555.3 207.2h0M552.8 226.3h0M479.2 220.4h0M440.4 224.2h0M474.9 212.6h0M546.9 199.5h0M556.5 255.4h0M453.2 180.2h0M571.1 172.0h0M468.8 257.2h0M548.6 181.6h0M490.4 257.0h0M468.3 236.2h0M468.5 203.0h0M566.0 225.2h0M477.6 180.0h0M472.6 177.2h0M435.5 240.0h0M546.8 210.9h0M437.6 173.9h0M453.0 235.4h0M522.0 174.4h0M550.0 230.4h0M487.3 255.6h0M494.2 216.2h0M530.7 213.4h0M572.7 248.7h0M477.8 235.0h0M462.3 195.6h0M464.1 241.5h0M531.1 180.0h0M537.1 239.6h0M494.5 237.1h0M478.2 171.8h0M484.5 250.4h0M554.5 233.8h0M488.8 176.8h0M541.8 238.7h0M531.4 166.3h0M539.9 225.6h0M464.6 170.3h0M451.5 177.4h0M548.3 219.5h0M469.6 190.0h0M491.2 203.0h0M541.6 218.2h0M439.9 247.7h0M525.0 219.8h0M483.9 171.1h0M448.4 248.7h0M560.2 208.8h0M533.5 166.7h0M539.5 230.2h0M563.6 196.1h0M450.1 255.3h0M473.5 242.8h0M563.3 231.9h0M473.0 211.2h0M496.1 187.0h0M553.2 171.4h0M499.7 221.1h0M572.9 179.1h0M567.7 223.9h0M439.3 193.2h0M452.3 246.0h0M525.9 247.1h0M439.1 204.3h0M554.5 176.0h0M555.8 183.5h0M464.3 166.7h0M523.6 198.5h0M537.5 211.5h0M440.0 198.5h0M536.8 202.3h0M435.8 182.0h0M491.1 186.6h0M550.2 183.4h0M567.7 227.5h0M465.3 202.6h0M561.1 176.2h0M529.4 210.9h0M452.3 216.1h0M468.6 186.3h0M432.7 188.4h0M487.5 209.1h0M466.4 176.9h0M549.6 173.1h0M482.5 225.4h0M442.9 253.9h0M566.6 253.7h0M528.7 206.2h0M520.5 239.0h0M474.0 229.5h0M444.6 220.9h0M439.5 236.7h0M464.1 205.3h0M449.1 226.2h0M465.3 221.2h0M499.4 210.3h0M523.0 202.4h0M468.7 182.6h0M525.1 214.9h0M455.4 203.6h0M563.4 202.3h0M474.6 221.7h0M440.8 196.5h0M563.1 166.2h0M451.8 195.9h0M435.8 231.1h0M574.6 247.6h0M483.9 234.8h0M491.1 221.2h0M529.4 203.9h0M463.5 233.7h0M481.0 214.4h0M519.2 241.3h0M532.4 215.1h0M552.9 235.4h0M542.5 172.0h0M564.4 205.5h0M470.6 233.6h0M457.1 221.5h0M440.3 226.7h0M543.6 231.6h0M462.2 207.7h0M564.1 250.9h0M478.0 231.8h0M550.3 186.8h0M566.8 172.6h0M496.8 170.1h0M532.4 183.5h0M467.1 190.3h0M460.9 182.5h0M501.5 252.3h0M445.6 234.9h0M532.9 186.8h0M569.3 254.6h0M483.4 176.6h0M498.8 190.3h0M548.4 175.1h0M549.0 200.8h0M449.4 164.4h0M493.3 198.6h0M490.3 232.1h0M491.9 227.8h0M478.6 252.4h0M443.1 173.4h0M449.0 179.0h0M571.6 192.9h0M558.3 248.0h0M538.8 223.1h0M443.3 222.8h0M541.8 209.4h0M517.1 191.0h0M464.2 231.6h0M572.2 196.4h0M561.8 242.9h0M552.4 220.8h0M521.9 163.4h0M561.2 189.6h0M523.4 168.3h0M441.2 191.2h0M528.9 218.8h0M473.8 201.9h0M447.1 253.5h0M459.8 224.8h0M524.4 170.3h0M568.9 231.3h0M435.1 225.9h0M447.5 181.9h0M489.5 228.6h0M481.8 187.4h0M538.1 195.5h0M434.6 212.1h0M452.1 210.5h0M451.7 183.5h0M491.2 163.1h0M560.1 171.9h0M504.6 250.9h0M569.1 218.4h0M489.9 171.9h0M453.9 194.5h0M527.0 210.5h0M538.9 234.2h0M456.3 191.8h0M531.7 203.0h0M521.8 247.8h0M437.9 233.3h0M471.5 166.1h0M549.1 247.2h0M544.4 214.2h0M527.0 189.7h0M549.1 170.5h0M460.1 187.9h0M453.8 213.5h0M435.3 203.9h0M561.2 198.1h0M470.7 241.2h0M552.1 238.8h0M498.7 183.3h0M449.1 222.6h0M454.0 225.2h0M452.3 205.0h0M524.6 224.0h0M476.8 218.5h0M560.0 235.0h0M496.6 166.6h0M444.3 181.7h0M570.0 206.3h0M560.4 181.0h0M527.5 251.5h0M531.0 189.2h0M565.5 193.3h0M472.6 246.2h0M560.6 168.7h0M538.1 244.5h0M432.8 214.2h0M561.1 222.2h0M565.5 229.7h0M467.6 243.5h0M488.5 164.6h0M558.4 164.8h0M557.7 178.3h0M443.1 226.0h0M527.6 164.9h0M472.2 254.8h0M459.7 241.9h0M495.7 180.8h0M497.0 248.9h0M488.3 182.2h0M536.0 196.0h0M441.8 243.3h0M543.5 234.2h0M571.9 198.5h0M532.5 218.1h0M440.1 165.3h0M533.7 176.5h0M497.4 172.6h0M450.5 220.5h0M482.3 249.9h0M519.4 227.9h0M553.1 209.9h0M490.0 224.0h0M520.9 180.1h0M574.0 232.8h0M527.4 241.5h0M525.6 168.0h0M487.8 202.3h0M473.2 169.0h0M437.0 196.2h0M492.0 215.6h0M551.6 179.2h0M447.3 184.7h0M465.3 214.2h0M483.2 165.2h0M445.6 190.3h0M545.1 208.3h0M552.1 256.5h0M496.2 178.0h0M528.9 239.9h0M571.9 240.8h0M567.0 244.7h0M528.9 168.4h0M499.5 242.7h0M495.0 207.5h0M573.1 225.5h0M496.0 163.8h0M492.3 184.3h0M490.7 198.2h0M537.9 218.4h0M518.1 237.6h0M474.1 248.4h0M489.5 200.9h0M471.3 237.5h0M435.3 247.6h0M483.1 174.4h0M437.4 208.4h0M538.7 250.1h0M559.6 238.1h0M491.2 211.0h0M459.1 177.8h0M480.1 211.6h0M471.0 212.1h0M487.2 227.2h0M562.5 180.7h0M559.9 194.4h0M482.4 189.9h0M453.5 191.5h0M476.4 243.5h0M472.8 216.9h0M566.4 204.8h0M459.5 201.8h0M498.5 202.1h0M516.9 182.6h0M478.1 176.4h0M441.2 188.3h0M448.7 212.8h0M571.9 218.0h0M568.6 237.2h0M432.8 251.1h0M462.4 254.3h0M432.9 183.6h0M494.9 195.6h0M488.1 211.4h0M540.0 246.7h0M492.1 217.9h0M557.9 180.7h0M443.2 163.4h0M468.3 198.4h0M433.1 229.8h0M461.3 251.8h0M572.0 201.6h0M532.7 256.3h0M548.2 209.1h0M483.6 212.6h0M552.2 189.9h0M444.1 203.8h0M548.3 166.5h0M543.1 196.6h0M457.8 234.9h0M530.0 232.1h0M441.9 170.9h0M524.7 194.5h0M480.0 249.2h0M482.7 203.0h0M561.8 218.5h0M517.3 230.4h0M550.0 211.9h0M474.6 199.2h0M519.4 195.0h0M574.5 181.2h0M441.7 228.5h0M484.3 241.2h0M463.5 225.6h0M434.5 219.8h0M473.4 231.6h0M572.8 206.2h0M567.0 256.1h0M493.6 221.6h0M528.9 172.9h0M556.8 203.7h0M547.7 217.1h0M550.5 250.6h0M505.9 245.6h0M445.9 205.6h0M551.9 182.1h0M543.4 182.4h0M494.3 170.2h0M555.3 226.1h0M541.6 236.3h0M482.1 242.6h0M500.7 186.2h0M488.5 220.7h0M471.2 195.7h0M484.3 221.5h0M567.6 194.5h0M473.6 205.1h0M445.4 231.3h0M533.2 249.5h0M475.0 174.4h0M440.1 182.4h0M433.0 253.4h0M470.6 175.9h0M548.7 235.1h0M469.4 229.3h0M570.7 178.1h0M523.0 192.0h0M450.8 189.1h0M492.9 193.4h0M525.9 243.5h0M549.5 222.7h0M541.4 233.0h0M497.1 225.5h0M444.5 244.8h0M472.1 191.3h0M454.5 238.0h0M558.7 211.8h0M450.0 235.7h0M453.1 176.0h0M500.2 214.1h0M531.2 253.5h0M486.9 172.9h0M455.8 181.6h0M554.9 241.5h0M526.6 183.6h0M442.2 218.0h0M532.7 197.5h0M481.2 231.9h0M574.4 199.5h0M443.7 215.2h0M457.0 211.4h0M532.0 228.6h0M492.5 224.3h0M480.3 207.3h0M434.0 232.4h0M536.4 232.7h0M548.9 189.4h0M541.8 245.1h0M441.8 177.1h0M433.8 202.1h0M550.7 165.3h0M520.1 231.5h0M444.4 165.3h0M534.4 206.5h0M449.6 199.4h0M535.3 225.2h0M464.2 248.8h0M477.2 188.4h0M539.3 175.1h0M460.0 207.1h0M447.9 241.1h0M443.7 229.4h0M452.8 171.0h0M469.9 218.1h0M464.3 236.3h0M560.0 241.5h0M567.5 186.0h0M442.8 211.7h0M454.4 244.1h0M455.7 185.0h0M460.7 230.7h0M456.6 251.9h0M543.9 184.8h0M457.4 187.7h0M566.7 247.0h0M558.9 224.1h0M468.4 245.5h0M488.9 206.2h0M563.3 229.0h0M444.9 200.6h0M564.3 176.2h0M546.6 234.0h0M449.9 232.2h0M469.9 169.5h0M487.9 193.7h0M501.8 188.9h0M550.0 208.0h0M524.8 164.7h0M530.2 195.4h0M445.8 176.0h0M541.0 251.9h0M572.6 185.3h0M574.2 257.0h0M494.0 163.1h0M439.5 210.7h0M562.3 172.0h0M521.6 171.1h0M484.9 245.5h0M573.7 209.6h0M459.5 237.2h0M479.7 198.0h0M534.3 237.4h0M468.3 219.8h0M522.7 240.2h0M529.6 246.3h0M553.4 251.3h0M455.6 200.0h0M573.9 218.9h0M538.8 236.5h0M542.5 256.5h0M483.3 196.1h0M516.9 185.7h0M523.2 181.8h0M523.3 189.1h0M435.6 189.4h0M549.3 198.1h0M434.3 207.6h0M572.8 188.6h0M568.9 212.2h0M465.3 245.1h0M558.3 189.8h0M561.5 187.2h0M485.1 253.6h0M525.7 174.1h0M466.8 210.5h0M567.9 221.7h0M560.1 185.5h0M570.9 224.4h0M491.6 247.3h0M542.6 249.5h0M451.1 174.6h0M532.4 200.0h0M542.1 216.1h0M441.4 209.0h0M554.6 222.8h0M555.8 219.7h0M554.1 248.9h0M458.8 246.4h0M560.4 213.8h0M479.7 164.3h0M557.0 228.2h0M537.2 228.1h0M468.3 249.3h0M541.4 175.0h0M572.8 222.6h0M461.1 184.8h0M480.5 174.0h0M480.1 166.6h0M545.6 247.4h0M454.3 232.5h0M536.9 205.3h0M497.0 220.3h0M473.8 164.5h0M565.4 189.3h0M552.5 229.6h0M461.4 210.1h0M487.5 252.3h0M476.7 165.3h0M448.2 243.2h0M547.4 195.3h0M558.0 192.5h0M477.7 209.3h0M478.0 212.1h0M573.3 163.9h0M494.8 188.8h0M472.1 188.8h0M538.6 200.4h0M558.6 167.1h0M494.4 201.8h0M497.5 231.3h0M525.0 212.8h0M570.3 256.4h0M551.2 227.6h0M523.0 225.7h0M573.2 237.2h0M455.5 197.0h0M485.5 198.9h0M534.5 228.4h0M547.5 230.7h0M497.3 216.4h0M553.5 164.8h0M557.4 200.8h0M541.8 241.0h0M563.4 191.0h0M474.6 181.7h0M437.3 219.5h0M524.4 231.3h0M478.3 242.6h0M559.5 226.8h0M464.5 209.8h0M497.2 200.1h0M434.9 167.6h0M448.5 210.1h0M566.8 212.0h0M445.2 187.4h0" stroke="#eeeeee" stroke-width="1.8" stroke-linecap="round" fill="none" opacity="0.8"/>
</g>
<polygon points="496.9,162.8 500.1,168.7 497.7,178.2 501.1,184.6 503.8,189.8 501.7,194.6 498.3,198.3 499.6,203.5 502.7,209.9 504.0,216.2 502.2,224.7 502.9,235.2 504.3,241.5 508.0,245.8 505.4,251.0 506.7,257.5 528.5,257.5 524.9,250.5 519.6,246.8 518.8,241.5 515.9,236.3 516.4,231.0 519.1,225.7 521.7,218.3 520.7,214.1 520.4,205.7 519.1,199.3 518.0,193.0 514.1,187.7 513.8,183.0 520.1,179.8 519.1,175.1 515.9,168.7 518.3,162.8" fill="#acacac" opacity="0.8"/>
<rect x="432.5" y="162.8" width="142.2" height="94.7" fill="url(#g12)"/>
<rect x="432.9" y="163.2" width="141.4" height="93.9" fill="none" stroke="#444" stroke-width="0.8" opacity="0.7"/>
<path d="M496.9 162.8L500.1 168.7L497.7 178.2L501.1 184.6L503.8 189.8L501.7 194.6L498.3 198.3L499.6 203.5L502.7 209.9L504.0 216.2L502.2 224.7L502.9 235.2L504.3 241.5L508.0 245.8L505.4 251.0L506.7 257.5" fill="none" stroke="#161616" stroke-width="1.55" stroke-dasharray="3.2 2.1" stroke-linejoin="round"/>
<path d="M518.3 162.8L515.9 168.7L519.1 175.1L520.1 179.8L513.8 183.0L514.1 187.7L518.0 193.0L519.1 199.3L520.4 205.7L520.7 214.1L521.7 218.3L519.1 225.7L516.4 231.0L515.9 236.3L518.8 241.5L519.6 246.8L524.9 250.5L528.5 257.5" fill="none" stroke="#161616" stroke-width="1.55" stroke-dasharray="3.2 2.1" stroke-linejoin="round"/>
<rect x="550.6" y="252.6" width="16.2" height="1.3" fill="#151515"/>
<text x="559.2" y="248.9" font-size="8.2" text-anchor="middle" fill="#222">200 µm</text>
</g>
<text x="195.2" y="45.6" font-size="16" text-anchor="middle" fill="#222">0 h</text>
<text x="348.2" y="45.6" font-size="16" text-anchor="middle" fill="#222">24 h</text>
<text x="503.6" y="45.6" font-size="16" text-anchor="middle" fill="#222">48 h</text>
<text x="91.2" y="109.5" font-size="16" fill="#222">ctr</text>
<text x="71.4" y="215.4" font-size="16" fill="#222">mimic</text>
<text transform="translate(41.6 37.9) scale(1.1 1.02)" font-size="27.5" font-weight="bold" fill="#222">A</text>
<line x1="777.5" y1="74.4" x2="777.5" y2="219.7" stroke="#000" stroke-width="1.7"/>
<line x1="772.5" y1="218.8" x2="932.8" y2="218.8" stroke="#000" stroke-width="1.7"/>
<line x1="772.5" y1="159.2" x2="777.5" y2="159.2" stroke="#000" stroke-width="1.5"/>
<line x1="772.5" y1="99.1" x2="777.5" y2="99.1" stroke="#000" stroke-width="1.5"/>
<line x1="803.2" y1="218.8" x2="803.2" y2="223.9" stroke="#000" stroke-width="1.5"/>
<line x1="854.6" y1="218.8" x2="854.6" y2="223.9" stroke="#000" stroke-width="1.5"/>
<line x1="906.5" y1="218.8" x2="906.5" y2="223.9" stroke="#000" stroke-width="1.5"/>
<text x="803.2" y="244.8" font-size="16" text-anchor="middle" fill="#222">0 h</text>
<text x="854.6" y="244.8" font-size="16" text-anchor="middle" fill="#222">24 h</text>
<text x="906.5" y="244.8" font-size="16" text-anchor="middle" fill="#222">48 h</text>
<text x="762.6" y="224.4" font-size="16" text-anchor="end" fill="#222">0</text>
<text x="762.6" y="164.6" font-size="16" text-anchor="end" fill="#222">50</text>
<text x="762.6" y="104.8" font-size="16" text-anchor="end" fill="#222">100</text>
<text transform="translate(696.3 152.5) rotate(-90)" font-size="16" text-anchor="middle" fill="#222">remaining scratch area</text>
<text transform="translate(722.6 152.3) rotate(-90)" font-size="16" text-anchor="middle" fill="#222">(0 h = 100%)</text>
<line x1="854.6" y1="111.6" x2="854.6" y2="122.4" stroke="#3a2a2a" stroke-width="0.8"/>
<line x1="851.6" y1="111.6" x2="857.6" y2="111.6" stroke="#3a2a2a" stroke-width="0.8"/>
<line x1="851.6" y1="122.4" x2="857.6" y2="122.4" stroke="#3a2a2a" stroke-width="0.8"/>
<line x1="906.5" y1="122.5" x2="906.5" y2="143.3" stroke="#3a2a2a" stroke-width="0.8"/>
<line x1="903.5" y1="122.5" x2="909.5" y2="122.5" stroke="#3a2a2a" stroke-width="0.8"/>
<line x1="903.5" y1="143.3" x2="909.5" y2="143.3" stroke="#3a2a2a" stroke-width="0.8"/>
<line x1="854.6" y1="121.1" x2="854.6" y2="138.9" stroke="#3a2a2a" stroke-width="0.8"/>
<line x1="851.6" y1="121.1" x2="857.6" y2="121.1" stroke="#3a2a2a" stroke-width="0.8"/>
<line x1="851.6" y1="138.9" x2="857.6" y2="138.9" stroke="#3a2a2a" stroke-width="0.8"/>
<line x1="906.5" y1="128.3" x2="906.5" y2="153.3" stroke="#3a2a2a" stroke-width="0.8"/>
<line x1="903.5" y1="128.3" x2="909.5" y2="128.3" stroke="#3a2a2a" stroke-width="0.8"/>
<line x1="903.5" y1="153.3" x2="909.5" y2="153.3" stroke="#3a2a2a" stroke-width="0.8"/>
<polyline points="803.2,99.4 854.6,117.0 906.5,132.9" fill="none" stroke="#111" stroke-width="1.3" stroke-dasharray="7 4.2" stroke-dashoffset="-2"/>
<polyline points="803.2,99.4 854.6,130.0 906.5,140.8" fill="none" stroke="#111" stroke-width="1.3"/>
<circle cx="803.2" cy="99.4" r="2.8" fill="none" stroke="#222" stroke-width="0.9"/>
<circle cx="854.6" cy="117.0" r="2.8" fill="none" stroke="#222" stroke-width="0.9"/>
<circle cx="906.5" cy="132.9" r="2.8" fill="none" stroke="#222" stroke-width="0.9"/>
<polygon points="800.1,102.0 806.3000000000001,102.0 803.2,96.2" fill="#111"/>
<polygon points="851.5,132.6 857.7,132.6 854.6,126.8" fill="#111"/>
<polygon points="903.4,143.4 909.6,143.4 906.5,137.60000000000002" fill="#111"/>
<line x1="936.6" y1="82.4" x2="954.8" y2="82.4" stroke="#111" stroke-width="1.3" stroke-dasharray="4.2 10"/>
<line x1="942.5" y1="82.4" x2="948.5" y2="82.4" stroke="#111" stroke-width="0.9"/>
<circle cx="945.6" cy="82.4" r="3.0" fill="none" stroke="#111" stroke-width="1.1"/>
<line x1="936.6" y1="99.3" x2="954.8" y2="99.3" stroke="#111" stroke-width="1.3"/>
<polygon points="942.1,102.3 949.3,102.3 945.7,96.0" fill="#111"/>
<text x="962.4" y="87.5" font-size="16" fill="#222">ctr</text>
<text x="961.9" y="104.2" font-size="16" fill="#222">mimic</text>
<rect x="129.4" y="358.9" width="185.6" height="185.7" fill="none" stroke="#b4b4b4" stroke-width="1"/>
<line x1="221.0" y1="361.3" x2="221.0" y2="542.4" stroke="#7d7d7d" stroke-width="0.9"/>
<line x1="131.8" y1="451.6" x2="313.6" y2="451.6" stroke="#7d7d7d" stroke-width="0.9"/>
<line x1="127.5" y1="361.0" x2="127.5" y2="542.6" stroke="#444" stroke-width="1.2"/>
<line x1="130.6" y1="545.8" x2="309.8" y2="545.8" stroke="#444" stroke-width="1.2"/>
<line x1="125.1" y1="538.2" x2="127.5" y2="538.2" stroke="#3a3a3a" stroke-width="1.0"/>
<line x1="125.1" y1="528.6" x2="127.5" y2="528.6" stroke="#3a3a3a" stroke-width="1.0"/>
<line x1="125.1" y1="518.9" x2="127.5" y2="518.9" stroke="#3a3a3a" stroke-width="1.0"/>
<line x1="125.1" y1="509.3" x2="127.5" y2="509.3" stroke="#3a3a3a" stroke-width="1.0"/>
<line x1="122.7" y1="499.7" x2="127.5" y2="499.7" stroke="#3a3a3a" stroke-width="1.0"/>
<line x1="125.1" y1="490.1" x2="127.5" y2="490.1" stroke="#3a3a3a" stroke-width="1.0"/>
<line x1="125.1" y1="480.5" x2="127.5" y2="480.5" stroke="#3a3a3a" stroke-width="1.0"/>
<line x1="125.1" y1="470.8" x2="127.5" y2="470.8" stroke="#3a3a3a" stroke-width="1.0"/>
<line x1="125.1" y1="461.2" x2="127.5" y2="461.2" stroke="#3a3a3a" stroke-width="1.0"/>
<line x1="122.7" y1="451.6" x2="127.5" y2="451.6" stroke="#3a3a3a" stroke-width="1.0"/>
<line x1="125.1" y1="442.0" x2="127.5" y2="442.0" stroke="#3a3a3a" stroke-width="1.0"/>
<line x1="125.1" y1="432.4" x2="127.5" y2="432.4" stroke="#3a3a3a" stroke-width="1.0"/>
<line x1="125.1" y1="422.7" x2="127.5" y2="422.7" stroke="#3a3a3a" stroke-width="1.0"/>
<line x1="125.1" y1="413.1" x2="127.5" y2="413.1" stroke="#3a3a3a" stroke-width="1.0"/>
<line x1="122.7" y1="403.5" x2="127.5" y2="403.5" stroke="#3a3a3a" stroke-width="1.0"/>
<line x1="125.1" y1="393.9" x2="127.5" y2="393.9" stroke="#3a3a3a" stroke-width="1.0"/>
<line x1="125.1" y1="384.3" x2="127.5" y2="384.3" stroke="#3a3a3a" stroke-width="1.0"/>
<line x1="125.1" y1="374.6" x2="127.5" y2="374.6" stroke="#3a3a3a" stroke-width="1.0"/>
<line x1="125.1" y1="365.0" x2="127.5" y2="365.0" stroke="#3a3a3a" stroke-width="1.0"/>
<line x1="137.2" y1="545.8" x2="137.2" y2="548.2" stroke="#3a3a3a" stroke-width="1.0"/>
<line x1="146.5" y1="545.8" x2="146.5" y2="548.2" stroke="#3a3a3a" stroke-width="1.0"/>
<line x1="155.8" y1="545.8" x2="155.8" y2="548.2" stroke="#3a3a3a" stroke-width="1.0"/>
<line x1="165.1" y1="545.8" x2="165.1" y2="548.2" stroke="#3a3a3a" stroke-width="1.0"/>
<line x1="174.4" y1="545.8" x2="174.4" y2="550.6" stroke="#3a3a3a" stroke-width="1.0"/>
<line x1="183.8" y1="545.8" x2="183.8" y2="548.2" stroke="#3a3a3a" stroke-width="1.0"/>
<line x1="193.1" y1="545.8" x2="193.1" y2="548.2" stroke="#3a3a3a" stroke-width="1.0"/>
<line x1="202.4" y1="545.8" x2="202.4" y2="548.2" stroke="#3a3a3a" stroke-width="1.0"/>
<line x1="211.7" y1="545.8" x2="211.7" y2="548.2" stroke="#3a3a3a" stroke-width="1.0"/>
<line x1="221.0" y1="545.8" x2="221.0" y2="550.6" stroke="#3a3a3a" stroke-width="1.0"/>
<line x1="230.3" y1="545.8" x2="230.3" y2="548.2" stroke="#3a3a3a" stroke-width="1.0"/>
<line x1="239.6" y1="545.8" x2="239.6" y2="548.2" stroke="#3a3a3a" stroke-width="1.0"/>
<line x1="248.9" y1="545.8" x2="248.9" y2="548.2" stroke="#3a3a3a" stroke-width="1.0"/>
<line x1="258.2" y1="545.8" x2="258.2" y2="548.2" stroke="#3a3a3a" stroke-width="1.0"/>
<line x1="267.6" y1="545.8" x2="267.6" y2="550.6" stroke="#3a3a3a" stroke-width="1.0"/>
<line x1="276.9" y1="545.8" x2="276.9" y2="548.2" stroke="#3a3a3a" stroke-width="1.0"/>
<line x1="286.2" y1="545.8" x2="286.2" y2="548.2" stroke="#3a3a3a" stroke-width="1.0"/>
<line x1="295.5" y1="545.8" x2="295.5" y2="548.2" stroke="#3a3a3a" stroke-width="1.0"/>
<line x1="304.8" y1="545.8" x2="304.8" y2="548.2" stroke="#3a3a3a" stroke-width="1.0"/>
<text x="112.6" y="408.5" font-size="16" text-anchor="end" fill="#222">50</text>
<text x="267.6" y="573.2" font-size="16" text-anchor="middle" fill="#222">50</text>
<text x="112.6" y="456.6" font-size="16" text-anchor="end" fill="#222">0</text>
<text x="221.0" y="573.2" font-size="16" text-anchor="middle" fill="#222">0</text>
<text x="112.6" y="504.7" font-size="16" text-anchor="end" fill="#222">-50</text>
<text x="172.9" y="573.2" font-size="16" text-anchor="middle" fill="#222">-50</text>
<text x="221.0" y="596.3" font-size="16" text-anchor="middle" fill="#222">x [µm]</text>
<text transform="translate(81.0 447.8) rotate(-90)" font-size="16" text-anchor="middle" fill="#222">y [µm]</text>
<text x="309.4" y="381.2" font-size="18" text-anchor="end" font-weight="bold" fill="#222">ctr</text>
<path d="M216.6 455.2L215.1 455.2L214.2 455.0L212.7 455.0L211.6 455.2L210.1 454.8L209.1 454.9L208.2 455.1L207.0 454.9L206.5 454.8L205.1 454.5L203.9 454.5L202.6 454.5L201.5 454.7L200.6 454.6L199.2 454.5L197.6 454.8L196.1 454.9L194.5 455.0L193.9 455.2L192.7 455.9L192.6 456.6L191.8 457.0L190.7 457.8L189.7 458.5L188.5 459.2L187.7 459.8L187.0 460.4L186.7 461.2L186.0 462.0L185.3 462.7L184.7 463.5L184.1 464.4L183.1 464.8L182.4 465.7L181.8 465.9L181.2 466.4L180.3 467.1L179.3 467.7L178.3 468.1L177.0 468.6L176.2 469.7L175.2 469.9L174.3 470.7L173.4 471.3L172.4 472.0L171.7 472.3L170.4 473.2L169.3 473.7L168.3 473.5L167.1 473.9L166.5 474.4L165.4 474.5L164.2 474.2L163.0 474.3L162.1 474.4L160.9 474.7L159.5 474.5L159.1 474.2L158.2 474.0L156.5 473.6L155.4 473.7L154.6 473.3L153.4 473.4L152.2 472.7L151.1 473.2L150.1 474.1L149.2 474.0L147.9 474.2L147.3 474.6L146.1 475.0L145.7 474.6L144.8 475.9L143.7 476.6M216.6 455.2L215.5 454.7L215.5 455.8L215.4 455.9L213.4 455.2L212.4 454.7L212.2 454.4L212.2 454.4L211.4 454.5L211.1 455.1L210.1 454.8L208.5 455.9L209.1 455.5L208.2 454.3L207.7 454.4L208.7 454.5L207.6 452.5L208.1 452.9L206.3 453.2L204.5 456.0L205.4 455.9L205.0 453.7L204.6 453.8L203.9 452.7L203.8 451.2L202.5 452.3L203.2 451.6L201.4 452.4L201.5 451.8L200.4 451.5L199.0 451.2L199.4 452.0L200.3 452.1L199.7 451.6L199.0 450.8L197.2 451.7L197.7 452.6L198.2 453.0L197.1 453.2L196.2 452.6L194.4 451.8L194.0 452.3L193.2 453.8L192.9 454.6L193.2 454.2L191.2 455.0L191.2 455.2L190.4 455.6L190.3 455.9L190.6 453.8L190.8 452.8L189.9 452.0L190.1 452.2L190.4 450.5L189.5 448.4L188.9 448.6L187.8 448.5L187.4 448.9L186.4 447.9L185.9 447.1L184.7 448.7L185.0 448.7L184.6 449.0L184.1 448.9L183.3 448.1L182.3 449.6L182.1 449.7L181.3 449.9L181.0 449.4L180.6 449.8L179.4 449.3L179.2 450.1L177.8 449.4L178.0 448.0L177.4 448.0L176.6 448.5L177.1 449.1L176.6 449.1L176.2 450.3L175.4 449.8L174.4 449.5L173.6 450.9L174.4 450.8L175.2 451.1L175.9 451.2L176.1 452.2L174.5 451.5L173.6 452.7L174.3 452.3L174.8 452.5L174.1 452.6L173.6 451.8L172.6 451.4L172.9 453.6L174.7 453.9L173.0 454.0L172.0 456.0L171.8 456.5L172.0 456.5L172.4 457.4L170.8 457.5L170.5 458.1L170.4 458.4L170.4 458.6L169.6 460.3L169.8 460.9M143.7 476.6L144.1 476.3L143.0 475.6L143.9 474.1L144.9 473.2L145.3 472.5L145.3 472.9L144.9 473.4L144.4 472.1L145.0 471.2L146.1 470.2L146.4 470.7L147.9 469.1L148.8 470.4L150.2 469.8L150.1 469.1L151.1 468.5L150.8 468.2L151.2 467.9L152.7 467.6L152.2 468.2L151.9 467.7L152.4 467.3L152.3 467.0L154.5 466.5L155.0 467.4L156.1 467.7L157.1 465.8L157.1 466.5L156.7 466.1L157.3 466.5L157.9 465.8L158.1 465.1L158.5 465.0L158.3 463.8L157.9 464.1L159.2 464.3L159.8 464.3L159.6 464.2L158.7 463.5L158.3 463.4L158.1 462.8L158.8 463.4L158.3 462.1L159.1 461.8L160.1 460.6L160.9 459.8L161.3 458.0L162.4 457.9L162.4 458.5L162.4 460.0L163.5 462.4L164.2 461.7L164.7 462.5L165.0 462.3L165.7 461.1L166.1 460.2L165.5 460.4L166.4 460.0L166.1 458.0L167.0 457.9L167.8 457.8L166.9 458.3L166.2 458.7L166.8 459.2L167.5 459.7L167.1 459.7L167.3 459.7L168.1 460.5L169.9 458.7L170.1 459.1L171.7 460.4L169.9 460.9L169.8 460.9M222.0 456.5L222.1 457.5L221.9 457.7L222.3 457.9L222.5 456.7L223.3 457.8L223.8 457.3L224.5 458.0L224.8 458.3L226.4 457.8L226.4 456.8L226.2 456.8L225.8 456.8L227.5 457.1L227.6 459.3L228.0 458.4L228.5 458.3L229.8 458.0L229.1 457.3L229.1 457.2L229.0 457.5L228.5 458.8L229.2 459.4L228.3 459.1L228.7 461.5L228.7 460.5L228.9 460.1L229.0 459.5L228.8 459.6L230.4 459.8L230.5 458.9L231.2 459.2L230.7 458.8L231.2 459.9L232.2 460.4L232.4 461.0L232.9 462.9L232.7 462.5L234.2 462.3L235.4 462.5L237.1 462.4L237.8 462.1L237.3 461.3L239.6 461.9L240.6 462.6L241.6 463.1L241.6 462.3L242.1 461.8L243.4 461.6L243.0 461.5L243.2 462.0L243.3 461.2L243.6 462.5L244.2 462.6L244.8 462.7L246.1 463.7L245.3 464.4L245.8 463.8L248.2 463.4L249.9 463.6L248.7 463.5L249.3 462.8L248.8 462.1L247.6 461.8L248.1 461.0L250.0 460.9L250.3 460.8L250.3 460.3L251.0 460.7L251.2 460.8L250.7 461.3L250.8 461.6L250.7 461.2L251.4 460.4L253.9 460.6L254.3 460.4L255.8 461.9L255.5 461.8L256.3 460.6L256.5 461.0L256.7 459.9L256.4 459.3L257.0 458.9L257.6 461.2L259.5 460.2L260.3 460.1L260.8 459.8L261.3 460.5L261.6 460.1L261.9 459.8L263.5 460.3L262.9 459.6L262.9 460.1L263.6 460.5L264.0 458.6L264.8 459.2L265.3 458.7L265.7 457.2L265.7 456.1L265.5 455.2L265.3 454.9L265.9 453.7L266.6 453.1M222.0 448.5L221.0 446.1L221.0 446.5L221.3 444.3L221.1 444.3L222.8 444.8L223.5 444.4L223.0 443.6L223.2 442.6L223.7 441.9L224.5 442.7L225.4 442.5L225.4 440.8L226.0 440.4L226.5 440.6L226.2 441.2L226.4 441.1L226.6 439.7L228.8 438.7L228.7 439.1L229.7 438.2L230.1 437.0L230.1 437.1L231.8 436.0L230.7 435.7M222.0 448.5L222.4 448.7L222.3 448.8L222.0 448.7L222.7 449.2L223.3 447.7L224.1 446.4L225.0 447.1L225.7 446.1L226.8 445.7L226.0 444.8L227.3 444.0L227.4 443.2L226.1 442.2L227.0 442.2L227.4 441.8L227.8 439.9L229.3 440.4L230.6 441.2L230.8 440.4L231.6 441.5L230.8 440.9L230.8 441.0L232.4 440.5L231.9 440.1L232.2 438.7L233.5 438.4L234.0 439.1L234.8 437.5L235.8 435.9L236.8 434.0L237.8 433.1L236.1 432.6L236.7 432.4L237.2 431.1L237.1 430.7L237.2 427.9L237.4 428.0L238.2 428.5L237.9 429.9L238.7 429.5L239.5 429.6L239.4 428.6L239.9 428.4L238.0 427.2L238.7 427.3L239.5 427.8L240.1 428.8L240.6 430.4L240.7 430.4L241.5 431.2L242.1 431.1M220.7 471.2L221.4 472.9L221.3 474.4L221.8 474.1L221.9 476.3L222.7 476.5L221.1 476.5L220.9 477.1L223.0 478.1L223.4 478.0L222.6 478.4L222.5 481.2L222.8 480.8L224.2 481.0L224.0 481.3L223.6 481.9L223.8 480.5L224.6 480.6L224.8 480.8L225.9 479.8L224.9 477.6L225.4 478.6L226.7 479.5L228.6 479.2L229.4 477.4L228.7 477.9L229.5 478.7L229.8 478.9L229.2 479.5L230.6 479.7L231.2 479.8L231.4 479.6L231.7 480.0L231.8 480.2L230.8 480.5L231.8 482.3L231.4 481.9L231.6 482.9L232.7 483.5L232.1 484.0L231.9 485.0L233.1 485.4L231.7 485.6L232.8 484.5L234.2 484.6L234.7 484.6L234.5 484.7L233.7 484.9L236.0 485.7L235.9 485.7L235.2 485.8L234.3 487.1L234.0 488.3L234.0 489.3L232.6 490.2L232.0 490.8L231.3 490.1L230.7 490.6M205.9 447.1L206.5 446.3L206.0 445.2L205.7 444.5L205.4 444.4L204.4 443.0L204.2 443.4L204.2 442.2L204.1 442.4L203.7 442.6L202.9 442.5L203.1 441.7L201.5 441.7L201.9 441.8L201.5 440.2L200.4 440.7L199.7 440.7L198.1 441.4L198.9 440.9L197.8 439.9L197.9 440.2L196.7 441.2L196.6 440.4L196.7 441.2L194.8 441.5L194.8 440.9L195.1 442.4L195.3 442.2L194.3 443.2L194.5 444.3L194.8 444.3L193.9 442.9L193.9 444.9L193.0 444.5L192.9 444.7L191.3 444.1L191.2 444.4L189.9 446.2L188.7 447.0L189.6 448.4L190.1 449.5L188.6 448.9L187.6 448.4L189.1 446.8L188.9 445.9L189.3 447.1L188.3 448.7L187.9 449.3L187.7 448.5L186.9 448.0L186.9 447.7L188.2 447.3L187.2 446.7L186.1 445.8L185.2 447.1L185.9 447.1L185.7 447.6L185.7 448.9L185.8 450.0L184.8 450.0L184.5 450.5M215.3 448.5L214.4 447.9L213.5 447.1L213.1 446.4L212.6 445.5L213.3 444.7L212.3 444.3L211.2 443.0L211.0 441.2L208.2 440.9L208.9 439.1L208.0 438.9L206.4 437.7L205.7 437.0L204.6 437.2L205.0 437.0L205.2 435.1L205.7 434.1L206.2 433.7L206.3 434.0L207.3 435.1L207.3 435.1L207.1 434.8L208.7 435.0L208.7 434.6L209.0 435.0L209.5 435.0L211.6 433.6L212.0 433.1L211.6 432.2L210.8 433.3L211.5 434.9L210.6 434.4L212.2 435.4L213.5 436.3L214.1 436.3L214.7 437.0L215.3 436.4L215.5 437.2L216.9 436.8L216.4 437.8L216.5 438.3L218.4 439.1L217.5 440.2L217.3 439.8M193.9 464.5L195.3 464.1L194.3 464.5L193.3 466.4L193.2 466.4L193.0 466.0L192.0 466.4L193.3 465.0L193.1 466.4L193.1 468.1L192.9 468.3L192.2 467.7L192.8 466.9L192.2 466.7L191.1 465.3L190.4 465.9L190.2 467.0L189.6 467.0L189.5 468.0L188.5 468.5L187.4 467.8L186.2 469.0L186.6 468.8L186.3 469.9L186.8 469.8L186.1 471.2L187.4 472.6L186.0 472.9L185.1 472.8L184.0 472.4L183.2 472.6L183.0 474.5L183.2 475.3L182.9 475.2L182.4 476.7L182.6 478.6L182.2 478.3L181.2 477.9L180.5 478.6L179.7 480.0L179.8 480.1L179.4 479.8L179.3 480.8L180.1 480.0L179.2 480.0L179.4 479.3L180.4 479.4L181.1 479.1L181.2 479.0L180.5 479.7L181.4 478.6L182.0 479.8L182.8 481.0L183.2 481.0L182.8 480.4L182.0 479.9L182.7 480.5L184.2 480.7L184.0 481.2L184.5 482.6L186.4 482.9L185.4 481.9L185.9 481.3L186.5 480.3L187.3 480.5L188.4 480.2L188.1 479.1L188.5 479.8L190.0 480.0L190.2 479.9L190.8 480.3L191.2 478.6L191.4 478.6L190.5 478.7L189.9 477.9L190.2 477.3L189.1 476.8L189.7 476.2L188.7 476.0L189.6 475.6L190.1 474.8L189.9 474.6L189.9 474.2L192.6 474.2L192.4 472.5L191.9 472.8L191.2 471.9M196.6 475.2L196.6 475.3L195.4 476.0L195.6 476.7L197.2 476.7L198.5 477.0L198.9 477.0L198.9 478.1L200.1 477.3L201.3 476.9L201.9 477.9L201.4 478.6L201.0 479.3L201.7 479.7L202.5 480.3L203.3 480.3L203.9 480.7L204.0 481.0L205.5 480.5L206.1 479.6L206.2 479.2L206.2 478.1L206.5 477.7L207.1 477.8L206.1 478.3L206.3 477.2L206.5 477.2L207.6 476.5L207.9 475.9L208.6 474.5L209.4 474.4L209.6 475.0L211.6 475.7L211.5 476.6L211.8 476.2L211.8 476.2L212.8 476.0L213.1 475.5L213.3 475.9L213.3 475.3L213.6 474.4L214.0 473.2L214.9 473.9L215.3 473.9M215.3 460.5L215.7 461.9L215.6 462.4L216.6 462.0L217.0 462.8L217.6 463.1L219.3 463.2L218.6 462.7L219.9 462.6L219.6 461.3L220.4 462.7L220.1 461.1L221.0 461.1L221.2 461.2L221.0 462.0L222.2 462.5L222.3 463.6L223.3 463.2L223.8 463.9L223.6 464.7L224.7 465.8L225.3 466.2L225.5 466.9L226.7 467.5L226.8 466.2L227.4 466.0L228.0 466.1M208.4 461.1L211.2 462.1L214.3 463.1L211.5 461.0L210.6 462.9L213.2 463.0L215.9 460.2L215.4 464.6L216.4 467.5L210.9 461.7L208.6 464.6L213.3 462.3L210.5 458.9L208.2 460.6L207.6 466.2L209.8 463.6L210.6 462.8L212.8 465.3L211.8 467.6L213.4 466.7L214.0 468.3L213.0 465.6L216.4 465.2L214.6 466.2L210.4 465.8L206.8 464.1L202.2 461.5L205.3 460.7L202.4 465.9L201.3 470.0L200.5 464.8L206.2 463.0L208.6 466.4L205.3 466.1L204.1 467.5L204.6 463.1L205.2 465.1L204.8 466.4L203.8 465.7L205.3 465.7L209.1 468.2L211.6 469.8L212.1 465.5L215.0 470.4L215.4 468.9L215.1 471.9M213.3 452.7L212.8 450.7L212.2 448.4L209.9 453.5L212.9 448.9L210.2 448.1L209.2 444.5L211.8 440.4L213.7 443.6L212.7 442.4L212.8 443.8L207.1 440.9L208.8 441.6L207.9 439.6L206.3 438.4L214.2 435.7L218.2 438.5L218.5 440.3L217.1 446.3L218.2 446.9L217.5 448.2L214.1 447.8L212.3 450.4L213.9 445.1L213.2 448.9L209.7 445.9L212.5 446.2L211.3 443.3L211.8 442.5L212.4 444.7L214.3 444.5L212.8 445.4L212.5 446.7L211.0 446.7L209.5 445.6L210.1 449.9L208.8 452.2L210.0 452.9L211.9 451.5L213.5 452.8L204.0 454.2L206.1 460.4L203.6 460.6L205.1 457.5L208.8 458.9L206.8 455.2M210.0 470.4L216.0 462.1L210.9 463.9L210.7 461.7L212.4 461.7L213.2 462.3L210.2 466.1L209.1 469.1L211.1 468.6L211.6 467.8L206.6 466.2L208.1 460.8L204.3 464.0L207.0 458.9L208.6 458.7L211.5 457.7L210.9 455.4L211.5 455.2L209.7 454.3L207.8 456.5L205.3 451.8L203.1 455.5L202.3 457.6L204.9 456.1L207.4 457.8L207.5 455.6L207.7 451.9L207.2 450.5L208.7 452.0L207.1 455.0L210.7 455.4L208.8 457.1L202.3 455.4L204.5 461.7L202.9 466.2L209.9 471.5L203.6 474.0L204.6 476.2L204.6 473.2L204.4 476.9L207.2 474.9L208.5 476.6L210.3 475.3L208.6 472.0L207.6 469.5L203.6 464.4M216.2 451.9L212.3 452.1L216.3 456.4L214.9 453.3L213.3 450.7L211.7 452.6L208.8 450.6L208.3 450.9L206.4 448.9L203.6 447.1L205.6 447.0L197.4 449.6L198.1 447.4L198.2 438.6L194.5 443.4L201.4 451.0L200.1 451.6L202.9 448.1L208.3 446.5L209.5 443.6L210.6 444.4L213.7 441.6L213.6 448.3L210.2 449.9L211.5 448.9L210.8 453.8L214.0 455.8L214.7 452.4L214.7 458.3L217.5 454.1L211.4 452.2L211.9 450.9L211.1 452.3L213.6 453.3L217.0 449.2L218.0 451.0L213.5 455.3L209.0 451.0L216.6 455.4L217.3 459.8L220.2 456.2L221.1 460.6L220.1 460.7L218.3 462.8L216.4 460.7L212.7 457.6M213.0 460.4L211.9 457.0L212.8 458.1L216.3 456.6L214.9 458.3L219.0 458.1L218.3 455.1L216.9 458.3L219.0 461.7L214.0 464.1L211.3 465.6L204.7 464.8L202.7 468.4L203.6 471.9L202.9 477.2L202.2 482.0L201.4 477.5L204.6 475.0L204.9 469.8L204.3 469.4L202.8 470.0L196.9 472.1L196.7 475.8L196.6 472.7L196.3 472.7L198.9 470.3L197.5 470.9L200.7 464.7L198.4 462.1L204.0 465.8L206.7 466.9L203.9 469.9L203.2 466.6L209.1 461.5L213.2 462.0L210.5 462.3L208.2 462.6L206.7 458.6L214.4 457.0L217.1 456.9L218.7 453.0L215.3 442.9L218.0 445.2L214.3 448.6L215.8 458.4L216.3 461.3M215.0 462.1L214.7 460.5L216.6 464.3L213.0 460.3L212.8 465.8L212.2 460.0L214.5 462.3L219.8 462.6L224.9 460.1L226.6 460.4L222.4 459.4L225.5 462.8L223.7 466.0L225.5 468.4L225.5 468.7L222.4 467.9L222.1 465.0L220.7 465.1L220.8 468.0L217.4 466.1L217.9 464.5L218.4 462.6L221.4 461.6L217.6 463.8L222.0 457.3L221.0 457.6L223.4 462.4L222.3 457.2L223.6 460.4L224.2 460.5L221.2 468.1L217.3 462.7L219.7 463.4L221.2 464.2L225.3 468.3L223.0 470.9L219.1 464.7L222.0 463.0L215.4 462.6L213.4 464.0L213.2 461.2L211.1 463.4L208.6 463.5L206.0 464.6L211.4 466.0L214.6 467.0M207.3 456.2L207.8 457.7L206.4 459.7L204.7 459.8L205.2 456.1L208.4 456.4L208.9 456.4L203.2 452.1L201.3 455.6L200.3 457.6L198.2 455.0L197.7 458.5L193.9 458.0L196.2 458.4L197.1 460.8L198.8 457.5L201.4 455.1L201.1 459.8L208.6 464.3L210.0 461.5L208.0 466.5L209.2 461.7L213.8 463.3L217.4 464.3L211.0 461.6L210.7 460.9L215.0 458.6L214.6 458.4L214.2 455.1L210.7 447.2L211.7 447.2L212.3 444.6L212.3 442.3L209.5 444.3L211.4 447.0L211.3 446.4L215.3 451.1L213.3 448.1L214.3 449.7L211.6 457.3L205.8 454.8L206.9 458.1L202.0 456.7L206.7 461.2L206.3 461.2L204.2 462.2M206.9 446.8L203.0 447.7L199.9 451.8L204.2 455.3L206.5 459.0L207.6 461.7L209.2 463.9L206.5 461.5L204.1 463.9L206.0 461.1L203.6 459.1L206.6 458.7L206.2 456.5L206.2 461.6L204.7 460.3L209.9 462.4L206.8 465.6L203.6 466.9L197.1 463.3L200.6 461.1L199.3 461.1L200.0 459.4L198.9 465.0L203.9 465.6L201.2 463.5L201.0 464.7L206.2 462.7L206.9 461.1L207.7 458.8L209.0 462.4L208.1 461.1L208.7 456.8L213.9 452.7L212.8 450.2L217.0 449.2L215.3 455.6L214.8 453.4L214.6 454.3L212.4 453.9L211.8 456.5L214.0 459.2L213.5 461.6L212.9 465.1L214.0 463.3L217.3 458.3L214.3 455.8M211.4 451.2L208.1 445.7L208.6 444.0L215.0 447.3L211.6 452.1L212.0 455.9L208.9 459.6L212.2 458.2L209.8 457.1L210.7 464.7L215.8 469.0L215.0 467.3L215.9 465.9L214.4 464.8L216.6 464.2L217.0 463.0L216.2 461.7L219.5 462.2L223.2 461.4L225.5 456.9L223.6 456.8L221.2 456.5L218.0 456.1L215.8 456.2L214.8 453.2L213.5 453.6L209.9 454.2L213.5 453.7L215.0 455.9L212.6 460.2L219.6 456.9L225.1 454.7L228.4 449.3L230.6 450.2L226.0 448.1L222.2 445.9L222.7 446.1L215.1 445.9L216.2 446.9L220.7 441.8L220.9 442.9L222.4 439.6L218.1 440.2L218.0 435.6L218.6 436.9L220.3 430.0M214.4 453.0L213.0 455.8L217.6 456.4L217.0 460.6L214.2 460.0L212.7 456.8L213.2 463.3L213.9 464.6L213.7 467.7L214.1 464.4L214.3 468.5L213.9 471.7L213.6 477.2L214.3 478.1L213.4 479.5L212.7 473.6L213.5 468.9L217.6 470.8L217.3 472.2L209.8 476.1L208.1 477.2L215.5 471.0L214.2 471.3L215.2 465.2L212.5 469.4L210.8 470.5L207.0 466.9L202.3 467.2L206.1 467.0L205.7 467.2L207.4 465.8L209.3 471.4L215.6 468.9L211.9 474.2L214.7 477.1L216.2 475.2L218.7 477.7L221.6 473.2L223.9 471.2L222.2 471.5L220.7 478.0L221.7 477.6L220.7 477.3L219.5 477.9L221.5 479.4L217.4 477.1M212.7 455.2L213.3 455.2L213.3 456.3L212.3 459.6L214.0 458.5L214.6 460.0L213.2 459.2L214.3 454.0L212.1 455.1L213.1 453.5L214.5 458.4L214.6 458.4L214.6 456.4L215.3 457.0L216.3 460.0L216.1 460.3L216.3 463.7L213.7 463.4L212.6 463.3L214.0 463.1L215.0 463.1L213.7 461.5L211.4 461.8L210.9 463.2L212.6 461.1L210.8 462.2L209.6 462.4L210.8 461.3L213.8 459.6L214.4 458.7L209.6 458.4L209.6 459.6L209.7 458.1L209.1 457.6L210.6 457.2L212.7 459.0L211.5 461.1L208.0 461.0L206.8 460.7L209.1 460.5L209.1 463.0M210.7 456.4L212.4 457.8L210.1 458.2L211.6 458.0L211.0 458.3L211.5 457.0L212.9 454.0L212.8 458.7L211.1 458.7L207.6 457.0L206.1 457.3L205.9 461.2L204.9 460.9L205.9 462.1L207.9 458.7L211.8 458.1L210.7 454.9L210.1 451.7L210.6 451.1L211.3 450.1L211.6 455.3L213.5 455.9L211.9 459.1L209.2 456.3L211.6 455.3L213.8 456.8L217.2 460.5L217.8 459.1L218.3 461.9L218.1 455.9L217.1 455.4L216.6 455.0L218.1 452.8L218.4 449.3L214.4 448.0L213.1 447.1L211.9 449.3L212.9 450.2L213.2 449.5L211.6 447.4L211.0 446.1" fill="none" stroke="#000" stroke-width="0.55" stroke-linejoin="round"/>
<circle cx="169.8" cy="460.9" r="1.75" fill="#000"/>
<circle cx="266.6" cy="453.1" r="1.75" fill="#000"/>
<circle cx="238.7" cy="427.3" r="1.75" fill="#000"/>
<circle cx="230.7" cy="435.7" r="1.75" fill="#000"/>
<circle cx="217.3" cy="439.8" r="1.75" fill="#000"/>
<circle cx="224.0" cy="481.3" r="1.75" fill="#000"/>
<circle cx="228.0" cy="466.1" r="1.75" fill="#000"/>
<circle cx="191.2" cy="471.9" r="1.75" fill="#000"/>
<circle cx="207.9" cy="475.9" r="1.75" fill="#000"/>
<circle cx="205.3" cy="469.9" r="1.75" fill="#000"/>
<circle cx="205.9" cy="455.2" r="1.75" fill="#000"/>
<circle cx="222.0" cy="455.2" r="1.75" fill="#000"/>
<circle cx="194.6" cy="463.9" r="1.75" fill="#000"/>
<rect x="391.3" y="358.5" width="183.1" height="186.1" fill="none" stroke="#b4b4b4" stroke-width="1"/>
<line x1="482.8" y1="360.9" x2="482.8" y2="542.4" stroke="#7d7d7d" stroke-width="0.9"/>
<line x1="393.7" y1="451.9" x2="573.0" y2="451.9" stroke="#7d7d7d" stroke-width="0.9"/>
<line x1="389.5" y1="361.6" x2="389.5" y2="543.2" stroke="#444" stroke-width="1.2"/>
<line x1="392.1" y1="546.6" x2="571.9" y2="546.6" stroke="#444" stroke-width="1.2"/>
<line x1="387.1" y1="538.6" x2="389.5" y2="538.6" stroke="#3a3a3a" stroke-width="1.0"/>
<line x1="387.1" y1="529.0" x2="389.5" y2="529.0" stroke="#3a3a3a" stroke-width="1.0"/>
<line x1="387.1" y1="519.3" x2="389.5" y2="519.3" stroke="#3a3a3a" stroke-width="1.0"/>
<line x1="387.1" y1="509.7" x2="389.5" y2="509.7" stroke="#3a3a3a" stroke-width="1.0"/>
<line x1="384.7" y1="500.1" x2="389.5" y2="500.1" stroke="#3a3a3a" stroke-width="1.0"/>
<line x1="387.1" y1="490.5" x2="389.5" y2="490.5" stroke="#3a3a3a" stroke-width="1.0"/>
<line x1="387.1" y1="480.9" x2="389.5" y2="480.9" stroke="#3a3a3a" stroke-width="1.0"/>
<line x1="387.1" y1="471.2" x2="389.5" y2="471.2" stroke="#3a3a3a" stroke-width="1.0"/>
<line x1="387.1" y1="461.6" x2="389.5" y2="461.6" stroke="#3a3a3a" stroke-width="1.0"/>
<line x1="384.7" y1="452.0" x2="389.5" y2="452.0" stroke="#3a3a3a" stroke-width="1.0"/>
<line x1="387.1" y1="442.4" x2="389.5" y2="442.4" stroke="#3a3a3a" stroke-width="1.0"/>
<line x1="387.1" y1="432.8" x2="389.5" y2="432.8" stroke="#3a3a3a" stroke-width="1.0"/>
<line x1="387.1" y1="423.1" x2="389.5" y2="423.1" stroke="#3a3a3a" stroke-width="1.0"/>
<line x1="387.1" y1="413.5" x2="389.5" y2="413.5" stroke="#3a3a3a" stroke-width="1.0"/>
<line x1="384.7" y1="403.9" x2="389.5" y2="403.9" stroke="#3a3a3a" stroke-width="1.0"/>
<line x1="387.1" y1="394.3" x2="389.5" y2="394.3" stroke="#3a3a3a" stroke-width="1.0"/>
<line x1="387.1" y1="384.7" x2="389.5" y2="384.7" stroke="#3a3a3a" stroke-width="1.0"/>
<line x1="387.1" y1="375.0" x2="389.5" y2="375.0" stroke="#3a3a3a" stroke-width="1.0"/>
<line x1="387.1" y1="365.4" x2="389.5" y2="365.4" stroke="#3a3a3a" stroke-width="1.0"/>
<line x1="398.6" y1="546.6" x2="398.6" y2="549.0" stroke="#3a3a3a" stroke-width="1.0"/>
<line x1="407.9" y1="546.6" x2="407.9" y2="549.0" stroke="#3a3a3a" stroke-width="1.0"/>
<line x1="417.3" y1="546.6" x2="417.3" y2="549.0" stroke="#3a3a3a" stroke-width="1.0"/>
<line x1="426.6" y1="546.6" x2="426.6" y2="549.0" stroke="#3a3a3a" stroke-width="1.0"/>
<line x1="436.0" y1="546.6" x2="436.0" y2="551.4" stroke="#3a3a3a" stroke-width="1.0"/>
<line x1="445.4" y1="546.6" x2="445.4" y2="549.0" stroke="#3a3a3a" stroke-width="1.0"/>
<line x1="454.7" y1="546.6" x2="454.7" y2="549.0" stroke="#3a3a3a" stroke-width="1.0"/>
<line x1="464.1" y1="546.6" x2="464.1" y2="549.0" stroke="#3a3a3a" stroke-width="1.0"/>
<line x1="473.4" y1="546.6" x2="473.4" y2="549.0" stroke="#3a3a3a" stroke-width="1.0"/>
<line x1="482.8" y1="546.6" x2="482.8" y2="551.4" stroke="#3a3a3a" stroke-width="1.0"/>
<line x1="492.2" y1="546.6" x2="492.2" y2="549.0" stroke="#3a3a3a" stroke-width="1.0"/>
<line x1="501.5" y1="546.6" x2="501.5" y2="549.0" stroke="#3a3a3a" stroke-width="1.0"/>
<line x1="510.9" y1="546.6" x2="510.9" y2="549.0" stroke="#3a3a3a" stroke-width="1.0"/>
<line x1="520.2" y1="546.6" x2="520.2" y2="549.0" stroke="#3a3a3a" stroke-width="1.0"/>
<line x1="529.6" y1="546.6" x2="529.6" y2="551.4" stroke="#3a3a3a" stroke-width="1.0"/>
<line x1="539.0" y1="546.6" x2="539.0" y2="549.0" stroke="#3a3a3a" stroke-width="1.0"/>
<line x1="548.3" y1="546.6" x2="548.3" y2="549.0" stroke="#3a3a3a" stroke-width="1.0"/>
<line x1="557.7" y1="546.6" x2="557.7" y2="549.0" stroke="#3a3a3a" stroke-width="1.0"/>
<line x1="567.0" y1="546.6" x2="567.0" y2="549.0" stroke="#3a3a3a" stroke-width="1.0"/>
<text x="375.2" y="408.9" font-size="16" text-anchor="end" fill="#222">50</text>
<text x="529.6" y="573.2" font-size="16" text-anchor="middle" fill="#222">50</text>
<text x="375.2" y="457.0" font-size="16" text-anchor="end" fill="#222">0</text>
<text x="482.8" y="573.2" font-size="16" text-anchor="middle" fill="#222">0</text>
<text x="375.2" y="505.1" font-size="16" text-anchor="end" fill="#222">-50</text>
<text x="434.5" y="573.2" font-size="16" text-anchor="middle" fill="#222">-50</text>
<text x="482.8" y="596.3" font-size="16" text-anchor="middle" fill="#222">x [µm]</text>
<text transform="translate(343.4 448.4) rotate(-90)" font-size="16" text-anchor="middle" fill="#222">y [µm]</text>
<text x="568.8" y="381.2" font-size="18" text-anchor="end" font-weight="bold" fill="#222">mimic</text>
<path d="M482.5 451.2L481.7 451.5L481.6 452.2L480.4 450.4L479.0 451.6L479.0 450.9L479.5 450.4L480.1 449.9L479.2 450.2L477.8 449.9L478.6 450.0L477.3 449.6L476.7 448.8L476.4 449.7L476.0 449.9L475.8 449.5L475.1 448.7L474.0 449.2L474.3 448.7L473.1 448.9L472.7 449.5L472.5 449.2L470.9 449.4L470.5 448.2L468.9 446.7L468.7 446.3L465.8 445.7L465.9 446.4L464.8 446.2L464.3 445.9L464.2 446.6L463.5 447.5L462.8 446.7L462.3 445.5L461.5 444.7L460.6 445.0L458.3 445.3L457.9 445.2L457.5 444.8L457.4 444.8L456.6 443.9L456.6 444.3L455.0 443.6L454.4 443.5L453.0 444.3L452.0 443.5L452.7 444.3L452.2 444.6L451.5 444.6L451.0 444.7L451.2 444.5L450.5 444.1L451.4 443.3L450.0 443.0L448.7 444.5L449.0 444.3L449.0 445.1L448.1 444.5L446.8 444.8L446.9 445.4L446.8 444.1L446.4 444.1L446.0 443.7L445.8 442.6L445.8 443.3L445.3 443.0L446.3 442.1L445.6 442.7L447.3 442.1L446.5 442.1L446.8 441.0L447.5 440.6L446.9 438.5L445.8 437.3L444.7 437.2L443.2 437.4L442.8 438.3L440.6 437.3L440.3 437.7L441.3 437.3L441.2 436.1L441.7 435.9L441.8 436.0L440.4 437.8L441.5 439.3L442.9 439.4L444.0 437.8L444.1 438.4L443.7 438.5L443.9 436.9L444.4 435.6L444.9 436.6L444.6 435.9L445.5 435.6L446.2 434.7L447.0 434.9M482.5 451.2L481.7 449.5L480.9 450.5L479.5 450.4L479.4 451.4L479.6 450.8L478.7 452.1L477.8 452.2L476.6 451.8L473.9 451.4L471.7 450.7L470.4 451.8L470.3 452.1L469.4 451.1L469.1 450.7L468.5 451.6L467.7 451.7L466.4 452.5L465.9 452.1L465.7 452.5L466.2 451.2L465.6 451.7L465.2 451.8L464.9 450.6L464.3 451.5L463.6 451.3L463.6 450.0L463.3 451.1L462.5 450.5L462.2 450.2L461.0 450.4L459.2 451.0L457.8 450.6L457.9 451.0L457.8 450.9L457.3 451.8L457.8 453.1L456.9 453.4L455.2 453.6L455.7 452.6L455.6 452.8L455.0 452.0L455.5 450.7L455.0 451.3L454.6 452.2L455.2 452.1L455.9 452.3L454.5 451.7L454.2 451.5L452.5 452.8L451.4 451.3L452.2 451.1L452.7 450.4M482.5 451.2L481.9 452.0L481.0 452.8L479.8 453.2L478.7 454.1L477.7 455.1L476.5 455.9L475.5 456.6L475.1 456.7L474.2 457.6L473.3 458.7L472.4 459.7L471.6 460.3L470.6 461.1L470.0 461.7L469.0 462.3L468.2 463.1L468.2 463.6L467.0 464.3L465.7 464.9L464.4 465.5L463.5 465.7L462.5 466.4L461.5 467.2L460.6 467.6L460.2 468.2L459.2 469.1L458.6 469.6L457.6 470.1L456.7 470.7L455.7 471.8L455.4 472.2L455.0 472.9L454.4 473.3L453.8 474.3L453.2 475.1L452.2 476.0L451.5 476.6L450.8 477.5L449.8 478.5L448.8 479.1L447.9 479.9L446.8 480.4L445.3 480.8L444.1 481.8L444.1 481.9L442.7 482.0L441.6 482.5L440.7 482.5L439.6 483.1L438.4 483.1L437.0 483.2L435.5 483.2L434.5 483.4L433.2 483.7L432.9 484.7L433.1 486.1L432.5 487.7L432.6 487.7M468.2 463.6L467.5 463.9L466.8 464.0L466.9 463.5L466.6 463.7L467.5 464.5L467.4 465.4L467.4 465.9L465.3 466.6L464.7 467.6L464.6 467.7L463.6 467.5L463.5 467.9L462.6 468.2L462.6 468.2L462.2 468.4L460.2 469.0L460.2 470.1L461.1 470.2L461.4 471.0L461.2 472.1L461.5 471.7L462.2 472.1L461.3 472.0L460.8 471.7L461.4 472.6L460.4 473.6L460.2 473.9L460.0 474.5L460.3 474.9L459.8 475.7L458.1 475.4L458.3 476.7L456.8 477.2L456.3 477.6L456.8 479.2L456.7 479.7L457.5 480.7L457.4 481.1L455.5 481.6L454.2 481.1L454.1 480.6L455.3 481.6L455.0 482.2L454.6 482.4L453.8 482.5L453.9 482.5L453.7 483.0L453.7 482.6L453.5 482.9L453.5 483.7L453.1 484.3L452.1 484.2L452.9 485.6L453.5 486.4L453.4 486.5L454.4 487.5L455.6 487.7L454.6 488.2L454.3 488.8L453.8 489.1L453.7 489.8L454.3 489.8L453.5 490.9L453.8 491.4L452.8 492.7L453.3 493.4L452.6 494.8L453.0 495.2L453.1 496.4L453.4 495.7L453.0 494.8L453.5 496.0L454.4 495.6L455.9 497.5L455.4 496.5L454.6 497.8L455.9 498.0L454.2 497.7L455.6 498.3L454.1 497.2L454.7 498.3L454.4 499.2L454.2 499.6L454.5 499.9L454.2 500.1L454.0 501.5L454.6 502.7L456.3 501.5L456.1 502.8L455.6 503.7L455.0 503.8L455.0 503.9L454.1 504.2L453.8 504.7L454.2 505.3L453.5 507.9L452.8 507.9L452.1 508.3L451.5 507.5L449.8 507.4L449.3 506.6M468.2 463.6L468.9 462.8L468.0 463.6L467.2 464.5L466.9 464.2L466.5 464.4L466.6 463.2L466.6 464.6L466.5 465.3L465.8 466.1L465.4 465.7L464.3 464.6L464.5 465.3L465.0 466.1L465.3 465.7L463.7 465.8L463.3 466.7L463.1 467.1L463.0 467.9L463.0 468.7L462.5 469.2L461.3 469.0L461.1 469.9L460.6 469.5L461.3 469.5L460.1 469.4L459.4 468.3L459.3 470.0L459.0 470.0L460.0 470.6L460.1 472.1L459.5 472.6L460.2 473.2L459.7 473.1L461.3 473.5L461.1 474.8L461.3 475.1L460.2 475.6L459.2 477.1L458.9 477.6L458.7 478.2L459.3 478.6L459.5 479.1L459.8 479.2L460.7 480.1L460.2 479.8L460.1 480.4L459.7 481.8L460.3 482.0L461.5 481.6L462.3 482.1L463.7 481.5L463.6 482.5L464.3 483.5L464.1 484.7L463.4 484.8L462.4 485.4L463.4 485.6L464.5 487.1L464.9 487.7L465.3 488.8L465.1 488.7L466.3 488.6L466.5 489.4L465.9 489.5L465.6 491.6L466.2 493.0L467.0 493.4L468.8 494.6L469.9 494.9L469.2 496.4L469.3 496.3M482.5 451.2L483.7 451.1L484.5 451.9L485.1 453.2L486.3 453.3L486.1 454.8L485.7 455.7L485.4 455.1L484.9 456.3L484.3 455.8L484.0 456.5L484.4 457.3L484.7 457.2L484.2 457.2L483.9 458.2L484.2 459.0L485.8 459.0L487.1 460.1L486.8 459.7L487.5 458.9L489.4 458.0L488.8 459.1L488.7 460.0L488.6 461.0L488.8 461.6L490.1 460.5L490.0 459.7L489.6 460.8L490.1 461.6L491.1 461.3L492.7 462.3L493.7 462.3L494.0 462.8L495.2 463.9L496.0 463.8L496.5 465.3L497.3 466.5L497.0 466.6L497.5 466.6L497.1 466.3L497.4 465.6L498.0 464.7L497.7 464.1L498.0 464.9L498.7 465.4L499.4 464.8L500.7 465.2L500.6 465.3L501.7 465.9L501.0 467.8L500.6 469.2L501.8 468.6L503.3 469.6L504.6 470.0L504.9 469.3L504.8 470.0L504.0 470.6L504.6 471.1L505.5 470.4L505.1 469.8L503.5 470.5L503.0 470.6L502.0 471.0L500.6 471.4L500.2 471.2L500.6 470.5L500.9 471.3L501.2 472.0L501.6 472.4L500.6 473.3L500.0 473.6L500.2 473.6L501.0 473.2L501.7 473.7L502.4 475.0L502.3 475.2L501.8 474.3L501.0 473.9L500.2 474.4L500.3 475.1L500.4 475.1L500.8 474.7L501.7 475.0L501.4 474.7L504.1 474.6L505.0 473.9L506.3 475.0L507.1 474.5L507.2 473.9L507.7 473.0L508.6 473.2L509.2 474.0L509.8 476.0L510.9 475.9L511.7 476.9L511.8 477.4L512.3 478.1L512.6 476.5L512.4 476.5L512.3 476.4L511.8 476.4L512.2 475.6L512.4 475.2L513.7 475.3L514.1 475.2L515.3 475.4L517.1 474.6L517.5 473.9L518.4 474.6L518.2 475.6L519.2 476.8L519.8 476.7L520.1 477.6L521.4 478.3L521.1 479.8L520.4 479.1L519.9 478.6L519.5 479.1L519.1 477.8L518.2 478.4L517.2 478.9L516.8 478.1L516.8 476.5L514.8 475.6L515.0 476.0L515.1 476.5L514.8 476.5L514.1 477.4L513.2 478.1L513.2 477.0L513.1 478.5L513.1 477.6L513.1 477.7L512.3 478.3L512.7 477.6L512.2 477.2L511.2 477.4M484.2 459.0L484.3 460.7L484.0 461.8L484.2 462.4L483.5 463.5L482.9 464.6L483.3 465.2L484.2 465.9L484.3 465.8L484.0 466.3L484.4 467.0L484.6 468.0L485.2 468.5L485.5 468.9L486.5 468.8L486.1 469.6L486.9 470.0L487.5 469.5L487.2 470.0L487.6 469.6L488.3 468.8L489.3 468.7L488.8 468.6L487.9 469.1L486.9 469.4L487.4 469.7L487.8 469.2L486.8 468.9L487.9 469.6L486.9 471.3L488.0 472.2L488.8 471.6L489.3 473.1L487.8 473.6L487.0 475.5L486.5 476.2M475.1 463.6L475.5 464.2L475.2 463.4L475.2 463.4L476.0 464.5L475.8 464.8L476.4 465.1L476.9 465.8L476.4 466.6L477.3 466.0L477.5 467.0L476.9 468.5L476.9 469.2L475.7 469.9L474.3 470.4L473.9 470.5L475.9 470.3L477.3 470.1L477.5 471.2L476.7 472.0L476.6 472.1L477.5 472.5L478.1 473.1L478.6 474.8L478.5 474.5M483.1 465.9L483.2 466.3L483.2 467.4L483.6 466.6L483.5 467.5L485.3 467.7L485.0 467.5L484.9 466.9L484.2 467.5L483.1 467.9L482.7 469.4L483.8 471.5L483.9 472.6L485.4 472.7L486.4 472.7L486.8 472.1L486.2 472.5L485.7 471.7L485.6 472.0L486.4 473.0L484.5 473.6L485.1 474.1L484.3 473.7L483.9 473.6L483.6 474.0L484.4 474.0L484.4 473.8L484.4 475.1L483.8 474.8L483.7 475.4L483.1 476.3L483.1 477.4L483.3 478.4L482.5 479.6L483.6 479.6L485.1 480.3L484.1 480.2L483.6 480.4L483.6 481.2L483.7 481.5L483.2 480.7L483.0 480.4L483.9 479.3L484.8 477.9L484.6 478.6L483.8 478.5L484.5 478.4L484.4 479.0L484.8 478.8L485.7 479.3L486.2 478.9L486.7 479.4L487.0 479.5L487.2 480.0L485.5 482.2L484.6 482.9L484.2 483.1L483.8 483.3L483.2 484.4L483.5 485.6L481.8 486.3L481.9 486.0L481.5 487.6L482.4 488.2L483.0 488.2L483.1 489.4L483.4 489.9L483.4 489.5L483.7 489.2L483.9 489.4L484.9 488.0L485.1 486.9L486.5 485.9L487.4 485.9L488.0 484.5L489.8 484.6L490.8 485.6L491.1 485.4L491.0 485.0L492.7 486.7L492.7 486.8L494.0 486.9L495.5 487.6L495.7 487.7L496.2 487.9L496.4 488.5L496.5 489.1L498.7 487.4L500.2 486.0L500.3 485.4L500.5 486.1L501.4 486.0L501.8 485.6L502.2 484.9L502.0 483.4L503.2 482.9L504.3 482.9L504.2 481.7L503.5 481.5L502.9 481.1L502.0 480.8M491.1 485.4L489.2 485.6L489.0 485.9L488.8 485.4L488.2 487.1L487.8 487.3L487.6 487.7L487.7 489.5L487.5 490.2L487.6 490.1L489.8 489.7L489.4 487.3L489.0 487.7L488.8 488.8L489.5 489.0L489.4 488.4L490.6 488.2L491.2 488.8L491.9 488.9L491.8 488.9L491.2 490.2L491.3 491.3L491.5 491.0L493.1 491.0L493.8 490.6L494.2 489.9L494.2 488.5L494.8 488.0L496.4 489.7L498.3 488.6L498.0 488.8L498.4 488.7L497.9 489.7L499.0 489.7L500.9 489.8L500.9 489.5L500.9 489.3L501.5 488.3L500.9 489.1L501.2 489.3L501.4 489.6L500.6 490.5L501.1 492.1L501.7 493.0L502.3 493.0L502.0 492.8L502.3 491.2L502.6 491.1L503.3 492.2L503.7 493.4L505.2 494.0L505.5 493.4M465.9 465.9L465.5 466.6L466.5 468.3L467.0 467.6L465.1 469.4L465.4 470.9L465.5 471.2L465.4 471.6L466.0 472.5L464.7 472.1L465.0 473.1L464.6 473.2L463.6 472.8L463.2 472.6L464.1 471.7L464.9 472.6L465.8 473.7L467.6 474.4L467.4 473.7L466.1 474.4L467.2 473.6L467.7 473.7L467.8 474.5L468.2 474.2L468.9 474.7L467.8 475.9L469.3 476.1L470.5 475.6L470.0 477.1L469.3 477.4L470.9 477.5L472.2 477.0L473.2 477.4L474.3 477.2L475.1 477.0L475.6 475.4L475.1 475.1M472.3 450.7L471.3 451.2L472.0 448.4L470.7 449.5L469.7 450.0L470.4 450.9L469.1 451.7L470.8 449.0L472.9 447.0L473.8 449.1L475.4 446.7L472.8 444.4L474.2 445.5L469.4 448.0L472.6 447.3L472.4 448.4L469.7 447.9L471.3 447.6L471.3 448.4L475.8 449.6L476.5 448.8L479.4 449.5L478.9 453.1L482.0 451.1L480.6 454.5L478.8 458.5L478.0 463.1L475.1 458.0L471.1 462.8L469.2 461.3L467.9 459.3L468.5 459.4L467.1 458.0L470.9 460.2L473.5 463.0L472.9 464.8L477.1 462.3L480.4 456.0L474.9 452.4L472.1 450.3L470.8 452.7L468.9 452.0L465.7 448.4L465.6 447.1L468.2 447.9L463.7 450.2M464.1 452.9L461.8 451.1L460.8 448.5L459.6 448.3L462.1 450.5L467.3 446.9L466.5 450.4L463.9 450.3L466.2 454.4L468.0 455.3L467.8 456.9L468.2 457.7L466.7 457.2L464.7 454.5L462.8 452.5L461.6 451.3L458.2 452.4L459.8 456.3L454.3 452.9L452.7 450.9L454.0 449.1L453.0 451.3L453.6 447.6L457.1 453.6L460.8 453.3L464.9 453.3L464.4 454.0L468.1 454.4L467.5 451.1L468.2 448.8L468.1 445.8L466.0 444.0L464.5 442.0L468.1 444.7L467.4 442.8L470.4 443.0L471.9 446.2L470.8 447.8L471.9 447.2L471.4 446.2L462.5 445.8L467.3 448.9L474.6 449.5L476.6 448.3L474.3 446.6L475.3 449.1M460.9 457.5L463.8 459.3L460.9 459.5L462.3 456.1L459.9 461.4L458.8 459.8L454.4 458.1L458.9 458.9L457.4 458.7L459.1 460.0L457.2 460.6L456.3 459.1L454.9 456.9L457.1 452.6L458.4 459.3L456.8 458.4L457.5 462.0L454.5 463.0L455.2 467.3L455.6 471.4L454.0 471.3L452.1 468.9L450.0 467.1L455.2 465.1L462.5 468.4L463.8 467.6L465.0 465.1L466.8 464.7L462.0 464.2L464.0 463.8L465.1 463.3L464.2 465.4L468.2 464.0L470.4 460.9L473.6 458.6L473.5 460.7L472.0 460.4L474.5 458.8L475.1 461.2L475.5 459.0L474.1 458.2L473.9 459.5L469.7 459.1L470.2 462.4L466.5 459.9L469.0 459.5M474.3 454.3L472.4 454.2L475.4 456.0L475.6 456.3L478.0 457.7L478.2 459.3L477.9 456.4L479.8 459.2L482.8 458.8L478.9 459.6L476.9 454.8L476.9 453.0L476.7 452.0L478.4 454.2L479.2 457.1L477.2 462.6L472.4 463.9L474.9 462.4L474.9 459.2L473.5 459.6L470.1 454.7L469.2 452.7L466.8 452.5L463.4 455.2L466.8 455.3L465.5 455.1L465.5 453.3L464.1 454.4L462.2 452.9L461.5 450.6L462.6 447.9L465.4 450.0L465.6 452.3L468.7 451.5L468.6 450.3L467.7 449.7L468.1 451.2L473.8 452.2L475.9 451.8L479.7 452.3L478.7 451.8L478.2 451.0L478.2 455.4L477.9 453.6L472.7 453.4L470.0 451.7M470.0 455.9L471.2 458.5L468.7 456.7L466.5 454.2L465.1 452.3L467.1 449.9L472.7 445.3L474.6 442.2L473.1 440.1L472.9 442.1L471.6 441.3L469.0 440.1L466.9 439.3L467.2 442.3L465.5 438.2L464.8 441.1L462.5 442.7L459.9 440.4L461.0 436.9L460.5 431.5L458.3 433.7L457.7 433.3L459.7 432.3L457.3 432.6L457.8 434.2L457.9 438.1L460.0 438.7L466.2 435.9L467.0 435.1L472.4 436.9L474.2 438.8L477.5 438.4L479.2 435.2L480.0 439.0L481.5 441.2L475.9 442.1L474.6 446.3L475.5 448.3L478.4 449.8L474.3 448.1L468.7 451.2L468.1 448.3L469.3 447.6L468.5 451.0L463.3 447.6L463.3 447.4M474.1 452.8L475.0 456.8L471.1 453.3L469.1 452.7L466.3 453.3L464.4 456.0L465.9 457.4L466.5 457.6L462.5 456.8L458.3 459.6L456.0 457.1L455.6 462.0L453.5 465.3L454.7 470.7L454.9 468.3L455.6 466.1L454.5 466.9L454.2 468.2L456.5 469.4L461.1 470.9L459.1 473.0L453.4 474.7L457.3 470.9L461.1 465.4L464.0 463.7L463.5 462.6L462.4 463.7L462.6 463.0L463.0 461.5L460.7 462.4L463.2 459.0L465.9 461.6L466.5 464.5L461.1 467.1L459.6 466.9L457.8 471.8L457.4 472.3L454.3 470.4L456.2 469.1L455.0 471.6L451.9 470.7L452.4 468.8L454.9 468.4L455.3 469.0L455.8 469.3L459.7 468.9M469.5 451.9L472.9 454.3L474.0 454.9L471.5 455.0L472.1 452.2L469.4 452.0L474.1 452.9L470.1 455.9L472.2 457.4L470.6 456.9L476.0 459.3L487.0 454.6L481.9 453.5L478.8 451.9L480.0 455.1L475.7 456.4L477.4 456.8L480.2 459.3L477.5 459.3L477.6 456.1L476.5 458.4L476.9 458.1L483.0 459.3L484.5 456.9L486.6 455.7L485.0 454.6L480.8 455.9L476.9 457.7L474.4 460.4L474.9 462.8L471.7 463.6L473.4 463.6L472.8 461.7L464.3 462.4L461.3 459.4L462.7 452.8L461.1 454.5L461.6 453.9L460.1 454.3L456.7 452.9L459.4 450.8L459.6 450.1L457.0 445.7L455.5 444.3L453.6 444.8L455.3 446.8M470.8 449.6L474.2 450.6L475.8 447.8L478.1 453.6L478.8 456.3L476.8 456.5L476.1 458.0L476.1 458.4L473.3 455.3L473.0 461.2L470.3 462.0L473.6 460.0L469.1 460.5L469.0 458.1L472.8 459.5L472.6 456.0L475.6 458.5L477.3 462.2L474.2 459.3L476.1 460.1L475.5 458.6L477.8 458.9L479.5 455.9L479.0 456.8L481.0 452.7L479.8 451.2L479.1 451.1L479.6 453.1L479.7 453.0L481.3 456.5L480.7 454.4L484.6 456.6L489.3 455.5L487.1 455.0L485.8 451.5L486.9 448.1L478.7 448.4L475.4 449.4L472.1 446.4L466.7 443.9L466.1 449.6L468.0 448.4L471.5 449.3L466.6 445.4L462.9 444.6L463.4 443.7M466.9 450.5L467.5 452.6L464.9 455.7L463.0 455.0L467.6 456.4L467.9 451.7L468.2 451.0L467.7 453.8L466.4 458.2L466.7 458.4L466.0 458.4L469.7 458.7L467.1 456.6L470.3 457.8L468.0 457.3L468.3 458.5L465.9 458.5L462.8 456.4L462.6 459.6L462.8 463.3L464.2 465.9L464.1 460.8L458.8 459.4L464.0 458.8L463.0 460.0L462.4 458.7L463.4 459.4L462.2 457.2L466.8 454.9L464.6 454.5L464.5 455.2L468.9 458.3L468.8 458.4L471.4 457.8L471.7 455.0L472.6 454.8L468.7 455.3L474.5 456.1L472.1 459.1L472.8 459.3L476.6 461.2L481.5 458.9L479.7 458.4L479.6 455.3L479.7 451.9L477.6 451.5M470.5 455.8L468.5 456.5L469.3 456.2L469.4 454.8L474.1 458.1L474.4 461.1L471.9 459.5L470.9 460.2L470.0 457.7L466.0 454.8L468.7 456.0L465.1 460.4L464.1 458.9L464.0 458.8L463.3 458.4L465.7 460.4L464.1 459.6L462.5 458.3L462.7 457.3L464.6 454.9L465.9 456.6L465.3 455.7L467.1 454.7L466.4 455.2L460.2 456.9L461.4 458.1L458.3 456.9L460.1 458.1L459.1 456.8L463.7 457.3L467.2 453.9L468.4 452.6L467.2 455.7L464.6 453.4L463.1 452.9L463.5 454.0L467.1 455.1L471.8 457.7L473.0 457.1L476.4 456.2L478.5 456.2L476.5 457.7L477.9 458.2L480.2 458.3L477.6 458.3L482.0 455.7M465.6 457.4L464.6 459.9L465.2 458.0L465.4 456.2L466.2 458.0L467.9 459.9L468.0 461.9L468.6 459.2L470.2 457.4L469.4 454.6L468.4 451.0L467.0 450.0L465.7 449.9L466.9 449.9L467.6 452.5L467.0 455.6L467.1 455.7L467.6 458.3L466.3 459.9L465.9 459.9L465.0 455.1L466.7 456.7L465.6 455.1L464.4 455.2L467.2 455.1L465.3 456.6L464.5 453.8L465.3 454.1L465.8 455.6L467.2 452.0L467.5 454.5L469.1 452.9L466.9 451.2L467.5 451.3L468.6 451.5L467.1 449.9L467.0 452.1L468.9 450.7L469.4 451.1L468.0 449.4L469.9 449.3M468.7 458.7L469.1 459.8L468.1 458.9L468.5 459.4L467.7 456.2L468.8 457.8L469.9 457.6L467.7 456.8L470.2 457.4L470.4 454.5L469.5 456.5L469.8 456.3L471.2 457.7L471.7 457.4L472.0 459.3L472.1 456.8L471.6 456.4L471.9 458.8L471.6 457.9L472.2 458.7L471.0 459.4L471.1 459.9L469.1 456.1L467.3 453.1L468.6 455.3L467.0 458.1L465.8 456.6L468.6 454.3L469.5 456.1L470.8 457.4L470.9 460.2L470.7 460.2L471.0 459.3L470.6 461.4L472.4 462.2L472.0 460.9L471.3 460.0L470.6 459.6L470.2 461.4L468.4 460.3L469.4 459.4M468.1 458.9L468.1 457.1L468.3 458.3L466.4 459.9L464.5 461.0L463.3 461.1L463.7 462.7L464.0 461.5L463.5 461.6L463.7 462.9L464.6 464.7L465.8 464.5L466.0 465.1L467.1 462.0L467.8 461.0L468.2 462.2L466.0 461.6L467.4 458.2L467.8 458.2L467.3 459.8L468.5 459.6L470.2 462.2L470.4 463.3L471.3 466.0L472.1 466.6L472.0 467.3L473.6 466.4L473.2 463.9L475.9 462.7L474.8 461.3L475.7 461.7L472.8 461.7L474.7 461.3L474.4 466.3L473.7 465.3L474.1 469.1L474.2 465.3L473.7 464.3L474.2 463.2L474.0 460.4L472.1 460.4M471.8 454.8L469.7 457.3L470.2 458.8L469.9 459.2L469.7 459.1L471.8 458.3L471.2 458.3L470.8 461.4L470.5 461.9L469.0 462.6L469.8 463.5L467.8 461.9L464.8 464.7L465.1 467.2L467.7 468.3L467.1 467.1L468.2 462.9L470.0 465.2L471.0 464.1L471.3 460.8L470.0 459.8L469.1 462.7L469.6 457.9L471.0 458.9L470.6 457.5L473.0 458.0L473.0 455.1L472.0 457.0L472.0 456.3L471.4 453.5L468.3 454.9L466.7 452.3L467.3 454.5L467.0 456.8L467.3 451.2L469.4 449.8L471.2 449.9L471.0 449.7L469.7 451.5L471.6 454.4L470.8 455.6M487.2 470.0L484.7 474.0L483.4 472.0L483.7 472.2L482.8 469.3L480.8 469.3L477.8 471.5L479.5 471.8L480.3 469.8L479.7 471.5L479.2 474.5L481.5 475.4L481.3 473.1L481.4 470.8L481.0 470.0L480.3 472.2L479.1 470.4L481.7 470.8L482.8 469.4L483.6 472.0L483.7 472.6L486.0 473.5L488.2 470.8L484.7 468.4L485.5 467.1L481.9 470.8L484.5 469.6L483.3 468.2L484.7 469.1L485.0 471.9L483.5 469.2M484.3 468.1L484.5 469.0L481.8 472.2L478.8 472.6L480.0 473.9L480.7 471.9L480.7 468.9L480.8 468.4L477.7 472.9L477.2 473.6L480.2 473.2L479.8 470.6L478.9 469.0L479.1 470.6L479.9 473.5L481.0 473.6L475.8 472.9L477.0 469.6L477.5 468.1L477.7 468.1L477.8 468.0L479.0 468.7L478.3 470.5L478.9 471.1L482.5 474.3L486.6 473.4L487.2 474.0L487.2 473.3L488.5 475.2L492.2 473.6L492.4 471.7M483.6 461.2L487.5 458.6L487.5 455.9L486.7 454.8L482.8 453.9L482.5 454.8L479.2 457.2L479.1 455.9L482.3 455.5L482.9 459.6L483.1 460.1L485.0 459.9L485.1 460.3L484.4 462.5L484.9 465.8L485.6 463.2L486.2 463.1L485.6 465.5L486.3 462.5L489.8 462.8L486.5 462.6L487.2 460.8L485.4 457.9L485.9 457.7L488.5 459.1L488.6 458.6L490.1 456.7L490.1 458.6L488.3 457.0L490.1 461.6L490.3 465.8M485.5 467.7L484.7 465.3L486.4 464.4L485.1 465.5L485.9 464.3L486.2 464.3L486.3 464.4L485.4 459.8L484.3 462.9L483.7 463.7L484.9 462.1L485.0 462.1L485.6 463.8L485.6 463.8L487.3 464.4L484.4 467.2L485.2 466.1L485.1 464.4L485.3 461.8L487.0 463.3L485.0 464.7L482.4 463.9L480.7 465.7L482.3 463.2L482.8 464.6L482.3 469.8L479.6 472.3L482.7 471.3L480.8 473.5L476.7 473.0L474.7 472.6M482.7 464.3L483.9 466.9L481.4 468.4L481.9 467.0L481.1 468.2L483.4 467.7L479.0 469.3L480.2 465.3L479.6 465.5L479.4 466.4L478.2 467.8L473.7 468.5L473.5 468.3L475.6 471.0L474.4 470.5L473.3 470.4L473.2 467.8L476.1 468.6L476.7 471.2L474.4 471.7L478.0 470.7L476.9 468.9L479.7 471.0L480.7 472.6L479.7 471.4L481.6 469.3L482.2 469.1L480.8 469.4L478.7 468.0L475.6 465.5L474.7 466.4" fill="none" stroke="#000" stroke-width="0.55" stroke-linejoin="round"/>
<circle cx="447.0" cy="434.9" r="1.75" fill="#000"/>
<circle cx="454.4" cy="443.5" r="1.75" fill="#000"/>
<circle cx="452.7" cy="450.4" r="1.75" fill="#000"/>
<circle cx="480.8" cy="451.2" r="1.75" fill="#000"/>
<circle cx="432.6" cy="487.7" r="1.75" fill="#000"/>
<circle cx="449.3" cy="506.6" r="1.75" fill="#000"/>
<circle cx="469.3" cy="496.3" r="1.75" fill="#000"/>
<circle cx="478.5" cy="474.5" r="1.75" fill="#000"/>
<circle cx="486.5" cy="476.2" r="1.75" fill="#000"/>
<circle cx="502.0" cy="480.8" r="1.75" fill="#000"/>
<circle cx="501.5" cy="488.3" r="1.75" fill="#000"/>
<circle cx="511.2" cy="477.4" r="1.75" fill="#000"/>
<circle cx="468.2" cy="460.7" r="1.75" fill="#000"/>
<circle cx="468.8" cy="447.0" r="1.75" fill="#000"/>
<text x="39.7" y="346.6" font-size="27.5" font-weight="bold" fill="#222">B</text>
<line x1="742.2" y1="381.9" x2="742.2" y2="527.5" stroke="#000" stroke-width="1.7"/>
<line x1="737.4" y1="526.6" x2="805.2" y2="526.6" stroke="#000" stroke-width="1.7"/>
<line x1="737.4" y1="382.7" x2="742.2" y2="382.7" stroke="#000" stroke-width="1.5"/>
<text x="727.3" y="387.9" font-size="16" text-anchor="end" fill="#222">200</text>
<line x1="737.4" y1="418.6" x2="742.2" y2="418.6" stroke="#000" stroke-width="1.5"/>
<text x="727.3" y="423.8" font-size="16" text-anchor="end" fill="#222">150</text>
<line x1="737.4" y1="454.6" x2="742.2" y2="454.6" stroke="#000" stroke-width="1.5"/>
<text x="727.3" y="459.8" font-size="16" text-anchor="end" fill="#222">100</text>
<line x1="737.4" y1="490.6" x2="742.2" y2="490.6" stroke="#000" stroke-width="1.5"/>
<text x="727.3" y="495.8" font-size="16" text-anchor="end" fill="#222">50</text>
<line x1="737.4" y1="526.6" x2="742.2" y2="526.6" stroke="#000" stroke-width="1.5"/>
<text x="727.3" y="531.8" font-size="16" text-anchor="end" fill="#222">0</text>
<line x1="757.8" y1="420.8" x2="757.8" y2="424.9" stroke="#000" stroke-width="1.5"/>
<line x1="749.8" y1="420.8" x2="765.8" y2="420.8" stroke="#000" stroke-width="1.5"/>
<rect x="748.55" y="425.75" width="18.50" height="100.85" fill="#fff" stroke="#000" stroke-width="1.7"/>
<line x1="789.1" y1="424.9" x2="789.1" y2="425.4" stroke="#000" stroke-width="1.5"/>
<line x1="781.1" y1="424.9" x2="797.1" y2="424.9" stroke="#000" stroke-width="1.5"/>
<rect x="780.15" y="426.25" width="17.90" height="100.35" fill="#808080" stroke="#000" stroke-width="1.7"/>
<line x1="757.7" y1="526.6" x2="757.7" y2="531.6" stroke="#000" stroke-width="1.5"/>
<line x1="789.3" y1="526.6" x2="789.3" y2="531.6" stroke="#000" stroke-width="1.5"/>
<text transform="translate(687.8 453.9) rotate(-90)" font-size="16" text-anchor="middle" fill="#222">distance [µm]</text>
<text x="741.8" y="555.3" font-size="16" text-anchor="end" fill="#222">ctr</text>
<text x="742.8" y="577.9" font-size="16" text-anchor="end" fill="#222">mimic</text>
<text x="757.6" y="555.1" font-size="15" text-anchor="middle" fill="#222">+</text>
<text x="789.3" y="555.1" font-size="15" text-anchor="middle" fill="#222">-</text>
<text x="757.6" y="577.9" font-size="15" text-anchor="middle" fill="#222">-</text>
<text x="789.3" y="577.9" font-size="15" text-anchor="middle" fill="#222">+</text>
<line x1="934.9" y1="384.0" x2="934.9" y2="529.1" stroke="#000" stroke-width="1.7"/>
<line x1="930.1" y1="528.3" x2="1004.6" y2="528.3" stroke="#000" stroke-width="1.7"/>
<line x1="930.1" y1="384.8" x2="934.9" y2="384.8" stroke="#000" stroke-width="1.5"/>
<text x="919.4" y="390.0" font-size="16" text-anchor="end" fill="#222">0.20</text>
<line x1="930.1" y1="420.7" x2="934.9" y2="420.7" stroke="#000" stroke-width="1.5"/>
<text x="919.4" y="425.9" font-size="16" text-anchor="end" fill="#222">0.15</text>
<line x1="930.1" y1="456.6" x2="934.9" y2="456.6" stroke="#000" stroke-width="1.5"/>
<text x="919.4" y="461.8" font-size="16" text-anchor="end" fill="#222">0.10</text>
<line x1="930.1" y1="492.4" x2="934.9" y2="492.4" stroke="#000" stroke-width="1.5"/>
<text x="919.4" y="497.6" font-size="16" text-anchor="end" fill="#222">0.05</text>
<line x1="930.1" y1="528.3" x2="934.9" y2="528.3" stroke="#000" stroke-width="1.5"/>
<text x="919.4" y="533.5" font-size="16" text-anchor="end" fill="#222">0</text>
<line x1="949.7" y1="421.7" x2="949.7" y2="425.9" stroke="#000" stroke-width="1.5"/>
<line x1="942.1" y1="421.7" x2="957.3" y2="421.7" stroke="#000" stroke-width="1.5"/>
<rect x="941.05" y="426.75" width="17.30" height="101.55" fill="#fff" stroke="#000" stroke-width="1.7"/>
<line x1="981.9" y1="424.9" x2="981.9" y2="427.4" stroke="#000" stroke-width="1.5"/>
<line x1="974.1" y1="424.9" x2="989.7" y2="424.9" stroke="#000" stroke-width="1.5"/>
<rect x="973.35" y="428.25" width="17.10" height="100.05" fill="#808080" stroke="#000" stroke-width="1.7"/>
<line x1="949.7" y1="528.3" x2="949.7" y2="533.3" stroke="#000" stroke-width="1.5"/>
<line x1="982.0" y1="528.3" x2="982.0" y2="533.3" stroke="#000" stroke-width="1.5"/>
<text transform="translate(880.4 456.5) rotate(-90)" font-size="16" text-anchor="middle" fill="#222">velocity [µm/min]</text>
<text x="933.9" y="556.8" font-size="16" text-anchor="end" fill="#222">ctr</text>
<text x="934.9" y="580.0" font-size="16" text-anchor="end" fill="#222">mimic</text>
<text x="949.8" y="556.6" font-size="15" text-anchor="middle" fill="#222">+</text>
<text x="984.7" y="556.6" font-size="15" text-anchor="middle" fill="#222">-</text>
<text x="949.8" y="579.3" font-size="15" text-anchor="middle" fill="#222">-</text>
<text x="984.7" y="579.3" font-size="15" text-anchor="middle" fill="#222">+</text>
<line x1="150.0" y1="685.6" x2="150.0" y2="831.2" stroke="#000" stroke-width="1.6"/>
<line x1="145.4" y1="830.5" x2="215.5" y2="830.5" stroke="#000" stroke-width="1.6"/>
<line x1="145.4" y1="686.4" x2="150.0" y2="686.4" stroke="#000" stroke-width="1.6"/>
<text x="137.9" y="691.6" font-size="16" text-anchor="end" fill="#222">1.5</text>
<line x1="145.4" y1="734.5" x2="150.0" y2="734.5" stroke="#000" stroke-width="1.6"/>
<text x="137.9" y="739.7" font-size="16" text-anchor="end" fill="#222">1.0</text>
<line x1="145.4" y1="782.6" x2="150.0" y2="782.6" stroke="#000" stroke-width="1.6"/>
<text x="137.9" y="787.8" font-size="16" text-anchor="end" fill="#222">0.5</text>
<line x1="145.4" y1="830.5" x2="150.0" y2="830.5" stroke="#000" stroke-width="1.6"/>
<text x="137.9" y="835.7" font-size="16" text-anchor="end" fill="#222">0.0</text>
<rect x="157.45" y="735.3" width="17.4" height="95.2" fill="#fff" stroke="#000" stroke-width="1.5"/>
<line x1="198.4" y1="762.4" x2="198.4" y2="771.0" stroke="#000" stroke-width="1.6"/>
<line x1="193.6" y1="762.4" x2="203.0" y2="762.4" stroke="#000" stroke-width="1.6"/>
<rect x="189.75" y="771.2" width="17.4" height="59.3" fill="#808080" stroke="#000" stroke-width="1.5"/>
<line x1="165.9" y1="830.5" x2="165.9" y2="835.7" stroke="#000" stroke-width="1.6"/>
<line x1="198.3" y1="830.5" x2="198.3" y2="835.7" stroke="#000" stroke-width="1.6"/>
<text x="199.2" y="760.8" font-size="16" text-anchor="middle" fill="#222">***</text>
<text transform="translate(90.2 758.5) rotate(-90)" font-size="16" text-anchor="middle" fill="#222">macrophage infiltration</text>
<text transform="translate(107.6 758.5) rotate(-90)" font-size="16" text-anchor="middle" fill="#222">(ctr = 1)</text>
<text x="149.6" y="856.9" font-size="16" text-anchor="end" fill="#222">ctr</text>
<text x="150.4" y="880.4" font-size="16" text-anchor="end" fill="#222">mimic</text>
<text x="165.9" y="861.3" font-size="15" text-anchor="middle" fill="#222">+</text>
<text x="198.2" y="861.3" font-size="15" text-anchor="middle" fill="#222">-</text>
<text x="165.9" y="882.7" font-size="15" text-anchor="middle" fill="#222">-</text>
<text x="198.2" y="882.7" font-size="15" text-anchor="middle" fill="#222">+</text>
<text x="40.2" y="671.3" font-size="27.5" font-weight="bold" fill="#222">C</text>
<rect x="419.0" y="752.4" width="34.0" height="34.0" fill="#0000ff" stroke="#0a0a20" stroke-width="0.9"/>
<rect x="453.0" y="752.4" width="34.0" height="34.0" fill="#a6a6ff" stroke="#0a0a20" stroke-width="0.9"/>
<rect x="487.0" y="752.4" width="34.0" height="34.0" fill="#5252ff" stroke="#0a0a20" stroke-width="0.9"/>
<rect x="521.0" y="752.4" width="34.0" height="34.0" fill="#a8a8ff" stroke="#0a0a20" stroke-width="0.9"/>
<rect x="555.0" y="752.4" width="34.0" height="34.0" fill="#c7c7ff" stroke="#0a0a20" stroke-width="0.9"/>
<rect x="589.0" y="752.4" width="34.0" height="34.0" fill="#8f8fff" stroke="#0a0a20" stroke-width="0.9"/>
<rect x="623.0" y="752.4" width="34.0" height="34.0" fill="#8a8aff" stroke="#0a0a20" stroke-width="0.9"/>
<rect x="657.0" y="752.4" width="34.0" height="34.0" fill="#8787ff" stroke="#0a0a20" stroke-width="0.9"/>
<rect x="453.0" y="786.4" width="34.0" height="34.0" fill="#0000ff" stroke="#0a0a20" stroke-width="0.9"/>
<rect x="487.0" y="786.4" width="34.0" height="34.0" fill="#babaff" stroke="#0a0a20" stroke-width="0.9"/>
<rect x="521.0" y="786.4" width="34.0" height="34.0" fill="#4040ff" stroke="#0a0a20" stroke-width="0.9"/>
<rect x="555.0" y="786.4" width="34.0" height="34.0" fill="#8c8cff" stroke="#0a0a20" stroke-width="0.9"/>
<rect x="589.0" y="786.4" width="34.0" height="34.0" fill="#a8a8ff" stroke="#0a0a20" stroke-width="0.9"/>
<rect x="623.0" y="786.4" width="34.0" height="34.0" fill="#4242ff" stroke="#0a0a20" stroke-width="0.9"/>
<rect x="657.0" y="786.4" width="34.0" height="34.0" fill="#9494ff" stroke="#0a0a20" stroke-width="0.9"/>
<rect x="487.0" y="820.4" width="34.0" height="34.0" fill="#0000ff" stroke="#0a0a20" stroke-width="0.9"/>
<rect x="521.0" y="820.4" width="34.0" height="34.0" fill="#7373ff" stroke="#0a0a20" stroke-width="0.9"/>
<rect x="555.0" y="820.4" width="34.0" height="34.0" fill="#7a7aff" stroke="#0a0a20" stroke-width="0.9"/>
<rect x="589.0" y="820.4" width="34.0" height="34.0" fill="#6666ff" stroke="#0a0a20" stroke-width="0.9"/>
<rect x="623.0" y="820.4" width="34.0" height="34.0" fill="#5757ff" stroke="#0a0a20" stroke-width="0.9"/>
<rect x="657.0" y="820.4" width="34.0" height="34.0" fill="#3d3dff" stroke="#0a0a20" stroke-width="0.9"/>
<rect x="521.0" y="854.4" width="34.0" height="34.0" fill="#0000ff" stroke="#0a0a20" stroke-width="0.9"/>
<rect x="555.0" y="854.4" width="34.0" height="34.0" fill="#a3a3ff" stroke="#0a0a20" stroke-width="0.9"/>
<rect x="589.0" y="854.4" width="34.0" height="34.0" fill="#6161ff" stroke="#0a0a20" stroke-width="0.9"/>
<rect x="623.0" y="854.4" width="34.0" height="34.0" fill="#5454ff" stroke="#0a0a20" stroke-width="0.9"/>
<rect x="657.0" y="854.4" width="34.0" height="34.0" fill="#6161ff" stroke="#0a0a20" stroke-width="0.9"/>
<rect x="555.0" y="888.4" width="34.0" height="34.0" fill="#0000ff" stroke="#0a0a20" stroke-width="0.9"/>
<rect x="589.0" y="888.4" width="34.0" height="34.0" fill="#fcfcff" stroke="#0a0a20" stroke-width="0.9"/>
<rect x="623.0" y="888.4" width="34.0" height="34.0" fill="#6363ff" stroke="#0a0a20" stroke-width="0.9"/>
<rect x="657.0" y="888.4" width="34.0" height="34.0" fill="#9696ff" stroke="#0a0a20" stroke-width="0.9"/>
<rect x="589.0" y="922.4" width="34.0" height="34.0" fill="#0000ff" stroke="#0a0a20" stroke-width="0.9"/>
<rect x="623.0" y="922.4" width="34.0" height="34.0" fill="#6e6eff" stroke="#0a0a20" stroke-width="0.9"/>
<rect x="657.0" y="922.4" width="34.0" height="34.0" fill="#4a4aff" stroke="#0a0a20" stroke-width="0.9"/>
<rect x="623.0" y="956.4" width="34.0" height="34.0" fill="#0000ff" stroke="#0a0a20" stroke-width="0.9"/>
<rect x="657.0" y="956.4" width="34.0" height="34.0" fill="#3636ff" stroke="#0a0a20" stroke-width="0.9"/>
<rect x="657.0" y="990.4" width="34.0" height="34.0" fill="#0000ff" stroke="#0a0a20" stroke-width="0.9"/>
<text x="436.0" y="773.3" font-size="12.5" text-anchor="middle" fill="#fff">1.00</text>
<text x="470.0" y="773.3" font-size="12.5" text-anchor="middle" fill="#1a1a1a">0.35</text>
<text x="504.0" y="773.3" font-size="12.5" text-anchor="middle" fill="#fff">0.68</text>
<text x="538.0" y="773.3" font-size="12.5" text-anchor="middle" fill="#1a1a1a">0.34</text>
<text x="572.0" y="773.3" font-size="12.5" text-anchor="middle" fill="#1a1a1a">0.22</text>
<text x="606.0" y="773.3" font-size="12.5" text-anchor="middle" fill="#1a1a1a">0.44</text>
<text x="640.0" y="773.3" font-size="12.5" text-anchor="middle" fill="#1a1a1a">0.46</text>
<text x="674.0" y="773.3" font-size="12.5" text-anchor="middle" fill="#1a1a1a">0.47</text>
<text x="470.0" y="807.3" font-size="12.5" text-anchor="middle" fill="#fff">1.00</text>
<text x="504.0" y="807.3" font-size="12.5" text-anchor="middle" fill="#1a1a1a">0.27</text>
<text x="538.0" y="807.3" font-size="12.5" text-anchor="middle" fill="#fff">0.75</text>
<text x="572.0" y="807.3" font-size="12.5" text-anchor="middle" fill="#1a1a1a">0.45</text>
<text x="606.0" y="807.3" font-size="12.5" text-anchor="middle" fill="#1a1a1a">0.34</text>
<text x="640.0" y="807.3" font-size="12.5" text-anchor="middle" fill="#fff">0.74</text>
<text x="674.0" y="807.3" font-size="12.5" text-anchor="middle" fill="#1a1a1a">0.42</text>
<text x="504.0" y="841.3" font-size="12.5" text-anchor="middle" fill="#fff">1.00</text>
<text x="538.0" y="841.3" font-size="12.5" text-anchor="middle" fill="#1a1a1a">0.55</text>
<text x="572.0" y="841.3" font-size="12.5" text-anchor="middle" fill="#1a1a1a">0.52</text>
<text x="606.0" y="841.3" font-size="12.5" text-anchor="middle" fill="#fff">0.60</text>
<text x="640.0" y="841.3" font-size="12.5" text-anchor="middle" fill="#fff">0.66</text>
<text x="674.0" y="841.3" font-size="12.5" text-anchor="middle" fill="#fff">0.76</text>
<text x="538.0" y="875.3" font-size="12.5" text-anchor="middle" fill="#fff">1.00</text>
<text x="572.0" y="875.3" font-size="12.5" text-anchor="middle" fill="#1a1a1a">0.36</text>
<text x="606.0" y="875.3" font-size="12.5" text-anchor="middle" fill="#fff">0.62</text>
<text x="640.0" y="875.3" font-size="12.5" text-anchor="middle" fill="#fff">0.67</text>
<text x="674.0" y="875.3" font-size="12.5" text-anchor="middle" fill="#fff">0.62</text>
<text x="572.0" y="909.3" font-size="12.5" text-anchor="middle" fill="#fff">1.00</text>
<text x="606.0" y="909.3" font-size="12.5" text-anchor="middle" fill="#1a1a1a">0.01</text>
<text x="640.0" y="909.3" font-size="12.5" text-anchor="middle" fill="#fff">0.61</text>
<text x="674.0" y="909.3" font-size="12.5" text-anchor="middle" fill="#1a1a1a">0.41</text>
<text x="606.0" y="943.3" font-size="12.5" text-anchor="middle" fill="#fff">1.00</text>
<text x="640.0" y="943.3" font-size="12.5" text-anchor="middle" fill="#1a1a1a">0.57</text>
<text x="674.0" y="943.3" font-size="12.5" text-anchor="middle" fill="#fff">0.71</text>
<text x="640.0" y="977.3" font-size="12.5" text-anchor="middle" fill="#fff">1.00</text>
<text x="674.0" y="977.3" font-size="12.5" text-anchor="middle" fill="#fff">0.79</text>
<text x="674.0" y="1011.3" font-size="12.5" text-anchor="middle" fill="#fff">1.00</text>
<text x="407.8" y="775.2" font-size="16" text-anchor="end" fill="#222">infiltration</text>
<text transform="translate(442.0 743.3) rotate(-90)" font-size="16" fill="#222">infiltration</text>
<text x="441.8" y="809.2" font-size="16" text-anchor="end" fill="#222">MMD</text>
<text transform="translate(476.0 743.3) rotate(-90)" font-size="16" fill="#222">MMD</text>
<text x="475.8" y="843.2" font-size="16" text-anchor="end" fill="#222">PPM1F</text>
<text transform="translate(510.0 743.3) rotate(-90)" font-size="16" fill="#222">PPM1F</text>
<text x="509.8" y="877.2" font-size="16" text-anchor="end" fill="#222">ARL2BP</text>
<text transform="translate(544.0 743.3) rotate(-90)" font-size="16" fill="#222">ARL2BP</text>
<text x="543.8" y="911.2" font-size="16" text-anchor="end" fill="#222">FRMD4B</text>
<text transform="translate(578.0 743.3) rotate(-90)" font-size="16" fill="#222">FRMD4B</text>
<text x="577.8" y="945.2" font-size="16" text-anchor="end" fill="#222">RAB11FIP2</text>
<text transform="translate(612.0 743.3) rotate(-90)" font-size="16" fill="#222">RAB11FIP2</text>
<text x="611.8" y="979.2" font-size="16" text-anchor="end" fill="#222">RDX</text>
<text transform="translate(646.0 743.3) rotate(-90)" font-size="16" fill="#222">RDX</text>
<text x="645.8" y="1013.2" font-size="16" text-anchor="end" fill="#222">MSN</text>
<text transform="translate(680.0 743.3) rotate(-90)" font-size="16" fill="#222">MSN</text>
<rect x="712.2" y="888.5" width="7.8" height="137.2" fill="url(#cb)" stroke="#8a8a8a" stroke-width="0.9"/>
<line x1="712.6" y1="998.5" x2="714.0" y2="998.5" stroke="#112" stroke-width="0.9"/>
<line x1="718.2" y1="998.5" x2="719.6" y2="998.5" stroke="#112" stroke-width="0.9"/>
<line x1="712.6" y1="971.0" x2="714.0" y2="971.0" stroke="#112" stroke-width="0.9"/>
<line x1="718.2" y1="971.0" x2="719.6" y2="971.0" stroke="#112" stroke-width="0.9"/>
<line x1="712.6" y1="943.5" x2="714.0" y2="943.5" stroke="#112" stroke-width="0.9"/>
<line x1="718.2" y1="943.5" x2="719.6" y2="943.5" stroke="#112" stroke-width="0.9"/>
<line x1="712.6" y1="916.0" x2="714.0" y2="916.0" stroke="#112" stroke-width="0.9"/>
<line x1="718.2" y1="916.0" x2="719.6" y2="916.0" stroke="#112" stroke-width="0.9"/>
<text x="737.3" y="1029.6" font-size="16" text-anchor="middle" fill="#222">0</text>
<text x="725.2" y="1004.1" font-size="16" fill="#222">0.2</text>
<text x="725.2" y="976.6" font-size="16" fill="#222">0.4</text>
<text x="725.2" y="949.1" font-size="16" fill="#222">0.6</text>
<text x="725.2" y="921.6" font-size="16" fill="#222">0.8</text>
<text x="725.2" y="894.1" font-size="16" fill="#222">1.0</text>
<text x="322.3" y="670.6" font-size="27.5" font-weight="bold" fill="#222">D</text>
</svg>
</body></html>
